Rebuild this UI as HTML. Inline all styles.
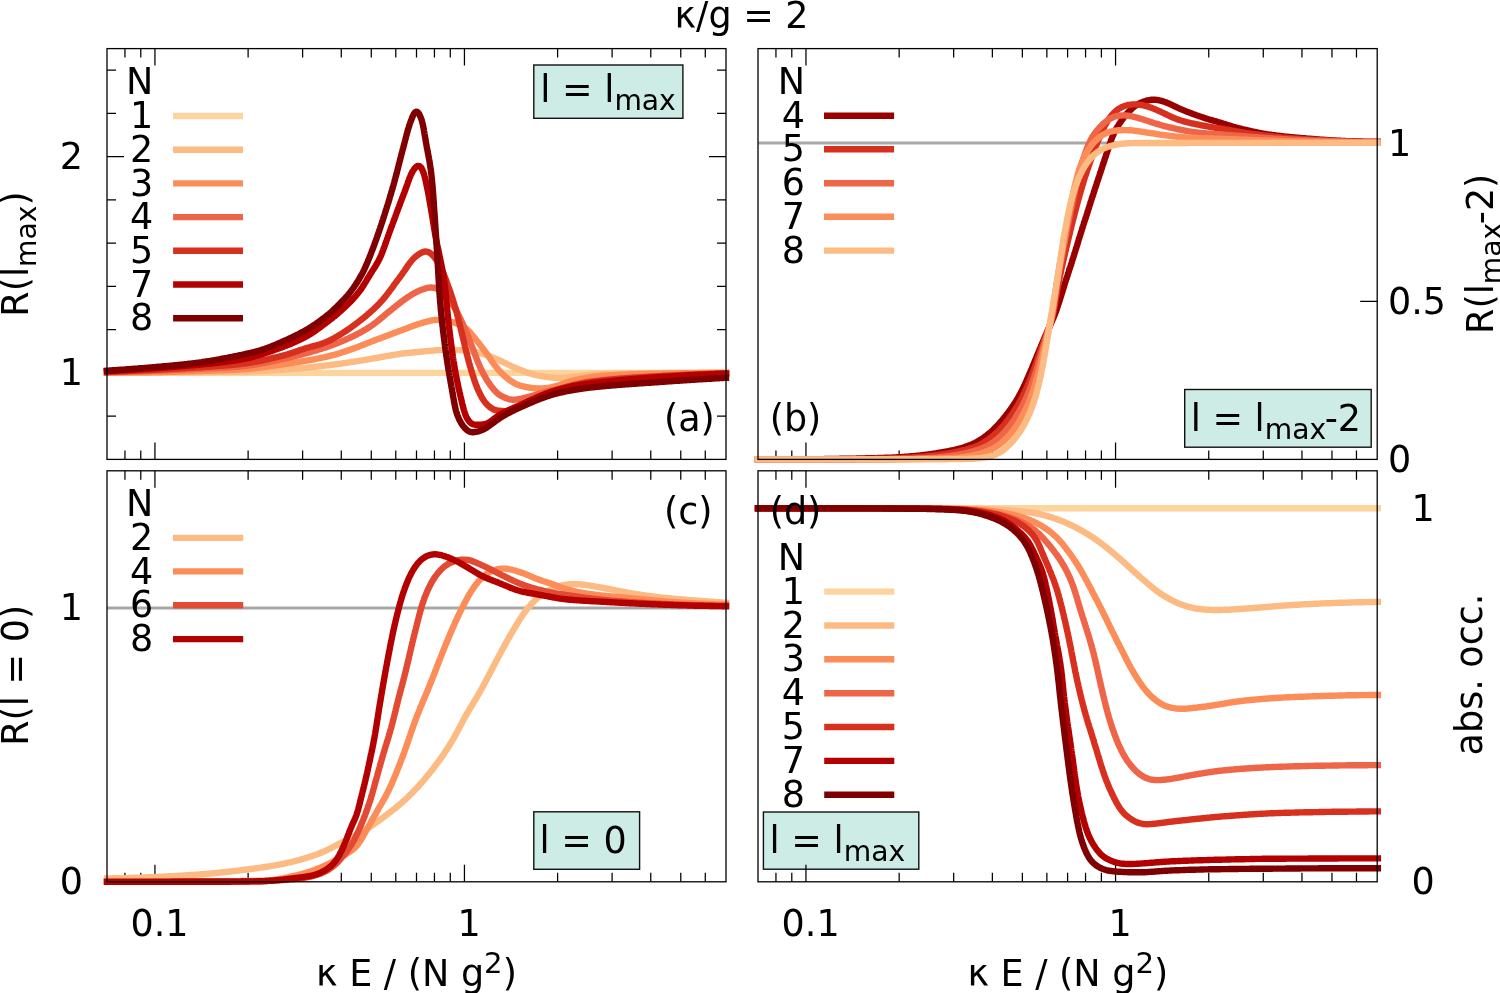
<!DOCTYPE html>
<html><head><meta charset="utf-8"><title>plot</title>
<style>html,body{margin:0;padding:0;background:#fff;}svg{display:block;}text{font-family:"DejaVu Sans", "Liberation Sans", sans-serif;fill:#000;}</style>
</head><body>
<svg width="1500" height="993" viewBox="0 0 1500 993">
<rect width="1500" height="993" fill="#fff"/>
<defs>
<clipPath id="clipa"><rect x="103" y="44.6" width="627" height="418.79999999999995"/></clipPath>
<clipPath id="clipb"><rect x="754" y="44.6" width="627.2" height="418.79999999999995"/></clipPath>
<clipPath id="clipc"><rect x="103" y="466.8" width="627" height="418.99999999999994"/></clipPath>
<clipPath id="clipd"><rect x="754" y="466.8" width="627.2" height="418.99999999999994"/></clipPath>
</defs>
<text x="741.6" y="27.8" text-anchor="middle" font-size="36.5" >κ/g = 2</text>
<rect x="533.8" y="65.0" width="149.1" height="53.3" fill="#cdece5" stroke="#111" stroke-width="1.4"/>
<text x="540.3" y="101.6" font-size="36.5">l = l<tspan font-size="28.2" dy="8.3">max</tspan></text>
<path d="M124.95 459.4v-9M124.95 48.6v9M140.78 459.4v-9M140.78 48.6v9M154.94 459.4v-17M154.94 48.6v17M248.11 459.4v-9M248.11 48.6v9M302.61 459.4v-9M302.61 48.6v9M341.28 459.4v-9M341.28 48.6v9M371.27 459.4v-9M371.27 48.6v9M395.78 459.4v-9M395.78 48.6v9M416.50 459.4v-9M416.50 48.6v9M434.45 459.4v-9M434.45 48.6v9M450.28 459.4v-9M450.28 48.6v9M464.44 459.4v-17M464.44 48.6v17M557.61 459.4v-9M557.61 48.6v9M612.11 459.4v-9M612.11 48.6v9M650.78 459.4v-9M650.78 48.6v9M680.77 459.4v-9M680.77 48.6v9M705.28 459.4v-9M705.28 48.6v9M107 372.92h17M726 372.92h-17M107 156.71h17M726 156.71h-17M107 416.16h9M726 416.16h-9M107 329.67h9M726 329.67h-9M107 286.43h9M726 286.43h-9M107 243.19h9M726 243.19h-9M107 199.95h9M726 199.95h-9M107 113.46h9M726 113.46h-9M107 70.22h9M726 70.22h-9" stroke="#000" stroke-width="1.25" fill="none"/>
<text x="153.3" y="93.8" text-anchor="end" font-size="36.5" >N</text>
<text x="153.3" y="128.1" text-anchor="end" font-size="36.5" >1</text>
<path d="M173.1 116.0H243" stroke="#fdd49e" stroke-width="6.4"/>
<text x="153.3" y="161.8" text-anchor="end" font-size="36.5" >2</text>
<path d="M173.1 149.7H243" stroke="#fdbb84" stroke-width="6.4"/>
<text x="153.3" y="195.5" text-anchor="end" font-size="36.5" >3</text>
<path d="M173.1 183.4H243" stroke="#fc8d59" stroke-width="6.4"/>
<text x="153.3" y="229.2" text-anchor="end" font-size="36.5" >4</text>
<path d="M173.1 217.1H243" stroke="#ef6548" stroke-width="6.4"/>
<text x="153.3" y="262.9" text-anchor="end" font-size="36.5" >5</text>
<path d="M173.1 250.8H243" stroke="#d7301f" stroke-width="6.4"/>
<text x="153.3" y="296.6" text-anchor="end" font-size="36.5" >7</text>
<path d="M173.1 284.5H243" stroke="#b30000" stroke-width="6.4"/>
<text x="153.3" y="330.3" text-anchor="end" font-size="36.5" >8</text>
<path d="M173.1 318.2H243" stroke="#7f0000" stroke-width="6.4"/>
<g clip-path="url(#clipa)">
<polyline points="107.0,372.9 108.0,372.9 109.0,372.9 110.0,372.9 111.0,372.9 112.0,372.9 113.0,372.9 114.0,372.9 115.0,372.9 116.0,372.9 117.0,372.9 118.0,372.9 119.0,372.9 120.0,372.9 121.0,372.9 122.0,372.9 123.0,372.9 124.0,372.9 125.0,372.9 126.0,372.9 127.0,372.9 128.0,372.9 129.0,372.9 130.0,372.9 131.0,372.9 132.0,372.9 133.0,372.9 134.0,372.9 135.0,372.9 136.0,372.9 137.0,372.9 138.0,372.9 139.0,372.9 140.0,372.9 141.0,372.9 142.0,372.9 143.0,372.9 144.0,372.9 145.0,372.9 146.0,372.9 147.0,372.9 148.0,372.9 149.0,372.9 150.0,372.9 151.0,372.9 152.0,372.9 153.0,372.9 154.0,372.9 155.0,372.9 156.0,372.9 157.0,372.9 158.0,372.9 159.0,372.9 160.0,372.9 161.0,372.9 162.0,372.9 163.0,372.9 164.0,372.9 165.0,372.9 166.0,372.9 167.0,372.9 168.0,372.9 169.0,372.9 170.0,372.9 171.0,372.9 172.0,372.9 173.0,372.9 174.0,372.9 175.0,372.9 176.0,372.9 177.0,372.9 178.0,372.9 179.0,372.9 180.0,372.9 181.0,372.9 182.0,372.9 183.0,372.9 184.0,372.9 185.0,372.9 186.0,372.9 187.0,372.9 188.0,372.9 189.0,372.9 190.0,372.9 191.0,372.9 192.0,372.9 193.0,372.9 194.0,372.9 195.0,372.9 196.0,372.9 197.0,372.9 198.0,372.9 199.0,372.9 200.0,372.9 201.0,372.9 202.0,372.9 203.0,372.9 204.0,372.9 205.0,372.9 206.0,372.9 207.0,372.9 208.0,372.9 209.0,372.9 210.0,372.9 211.0,372.9 212.0,372.9 213.0,372.9 214.0,372.9 215.0,372.9 216.0,372.9 217.0,372.9 218.0,372.9 219.0,372.9 220.0,372.9 221.0,372.9 222.0,372.9 223.0,372.9 224.0,372.9 225.0,372.9 226.0,372.9 227.0,372.9 228.0,372.9 229.0,372.9 230.0,372.9 231.0,372.9 232.0,372.9 233.0,372.9 234.0,372.9 235.0,372.9 236.0,372.9 237.0,372.9 238.0,372.9 239.0,372.9 240.0,372.9 241.0,372.9 242.0,372.9 243.0,372.9 244.0,372.9 245.0,372.9 246.0,372.9 247.0,372.9 248.0,372.9 249.0,372.9 250.0,372.9 251.0,372.9 252.0,372.9 253.0,372.9 254.0,372.9 255.0,372.9 256.0,372.9 257.0,372.9 258.0,372.9 259.0,372.9 260.0,372.9 261.0,372.9 262.0,372.9 263.0,372.9 264.0,372.9 265.0,372.9 266.0,372.9 267.0,372.9 268.0,372.9 269.0,372.9 270.0,372.9 271.0,372.9 272.0,372.9 273.0,372.9 274.0,372.9 275.0,372.9 276.0,372.9 277.0,372.9 278.0,372.9 279.0,372.9 280.0,372.9 281.0,372.9 282.0,372.9 283.0,372.9 284.0,372.9 285.0,372.9 286.0,372.9 287.0,372.9 288.0,372.9 289.0,372.9 290.0,372.9 291.0,372.9 292.0,372.9 293.0,372.9 294.0,372.9 295.0,372.9 296.0,372.9 297.0,372.9 298.0,372.9 299.0,372.9 300.0,372.9 301.0,372.9 302.0,372.9 303.0,372.9 304.0,372.9 305.0,372.9 306.0,372.9 307.0,372.9 308.0,372.9 309.0,372.9 310.0,372.9 311.0,372.9 312.0,372.9 313.0,372.9 314.0,372.9 315.0,372.9 316.0,372.9 317.0,372.9 318.0,372.9 319.0,372.9 320.0,372.9 321.0,372.9 322.0,372.9 323.0,372.9 324.0,372.9 325.0,372.9 326.0,372.9 327.0,372.9 328.0,372.9 329.0,372.9 330.0,372.9 331.0,372.9 332.0,372.9 333.0,372.9 334.0,372.9 335.0,372.9 336.0,372.9 337.0,372.9 338.0,372.9 339.0,372.9 340.0,372.9 341.0,372.9 342.0,372.9 343.0,372.9 344.0,372.9 345.0,372.9 346.0,372.9 347.0,372.9 348.0,372.9 349.0,372.9 350.0,372.9 351.0,372.9 352.0,372.9 353.0,372.9 354.0,372.9 355.0,372.9 356.0,372.9 357.0,372.9 358.0,372.9 359.0,372.9 360.0,372.9 361.0,372.9 362.0,372.9 363.0,372.9 364.0,372.9 365.0,372.9 366.0,372.9 367.0,372.9 368.0,372.9 369.0,372.9 370.0,372.9 371.0,372.9 372.0,372.9 373.0,372.9 374.0,372.9 375.0,372.9 376.0,372.9 377.0,372.9 378.0,372.9 379.0,372.9 380.0,372.9 381.0,372.9 382.0,372.9 383.0,372.9 384.0,372.9 385.0,372.9 386.0,372.9 387.0,372.9 388.0,372.9 389.0,372.9 390.0,372.9 391.0,372.9 392.0,372.9 393.0,372.9 394.0,372.9 395.0,372.9 396.0,372.9 397.0,372.9 398.0,372.9 399.0,372.9 400.0,372.9 401.0,372.9 402.0,372.9 403.0,372.9 404.0,372.9 405.0,372.9 406.0,372.9 407.0,372.9 408.0,372.9 409.0,372.9 410.0,372.9 411.0,372.9 412.0,372.9 413.0,372.9 414.0,372.9 415.0,372.9 416.0,372.9 417.0,372.9 418.0,372.9 419.0,372.9 420.0,372.9 421.0,372.9 422.0,372.9 423.0,372.9 424.0,372.9 425.0,372.9 426.0,372.9 427.0,372.9 428.0,372.9 429.0,372.9 430.0,372.9 431.0,372.9 432.0,372.9 433.0,372.9 434.0,372.9 435.0,372.9 436.0,372.9 437.0,372.9 438.0,372.9 439.0,372.9 440.0,372.9 441.0,372.9 442.0,372.9 443.0,372.9 444.0,372.9 445.0,372.9 446.0,372.9 447.0,372.9 448.0,372.9 449.0,372.9 450.0,372.9 451.0,372.9 452.0,372.9 453.0,372.9 454.0,372.9 455.0,372.9 456.0,372.9 457.0,372.9 458.0,372.9 459.0,372.9 460.0,372.9 461.0,372.9 462.0,372.9 463.0,372.9 464.0,372.9 465.0,372.9 466.0,372.9 467.0,372.9 468.0,372.9 469.0,372.9 470.0,372.9 471.0,372.9 472.0,372.9 473.0,372.9 474.0,372.9 475.0,372.9 476.0,372.9 477.0,372.9 478.0,372.9 479.0,372.9 480.0,372.9 481.0,372.9 482.0,372.9 483.0,372.9 484.0,372.9 485.0,372.9 486.0,372.9 487.0,372.9 488.0,372.9 489.0,372.9 490.0,372.9 491.0,372.9 492.0,372.9 493.0,372.9 494.0,372.9 495.0,372.9 496.0,372.9 497.0,372.9 498.0,372.9 499.0,372.9 500.0,372.9 501.0,372.9 502.0,372.9 503.0,372.9 504.0,372.9 505.0,372.9 506.0,372.9 507.0,372.9 508.0,372.9 509.0,372.9 510.0,372.9 511.0,372.9 512.0,372.9 513.0,372.9 514.0,372.9 515.0,372.9 516.0,372.9 517.0,372.9 518.0,372.9 519.0,372.9 520.0,372.9 521.0,372.9 522.0,372.9 523.0,372.9 524.0,372.9 525.0,372.9 526.0,372.9 527.0,372.9 528.0,372.9 529.0,372.9 530.0,372.9 531.0,372.9 532.0,372.9 533.0,372.9 534.0,372.9 535.0,372.9 536.0,372.9 537.0,372.9 538.0,372.9 539.0,372.9 540.0,372.9 541.0,372.9 542.0,372.9 543.0,372.9 544.0,372.9 545.0,372.9 546.0,372.9 547.0,372.9 548.0,372.9 549.0,372.9 550.0,372.9 551.0,372.9 552.0,372.9 553.0,372.9 554.0,372.9 555.0,372.9 556.0,372.9 557.0,372.9 558.0,372.9 559.0,372.9 560.0,372.9 561.0,372.9 562.0,372.9 563.0,372.9 564.0,372.9 565.0,372.9 566.0,372.9 567.0,372.9 568.0,372.9 569.0,372.9 570.0,372.9 571.0,372.9 572.0,372.9 573.0,372.9 574.0,372.9 575.0,372.9 576.0,372.9 577.0,372.9 578.0,372.9 579.0,372.9 580.0,372.9 581.0,372.9 582.0,372.9 583.0,372.9 584.0,372.9 585.0,372.9 586.0,372.9 587.0,372.9 588.0,372.9 589.0,372.9 590.0,372.9 591.0,372.9 592.0,372.9 593.0,372.9 594.0,372.9 595.0,372.9 596.0,372.9 597.0,372.9 598.0,372.9 599.0,372.9 600.0,372.9 601.0,372.9 602.0,372.9 603.0,372.9 604.0,372.9 605.0,372.9 606.0,372.9 607.0,372.9 608.0,372.9 609.0,372.9 610.0,372.9 611.0,372.9 612.0,372.9 613.0,372.9 614.0,372.9 615.0,372.9 616.0,372.9 617.0,372.9 618.0,372.9 619.0,372.9 620.0,372.9 621.0,372.9 622.0,372.9 623.0,372.9 624.0,372.9 625.0,372.9 626.0,372.9 627.0,372.9 628.0,372.9 629.0,372.9 630.0,372.9 631.0,372.9 632.0,372.9 633.0,372.9 634.0,372.9 635.0,372.9 636.0,372.9 637.0,372.9 638.0,372.9 639.0,372.9 640.0,372.9 641.0,372.9 642.0,372.9 643.0,372.9 644.0,372.9 645.0,372.9 646.0,372.9 647.0,372.9 648.0,372.9 649.0,372.9 650.0,372.9 651.0,372.9 652.0,372.9 653.0,372.9 654.0,372.9 655.0,372.9 656.0,372.9 657.0,372.9 658.0,372.9 659.0,372.9 660.0,372.9 661.0,372.9 662.0,372.9 663.0,372.9 664.0,372.9 665.0,372.9 666.0,372.9 667.0,372.9 668.0,372.9 669.0,372.9 670.0,372.9 671.0,372.9 672.0,372.9 673.0,372.9 674.0,372.9 675.0,372.9 676.0,372.9 677.0,372.9 678.0,372.9 679.0,372.9 680.0,372.9 681.0,372.9 682.0,372.9 683.0,372.9 684.0,372.9 685.0,372.9 686.0,372.9 687.0,372.9 688.0,372.9 689.0,372.9 690.0,372.9 691.0,372.9 692.0,372.9 693.0,372.9 694.0,372.9 695.0,372.9 696.0,372.9 697.0,372.9 698.0,372.9 699.0,372.9 700.0,372.9 701.0,372.9 702.0,372.9 703.0,372.9 704.0,372.9 705.0,372.9 706.0,372.9 707.0,372.9 708.0,372.9 709.0,372.9 710.0,372.9 711.0,372.9 712.0,372.9 713.0,372.9 714.0,372.9 715.0,372.9 716.0,372.9 717.0,372.9 718.0,372.9 719.0,372.9 720.0,372.9 721.0,372.9 722.0,372.9 723.0,372.9 724.0,372.9 725.0,372.9 726.0,372.9" fill="none" stroke="#fdd49e" stroke-width="6.4" stroke-linejoin="miter" stroke-linecap="square"/>
<polyline points="107.0,372.7 108.0,372.7 109.0,372.7 110.0,372.7 111.0,372.7 112.0,372.7 113.0,372.7 114.0,372.7 115.0,372.7 116.0,372.7 117.0,372.7 118.0,372.7 119.0,372.7 120.0,372.7 121.0,372.7 122.0,372.7 123.0,372.7 124.0,372.7 125.0,372.7 126.0,372.7 127.0,372.7 128.0,372.7 129.0,372.7 130.0,372.7 131.0,372.7 132.0,372.7 133.0,372.7 134.0,372.7 135.0,372.6 136.0,372.6 137.0,372.6 138.0,372.6 139.0,372.6 140.0,372.6 141.0,372.6 142.0,372.6 143.0,372.6 144.0,372.6 145.0,372.6 146.0,372.6 147.0,372.6 148.0,372.6 149.0,372.6 150.0,372.6 151.0,372.6 152.0,372.6 153.0,372.6 154.0,372.6 155.0,372.5 156.0,372.5 157.0,372.5 158.0,372.5 159.0,372.5 160.0,372.5 161.0,372.5 162.0,372.5 163.0,372.5 164.0,372.5 165.0,372.5 166.0,372.5 167.0,372.5 168.0,372.5 169.0,372.4 170.0,372.4 171.0,372.4 172.0,372.4 173.0,372.4 174.0,372.4 175.0,372.4 176.0,372.4 177.0,372.4 178.0,372.4 179.0,372.4 180.0,372.4 181.0,372.3 182.0,372.3 183.0,372.3 184.0,372.3 185.0,372.3 186.0,372.3 187.0,372.3 188.0,372.3 189.0,372.3 190.0,372.3 191.0,372.2 192.0,372.2 193.0,372.2 194.0,372.2 195.0,372.2 196.0,372.2 197.0,372.2 198.0,372.2 199.0,372.2 200.0,372.1 201.0,372.1 202.0,372.1 203.0,372.1 204.0,372.1 205.0,372.1 206.0,372.1 207.0,372.1 208.0,372.1 209.0,372.0 210.0,372.0 211.0,372.0 212.0,372.0 213.0,372.0 214.0,372.0 215.0,372.0 216.0,371.9 217.0,371.9 218.0,371.9 219.0,371.9 220.0,371.9 221.0,371.9 222.0,371.9 223.0,371.9 224.0,371.8 225.0,371.8 226.0,371.8 227.0,371.8 228.0,371.8 229.0,371.8 230.0,371.8 231.0,371.7 232.0,371.7 233.0,371.7 234.0,371.7 235.0,371.7 236.0,371.7 237.0,371.6 238.0,371.6 239.0,371.6 240.0,371.6 241.0,371.6 242.0,371.6 243.0,371.5 244.0,371.5 245.0,371.5 246.0,371.5 247.0,371.4 248.0,371.4 249.0,371.4 250.0,371.3 251.0,371.3 252.0,371.3 253.0,371.2 254.0,371.2 255.0,371.2 256.0,371.1 257.0,371.1 258.0,371.0 259.0,371.0 260.0,371.0 261.0,370.9 262.0,370.9 263.0,370.8 264.0,370.8 265.0,370.7 266.0,370.7 267.0,370.6 268.0,370.6 269.0,370.5 270.0,370.4 271.0,370.4 272.0,370.3 273.0,370.3 274.0,370.2 275.0,370.2 276.0,370.1 277.0,370.0 278.0,370.0 279.0,369.9 280.0,369.9 281.0,369.8 281.9,369.7 282.9,369.7 283.9,369.6 284.9,369.6 285.9,369.5 286.9,369.4 287.9,369.4 288.9,369.3 289.9,369.2 290.9,369.1 291.9,369.1 292.9,369.0 293.9,368.9 294.9,368.8 295.9,368.7 296.9,368.6 297.9,368.5 298.9,368.5 299.9,368.4 300.9,368.3 301.9,368.2 302.9,368.1 303.9,368.0 304.9,367.9 305.9,367.8 306.9,367.7 307.9,367.6 308.9,367.5 309.8,367.4 310.8,367.2 311.8,367.1 312.8,367.0 313.8,366.9 314.8,366.8 315.8,366.7 316.8,366.6 317.8,366.5 318.8,366.4 319.8,366.2 320.8,366.1 321.8,366.0 322.8,365.9 323.8,365.8 324.7,365.7 325.7,365.5 326.7,365.4 327.7,365.3 328.7,365.2 329.7,365.1 330.7,364.9 331.7,364.8 332.7,364.7 333.7,364.6 334.7,364.4 335.7,364.3 336.7,364.2 337.6,364.0 338.6,363.9 339.6,363.8 340.6,363.6 341.6,363.5 342.6,363.3 343.6,363.2 344.6,363.1 345.6,362.9 346.6,362.8 347.5,362.6 348.5,362.5 349.5,362.3 350.5,362.2 351.5,362.0 352.5,361.9 353.5,361.7 354.5,361.6 355.5,361.4 356.4,361.3 357.4,361.1 358.4,360.9 359.4,360.8 360.4,360.6 361.4,360.5 362.4,360.3 363.4,360.1 364.3,360.0 365.3,359.8 366.3,359.7 367.3,359.5 368.3,359.3 369.3,359.2 370.3,359.0 371.2,358.9 372.2,358.7 373.2,358.5 374.2,358.4 375.2,358.2 376.2,358.0 377.2,357.9 378.1,357.7 379.1,357.5 380.1,357.3 381.1,357.1 382.1,356.9 383.1,356.8 384.0,356.6 385.0,356.4 386.0,356.2 387.0,356.0 388.0,355.8 389.0,355.6 389.9,355.5 390.9,355.3 391.9,355.1 392.9,355.0 393.9,354.8 394.9,354.6 395.9,354.5 396.8,354.3 397.8,354.2 398.8,354.1 399.8,353.9 400.8,353.8 401.8,353.7 402.8,353.5 403.8,353.4 404.8,353.3 405.8,353.2 406.8,353.1 407.8,353.0 408.8,352.9 409.8,352.8 410.7,352.7 411.7,352.6 412.7,352.4 413.7,352.3 414.7,352.3 415.7,352.2 416.7,352.1 417.7,352.0 418.7,351.9 419.7,351.8 420.7,351.7 421.7,351.6 422.7,351.5 423.7,351.4 424.7,351.3 425.7,351.2 426.7,351.1 427.7,351.0 428.7,350.9 429.7,350.9 430.7,350.8 431.7,350.7 432.6,350.6 433.6,350.5 434.6,350.4 435.6,350.3 436.6,350.3 437.6,350.2 438.6,350.2 439.6,350.1 440.6,350.1 441.6,350.1 442.6,350.1 443.6,350.1 444.6,350.1 445.6,350.0 446.6,350.0 447.6,350.0 448.6,350.0 449.6,350.0 450.6,350.0 451.6,350.0 452.6,350.0 453.6,350.0 454.6,350.0 455.6,350.0 456.6,350.0 457.6,350.1 458.6,350.1 459.6,350.1 460.6,350.2 461.6,350.2 462.6,350.3 463.6,350.4 464.6,350.5 465.6,350.6 466.6,350.7 467.6,350.8 468.6,351.0 469.6,351.1 470.6,351.2 471.6,351.4 472.6,351.5 473.5,351.7 474.5,351.8 475.5,352.0 476.5,352.2 477.5,352.4 478.5,352.6 479.4,352.8 480.4,353.1 481.4,353.4 482.3,353.6 483.3,353.9 484.2,354.3 485.2,354.6 486.1,354.9 487.0,355.3 488.0,355.6 488.9,356.0 489.8,356.4 490.8,356.7 491.7,357.1 492.6,357.5 493.5,357.9 494.5,358.2 495.4,358.6 496.3,359.0 497.2,359.4 498.2,359.8 499.1,360.2 500.0,360.6 500.9,361.0 501.8,361.4 502.7,361.9 503.6,362.3 504.5,362.7 505.4,363.2 506.3,363.6 507.2,364.1 508.1,364.5 509.0,365.0 509.9,365.4 510.8,365.9 511.7,366.3 512.6,366.7 513.5,367.1 514.4,367.5 515.3,367.9 516.2,368.3 517.2,368.7 518.1,369.1 519.0,369.4 520.0,369.8 520.9,370.1 521.8,370.5 522.8,370.8 523.7,371.2 524.6,371.5 525.6,371.9 526.5,372.2 527.5,372.5 528.4,372.9 529.4,373.2 530.3,373.5 531.3,373.8 532.2,374.1 533.2,374.3 534.2,374.6 535.1,374.8 536.1,375.1 537.1,375.3 538.1,375.5 539.0,375.7 540.0,375.9 541.0,376.0 542.0,376.2 543.0,376.4 544.0,376.5 545.0,376.6 545.9,376.8 546.9,376.9 547.9,377.1 548.9,377.2 549.9,377.3 550.9,377.4 551.9,377.5 552.9,377.6 553.9,377.7 554.9,377.8 555.9,377.8 556.9,377.9 557.9,377.9 558.9,377.9 559.9,377.9 560.9,377.9 561.9,377.9 562.9,377.8 563.9,377.8 564.9,377.7 565.9,377.6 566.9,377.5 567.9,377.4 568.9,377.3 569.8,377.1 570.8,377.0 571.8,376.9 572.8,376.8 573.8,376.7 574.8,376.5 575.8,376.4 576.8,376.3 577.8,376.2 578.8,376.1 579.8,376.0 580.8,375.9 581.8,375.8 582.8,375.7 583.8,375.6 584.8,375.5 585.8,375.4 586.8,375.3 587.7,375.2 588.7,375.1 589.7,375.0 590.7,374.9 591.7,374.8 592.7,374.8 593.7,374.7 594.7,374.6 595.7,374.5 596.7,374.5 597.7,374.4 598.7,374.4 599.7,374.3 600.7,374.3 601.7,374.2 602.7,374.2 603.7,374.2 604.7,374.1 605.7,374.1 606.7,374.1 607.7,374.0 608.7,374.0 609.7,374.0 610.7,373.9 611.7,373.9 612.7,373.9 613.7,373.9 614.7,373.8 615.7,373.8 616.7,373.8 617.7,373.7 618.7,373.7 619.7,373.7 620.7,373.7 621.7,373.6 622.7,373.6 623.7,373.6 624.7,373.6 625.7,373.6 626.7,373.5 627.7,373.5 628.7,373.5 629.7,373.5 630.7,373.5 631.7,373.4 632.7,373.4 633.7,373.4 634.7,373.4 635.7,373.4 636.7,373.4 637.7,373.3 638.7,373.3 639.7,373.3 640.7,373.3 641.7,373.3 642.7,373.3 643.7,373.3 644.7,373.3 645.7,373.2 646.7,373.2 647.7,373.2 648.7,373.2 649.7,373.2 650.7,373.2 651.7,373.2 652.7,373.2 653.7,373.2 654.7,373.2 655.7,373.2 656.7,373.1 657.7,373.1 658.7,373.1 659.7,373.1 660.7,373.1 661.7,373.1 662.7,373.1 663.7,373.1 664.7,373.1 665.7,373.1 666.7,373.1 667.7,373.1 668.7,373.0 669.7,373.0 670.7,373.0 671.7,373.0 672.7,373.0 673.7,373.0 674.7,373.0 675.7,373.0 676.7,373.0 677.7,373.0 678.7,373.0 679.7,373.0 680.7,373.0 681.7,373.0 682.7,372.9 683.7,372.9 684.7,372.9 685.7,372.9 686.7,372.9 687.7,372.9 688.7,372.9 689.7,372.9 690.7,372.9 691.7,372.9 692.7,372.9 693.7,372.9 694.7,372.9 695.7,372.9 696.7,372.9 697.7,372.9 698.7,372.9 699.7,372.9 700.7,372.9 701.7,372.9 702.7,372.8 703.7,372.8 704.7,372.8 705.7,372.8 706.7,372.8 707.7,372.8 708.7,372.8 709.7,372.8 710.7,372.8 711.7,372.8 712.7,372.8 713.7,372.8 714.7,372.8 715.7,372.8 716.7,372.8 717.7,372.8 718.7,372.8 719.7,372.8 720.7,372.8 721.7,372.8 722.7,372.8 723.7,372.8 724.7,372.8 725.7,372.8 726.0,372.8" fill="none" stroke="#fdbb84" stroke-width="6.4" stroke-linejoin="miter" stroke-linecap="square"/>
<polyline points="107.0,372.5 108.0,372.5 109.0,372.5 110.0,372.5 111.0,372.5 112.0,372.5 113.0,372.5 114.0,372.5 115.0,372.5 116.0,372.5 117.0,372.5 118.0,372.5 119.0,372.5 120.0,372.5 121.0,372.5 122.0,372.5 123.0,372.5 124.0,372.4 125.0,372.4 126.0,372.4 127.0,372.4 128.0,372.4 129.0,372.4 130.0,372.4 131.0,372.4 132.0,372.4 133.0,372.4 134.0,372.4 135.0,372.4 136.0,372.3 137.0,372.3 138.0,372.3 139.0,372.3 140.0,372.3 141.0,372.3 142.0,372.3 143.0,372.3 144.0,372.3 145.0,372.2 146.0,372.2 147.0,372.2 148.0,372.2 149.0,372.2 150.0,372.2 151.0,372.2 152.0,372.1 153.0,372.1 154.0,372.1 155.0,372.1 156.0,372.1 157.0,372.1 158.0,372.0 159.0,372.0 160.0,372.0 161.0,372.0 162.0,372.0 163.0,371.9 164.0,371.9 165.0,371.9 166.0,371.9 167.0,371.9 168.0,371.8 169.0,371.8 170.0,371.8 171.0,371.8 172.0,371.7 173.0,371.7 174.0,371.7 175.0,371.7 176.0,371.7 177.0,371.6 178.0,371.6 179.0,371.6 180.0,371.6 181.0,371.5 182.0,371.5 183.0,371.5 184.0,371.5 185.0,371.4 186.0,371.4 187.0,371.4 188.0,371.3 189.0,371.3 190.0,371.3 191.0,371.3 192.0,371.2 193.0,371.2 194.0,371.2 195.0,371.1 196.0,371.1 197.0,371.1 198.0,371.1 199.0,371.0 200.0,371.0 201.0,371.0 202.0,370.9 203.0,370.9 204.0,370.9 205.0,370.8 206.0,370.8 207.0,370.8 208.0,370.7 209.0,370.7 210.0,370.7 211.0,370.6 212.0,370.6 213.0,370.6 214.0,370.5 215.0,370.5 216.0,370.5 217.0,370.4 218.0,370.4 219.0,370.3 220.0,370.3 221.0,370.3 222.0,370.2 223.0,370.2 224.0,370.2 225.0,370.1 226.0,370.1 227.0,370.0 228.0,370.0 229.0,370.0 230.0,369.9 231.0,369.9 232.0,369.8 233.0,369.8 234.0,369.8 235.0,369.7 236.0,369.7 237.0,369.6 238.0,369.6 239.0,369.5 240.0,369.5 241.0,369.4 242.0,369.4 243.0,369.3 243.9,369.3 244.9,369.2 245.9,369.1 246.9,369.0 247.9,369.0 248.9,368.9 249.9,368.8 250.9,368.7 251.9,368.6 252.9,368.5 253.9,368.4 254.9,368.3 255.9,368.1 256.9,368.0 257.9,367.9 258.9,367.8 259.9,367.7 260.9,367.5 261.8,367.4 262.8,367.3 263.8,367.1 264.8,367.0 265.8,366.8 266.8,366.7 267.8,366.6 268.8,366.4 269.8,366.3 270.8,366.1 271.7,366.0 272.7,365.8 273.7,365.7 274.7,365.5 275.7,365.4 276.7,365.2 277.7,365.1 278.7,364.9 279.7,364.8 280.6,364.6 281.6,364.5 282.6,364.3 283.6,364.2 284.6,364.1 285.6,363.9 286.6,363.8 287.6,363.6 288.6,363.5 289.6,363.3 290.5,363.2 291.5,363.0 292.5,362.9 293.5,362.7 294.5,362.6 295.5,362.4 296.5,362.3 297.5,362.1 298.4,362.0 299.4,361.8 300.4,361.7 301.4,361.5 302.4,361.3 303.4,361.2 304.4,361.0 305.4,360.9 306.3,360.7 307.3,360.5 308.3,360.4 309.3,360.2 310.3,360.0 311.3,359.8 312.3,359.6 313.2,359.5 314.2,359.3 315.2,359.1 316.2,358.9 317.2,358.7 318.1,358.5 319.1,358.3 320.1,358.1 321.1,357.9 322.1,357.7 323.0,357.5 324.0,357.3 325.0,357.1 326.0,356.9 327.0,356.7 327.9,356.4 328.9,356.2 329.9,356.0 330.8,355.7 331.8,355.5 332.8,355.2 333.7,355.0 334.7,354.7 335.7,354.4 336.6,354.1 337.6,353.8 338.5,353.5 339.5,353.3 340.4,352.9 341.4,352.6 342.3,352.3 343.3,352.0 344.2,351.7 345.2,351.4 346.1,351.1 347.1,350.8 348.0,350.4 349.0,350.1 349.9,349.8 350.9,349.5 351.8,349.1 352.8,348.8 353.7,348.4 354.6,348.1 355.6,347.8 356.5,347.4 357.4,347.1 358.4,346.7 359.3,346.3 360.2,346.0 361.2,345.6 362.1,345.2 363.0,344.9 364.0,344.5 364.9,344.1 365.8,343.8 366.8,343.4 367.7,343.0 368.6,342.7 369.6,342.3 370.5,341.9 371.4,341.6 372.3,341.2 373.3,340.9 374.2,340.5 375.2,340.1 376.1,339.8 377.0,339.4 378.0,339.1 378.9,338.7 379.8,338.4 380.8,338.0 381.7,337.7 382.6,337.3 383.6,337.0 384.5,336.6 385.4,336.3 386.4,335.9 387.3,335.6 388.2,335.2 389.2,334.9 390.1,334.5 391.1,334.2 392.0,333.8 392.9,333.5 393.9,333.1 394.8,332.8 395.7,332.4 396.7,332.1 397.6,331.7 398.6,331.4 399.5,331.0 400.4,330.7 401.4,330.3 402.3,330.0 403.2,329.6 404.2,329.2 405.1,328.9 406.0,328.5 407.0,328.2 407.9,327.8 408.8,327.5 409.8,327.1 410.7,326.8 411.7,326.4 412.6,326.1 413.5,325.7 414.5,325.4 415.4,325.0 416.4,324.7 417.3,324.4 418.3,324.1 419.2,323.8 420.2,323.5 421.1,323.2 422.1,322.9 423.0,322.6 424.0,322.3 424.9,322.0 425.9,321.8 426.9,321.5 427.9,321.3 428.8,321.1 429.8,320.8 430.8,320.6 431.8,320.4 432.7,320.3 433.7,320.1 434.7,320.0 435.7,319.9 436.7,319.9 437.7,319.9 438.7,320.0 439.7,320.0 440.7,320.1 441.7,320.2 442.7,320.3 443.7,320.5 444.7,320.6 445.7,320.8 446.7,320.9 447.6,321.1 448.6,321.3 449.6,321.5 450.6,321.7 451.6,321.9 452.5,322.2 453.5,322.4 454.4,322.7 455.4,323.1 456.3,323.4 457.3,323.8 458.2,324.2 459.1,324.6 460.0,325.0 460.9,325.5 461.8,325.9 462.6,326.4 463.5,326.9 464.4,327.5 465.2,328.0 466.0,328.6 466.8,329.2 467.5,329.9 468.3,330.5 469.0,331.3 469.7,332.0 470.3,332.7 471.0,333.5 471.6,334.3 472.3,335.0 472.9,335.8 473.5,336.6 474.1,337.4 474.8,338.2 475.4,338.9 476.0,339.7 476.6,340.5 477.3,341.3 477.9,342.1 478.5,342.8 479.1,343.6 479.8,344.4 480.4,345.2 481.0,346.0 481.6,346.8 482.2,347.6 482.8,348.4 483.4,349.2 484.0,350.0 484.6,350.8 485.2,351.6 485.8,352.4 486.4,353.2 487.0,354.0 487.5,354.8 488.1,355.6 488.7,356.4 489.2,357.3 489.8,358.1 490.4,358.9 490.9,359.8 491.5,360.6 492.0,361.4 492.6,362.2 493.2,363.1 493.8,363.9 494.3,364.7 494.9,365.5 495.6,366.3 496.2,367.1 496.8,367.8 497.5,368.6 498.1,369.4 498.8,370.1 499.4,370.9 500.1,371.6 500.8,372.3 501.5,373.1 502.2,373.8 502.9,374.5 503.6,375.2 504.3,375.8 505.1,376.5 505.9,377.2 506.6,377.8 507.4,378.4 508.2,379.0 509.0,379.6 509.8,380.2 510.7,380.8 511.5,381.3 512.3,381.9 513.2,382.4 514.0,382.9 514.9,383.4 515.8,383.9 516.7,384.3 517.6,384.7 518.5,385.1 519.5,385.4 520.4,385.7 521.4,386.0 522.4,386.2 523.3,386.4 524.3,386.7 525.3,386.9 526.3,387.1 527.2,387.2 528.2,387.4 529.2,387.6 530.2,387.7 531.2,387.9 532.2,388.0 533.2,388.1 534.2,388.2 535.2,388.3 536.2,388.4 537.2,388.5 538.2,388.5 539.2,388.5 540.2,388.5 541.2,388.5 542.2,388.5 543.2,388.4 544.2,388.3 545.1,388.2 546.1,388.1 547.1,387.9 548.1,387.8 549.1,387.6 550.1,387.5 551.1,387.3 552.1,387.1 553.0,386.9 554.0,386.7 555.0,386.4 556.0,386.2 556.9,385.9 557.9,385.6 558.8,385.3 559.8,384.9 560.7,384.6 561.6,384.2 562.5,383.8 563.5,383.5 564.4,383.1 565.3,382.7 566.3,382.4 567.2,382.1 568.2,381.8 569.1,381.5 570.1,381.3 571.1,381.0 572.1,380.8 573.0,380.6 574.0,380.4 575.0,380.1 576.0,379.9 576.9,379.7 577.9,379.5 578.9,379.3 579.9,379.1 580.9,378.9 581.8,378.7 582.8,378.5 583.8,378.3 584.8,378.2 585.8,378.0 586.8,377.8 587.7,377.7 588.7,377.5 589.7,377.3 590.7,377.2 591.7,377.0 592.7,376.9 593.7,376.8 594.7,376.6 595.7,376.5 596.7,376.4 597.6,376.3 598.6,376.2 599.6,376.1 600.6,376.0 601.6,375.9 602.6,375.8 603.6,375.7 604.6,375.7 605.6,375.6 606.6,375.5 607.6,375.5 608.6,375.4 609.6,375.3 610.6,375.3 611.6,375.2 612.6,375.2 613.6,375.1 614.6,375.1 615.6,375.0 616.6,375.0 617.6,374.9 618.6,374.8 619.6,374.8 620.6,374.8 621.6,374.7 622.6,374.7 623.6,374.6 624.6,374.6 625.6,374.5 626.6,374.5 627.6,374.4 628.6,374.4 629.6,374.4 630.6,374.3 631.6,374.3 632.6,374.3 633.6,374.2 634.6,374.2 635.6,374.2 636.6,374.1 637.6,374.1 638.6,374.1 639.6,374.0 640.6,374.0 641.6,374.0 642.6,374.0 643.6,373.9 644.6,373.9 645.6,373.9 646.6,373.9 647.6,373.9 648.6,373.8 649.6,373.8 650.6,373.8 651.6,373.8 652.6,373.8 653.6,373.7 654.6,373.7 655.6,373.7 656.6,373.7 657.6,373.7 658.6,373.6 659.6,373.6 660.6,373.6 661.6,373.6 662.6,373.6 663.6,373.5 664.6,373.5 665.6,373.5 666.6,373.5 667.6,373.5 668.6,373.5 669.6,373.4 670.6,373.4 671.6,373.4 672.6,373.4 673.6,373.4 674.6,373.4 675.6,373.3 676.6,373.3 677.6,373.3 678.6,373.3 679.6,373.3 680.6,373.3 681.6,373.3 682.6,373.2 683.6,373.2 684.6,373.2 685.6,373.2 686.6,373.2 687.6,373.2 688.6,373.2 689.6,373.1 690.6,373.1 691.6,373.1 692.6,373.1 693.6,373.1 694.6,373.1 695.6,373.1 696.6,373.1 697.6,373.1 698.6,373.0 699.6,373.0 700.6,373.0 701.6,373.0 702.6,373.0 703.6,373.0 704.6,373.0 705.6,373.0 706.6,373.0 707.6,373.0 708.6,373.0 709.6,373.0 710.6,372.9 711.6,372.9 712.6,372.9 713.6,372.9 714.6,372.9 715.6,372.9 716.6,372.9 717.6,372.9 718.6,372.9 719.6,372.9 720.6,372.9 721.6,372.9 722.6,372.9 723.6,372.9 724.6,372.9 725.6,372.9 726.0,372.9" fill="none" stroke="#fc8d59" stroke-width="6.4" stroke-linejoin="miter" stroke-linecap="square"/>
<polyline points="107.0,372.2 108.0,372.2 109.0,372.2 110.0,372.1 111.0,372.1 112.0,372.1 113.0,372.1 114.0,372.0 115.0,372.0 116.0,372.0 117.0,372.0 118.0,371.9 119.0,371.9 120.0,371.9 121.0,371.8 122.0,371.8 123.0,371.8 124.0,371.8 125.0,371.7 126.0,371.7 127.0,371.7 128.0,371.6 129.0,371.6 130.0,371.6 131.0,371.5 132.0,371.5 133.0,371.5 134.0,371.5 135.0,371.4 136.0,371.4 137.0,371.4 138.0,371.3 139.0,371.3 140.0,371.3 141.0,371.2 142.0,371.2 143.0,371.1 144.0,371.1 145.0,371.1 146.0,371.0 147.0,371.0 148.0,371.0 149.0,370.9 150.0,370.9 151.0,370.9 152.0,370.8 153.0,370.8 154.0,370.7 155.0,370.7 156.0,370.7 157.0,370.6 158.0,370.6 159.0,370.6 160.0,370.5 161.0,370.5 162.0,370.4 163.0,370.4 164.0,370.4 165.0,370.3 166.0,370.3 167.0,370.2 168.0,370.2 169.0,370.2 170.0,370.1 171.0,370.1 172.0,370.0 173.0,370.0 174.0,369.9 175.0,369.9 176.0,369.9 177.0,369.8 178.0,369.8 179.0,369.7 180.0,369.7 181.0,369.6 182.0,369.6 183.0,369.6 184.0,369.5 185.0,369.5 185.9,369.4 186.9,369.4 187.9,369.3 188.9,369.3 189.9,369.3 190.9,369.2 191.9,369.2 192.9,369.1 193.9,369.1 194.9,369.0 195.9,369.0 196.9,368.9 197.9,368.9 198.9,368.9 199.9,368.8 200.9,368.8 201.9,368.7 202.9,368.7 203.9,368.6 204.9,368.6 205.9,368.5 206.9,368.5 207.9,368.4 208.9,368.4 209.9,368.4 210.9,368.3 211.9,368.3 212.9,368.2 213.9,368.2 214.9,368.1 215.9,368.1 216.9,368.0 217.9,368.0 218.9,367.9 219.9,367.9 220.9,367.8 221.9,367.8 222.9,367.7 223.9,367.6 224.9,367.6 225.9,367.5 226.9,367.5 227.9,367.4 228.9,367.3 229.9,367.3 230.9,367.2 231.9,367.1 232.9,367.1 233.9,367.0 234.9,366.9 235.9,366.8 236.9,366.8 237.9,366.7 238.9,366.6 239.9,366.5 240.9,366.4 241.9,366.3 242.9,366.2 243.8,366.1 244.8,366.0 245.8,365.9 246.8,365.8 247.8,365.6 248.8,365.5 249.8,365.4 250.8,365.2 251.8,365.1 252.8,364.9 253.8,364.8 254.7,364.6 255.7,364.4 256.7,364.3 257.7,364.1 258.7,363.9 259.7,363.7 260.6,363.5 261.6,363.4 262.6,363.2 263.6,363.0 264.6,362.8 265.6,362.6 266.5,362.4 267.5,362.2 268.5,362.0 269.5,361.8 270.5,361.6 271.4,361.4 272.4,361.2 273.4,361.0 274.4,360.8 275.3,360.5 276.3,360.3 277.3,360.1 278.3,359.9 279.3,359.7 280.2,359.5 281.2,359.3 282.2,359.1 283.2,358.8 284.1,358.6 285.1,358.4 286.1,358.2 287.1,358.0 288.0,357.8 289.0,357.5 290.0,357.3 291.0,357.1 291.9,356.9 292.9,356.6 293.9,356.4 294.9,356.2 295.8,355.9 296.8,355.7 297.8,355.4 298.7,355.2 299.7,354.9 300.7,354.7 301.6,354.4 302.6,354.2 303.6,353.9 304.5,353.7 305.5,353.4 306.5,353.1 307.4,352.9 308.4,352.6 309.4,352.3 310.3,352.1 311.3,351.8 312.2,351.5 313.2,351.2 314.2,351.0 315.1,350.7 316.1,350.4 317.0,350.1 318.0,349.8 319.0,349.5 319.9,349.2 320.9,348.9 321.8,348.6 322.8,348.3 323.7,348.0 324.7,347.7 325.6,347.4 326.6,347.1 327.5,346.8 328.5,346.4 329.4,346.1 330.4,345.8 331.3,345.4 332.2,345.1 333.2,344.8 334.1,344.4 335.1,344.1 336.0,343.7 336.9,343.3 337.8,343.0 338.8,342.6 339.7,342.2 340.6,341.8 341.5,341.4 342.5,341.1 343.4,340.7 344.3,340.3 345.2,339.9 346.1,339.5 347.0,339.0 348.0,338.6 348.9,338.2 349.8,337.8 350.7,337.4 351.6,336.9 352.5,336.5 353.4,336.1 354.3,335.6 355.2,335.2 356.1,334.7 357.0,334.3 357.8,333.8 358.7,333.3 359.6,332.9 360.5,332.4 361.4,331.9 362.2,331.4 363.1,330.9 364.0,330.4 364.8,329.9 365.7,329.4 366.5,328.9 367.4,328.4 368.3,327.8 369.1,327.3 369.9,326.8 370.8,326.2 371.6,325.6 372.4,325.1 373.2,324.5 374.0,323.9 374.8,323.3 375.6,322.7 376.4,322.1 377.2,321.4 378.0,320.8 378.7,320.2 379.5,319.5 380.3,318.9 381.0,318.3 381.8,317.6 382.6,317.0 383.3,316.3 384.1,315.7 384.9,315.0 385.6,314.4 386.4,313.7 387.2,313.1 387.9,312.5 388.7,311.8 389.5,311.2 390.3,310.6 391.1,310.0 391.8,309.3 392.6,308.7 393.4,308.1 394.2,307.5 395.0,306.9 395.8,306.2 396.5,305.6 397.3,305.0 398.1,304.4 398.9,303.8 399.7,303.1 400.5,302.5 401.3,301.9 402.0,301.3 402.8,300.7 403.6,300.1 404.4,299.5 405.3,298.9 406.1,298.3 406.9,297.8 407.7,297.2 408.6,296.6 409.4,296.1 410.2,295.6 411.1,295.0 411.9,294.5 412.8,294.0 413.7,293.5 414.5,293.0 415.4,292.5 416.3,292.1 417.2,291.6 418.1,291.2 419.0,290.8 419.9,290.4 420.9,290.0 421.8,289.7 422.7,289.3 423.7,289.0 424.6,288.7 425.6,288.4 426.5,288.1 427.5,287.9 428.5,287.7 429.5,287.6 430.5,287.5 431.5,287.5 432.5,287.6 433.5,287.7 434.5,287.9 435.4,288.2 436.4,288.5 437.3,288.9 438.2,289.3 439.1,289.8 439.9,290.3 440.7,290.9 441.5,291.6 442.2,292.2 443.0,292.9 443.7,293.6 444.4,294.3 445.1,295.1 445.7,295.8 446.4,296.5 447.1,297.3 447.7,298.0 448.4,298.8 449.0,299.6 449.6,300.4 450.2,301.2 450.8,302.0 451.3,302.8 451.9,303.7 452.5,304.5 453.0,305.3 453.5,306.2 454.1,307.0 454.6,307.9 455.1,308.7 455.6,309.6 456.1,310.5 456.6,311.3 457.1,312.2 457.5,313.1 458.0,314.0 458.5,314.9 458.9,315.8 459.4,316.7 459.8,317.6 460.2,318.4 460.7,319.3 461.1,320.3 461.5,321.2 462.0,322.1 462.4,323.0 462.8,323.9 463.2,324.8 463.6,325.7 464.0,326.6 464.4,327.5 464.8,328.4 465.2,329.4 465.6,330.3 466.0,331.2 466.4,332.1 466.7,333.1 467.1,334.0 467.5,334.9 467.8,335.9 468.2,336.8 468.6,337.7 468.9,338.7 469.3,339.6 469.6,340.5 470.0,341.5 470.3,342.4 470.7,343.3 471.1,344.3 471.4,345.2 471.8,346.1 472.1,347.1 472.5,348.0 472.9,348.9 473.2,349.9 473.6,350.8 474.0,351.7 474.3,352.7 474.7,353.6 475.0,354.5 475.4,355.5 475.7,356.4 476.1,357.3 476.5,358.3 476.8,359.2 477.2,360.1 477.5,361.1 477.9,362.0 478.3,362.9 478.7,363.8 479.1,364.8 479.5,365.7 479.9,366.6 480.3,367.5 480.7,368.4 481.1,369.3 481.6,370.2 482.0,371.1 482.5,372.0 482.9,372.9 483.4,373.8 483.9,374.7 484.3,375.5 484.8,376.4 485.3,377.3 485.8,378.1 486.3,379.0 486.8,379.9 487.3,380.7 487.9,381.6 488.4,382.4 489.0,383.2 489.6,384.0 490.1,384.9 490.7,385.7 491.4,386.5 492.0,387.2 492.6,388.0 493.2,388.8 493.9,389.6 494.5,390.3 495.2,391.0 495.9,391.8 496.6,392.5 497.3,393.2 498.1,393.8 498.9,394.4 499.7,395.0 500.6,395.5 501.4,396.0 502.3,396.5 503.2,396.9 504.1,397.4 505.0,397.8 506.0,398.1 506.9,398.5 507.8,398.8 508.8,399.1 509.8,399.3 510.8,399.5 511.8,399.6 512.7,399.7 513.7,399.7 514.7,399.7 515.7,399.6 516.7,399.5 517.7,399.4 518.7,399.2 519.7,399.0 520.7,398.8 521.6,398.6 522.6,398.3 523.6,398.1 524.6,397.8 525.5,397.6 526.5,397.3 527.5,397.1 528.4,396.8 529.4,396.6 530.4,396.3 531.3,396.0 532.3,395.8 533.2,395.5 534.2,395.2 535.2,394.9 536.1,394.6 537.1,394.3 538.0,394.0 539.0,393.7 539.9,393.5 540.9,393.2 541.9,392.9 542.8,392.6 543.8,392.4 544.7,392.1 545.7,391.8 546.7,391.6 547.7,391.4 548.6,391.1 549.6,390.9 550.6,390.7 551.5,390.4 552.5,390.2 553.5,390.0 554.5,389.8 555.4,389.5 556.4,389.3 557.4,389.1 558.4,388.9 559.3,388.6 560.3,388.4 561.3,388.2 562.3,387.9 563.2,387.7 564.2,387.5 565.2,387.2 566.1,387.0 567.1,386.7 568.1,386.4 569.0,386.2 570.0,385.9 571.0,385.7 571.9,385.4 572.9,385.2 573.9,384.9 574.8,384.6 575.8,384.4 576.8,384.2 577.7,383.9 578.7,383.7 579.7,383.4 580.7,383.2 581.6,383.0 582.6,382.8 583.6,382.6 584.6,382.4 585.6,382.2 586.6,382.0 587.5,381.9 588.5,381.7 589.5,381.6 590.5,381.5 591.5,381.3 592.5,381.2 593.5,381.1 594.5,381.0 595.5,380.8 596.5,380.7 597.5,380.6 598.5,380.5 599.4,380.4 600.4,380.3 601.4,380.2 602.4,380.1 603.4,380.0 604.4,379.9 605.4,379.8 606.4,379.7 607.4,379.6 608.4,379.5 609.4,379.4 610.4,379.3 611.4,379.2 612.4,379.1 613.4,379.0 614.4,378.9 615.4,378.9 616.4,378.8 617.4,378.7 618.4,378.6 619.4,378.5 620.4,378.5 621.4,378.4 622.3,378.3 623.3,378.2 624.3,378.1 625.3,378.1 626.3,378.0 627.3,377.9 628.3,377.9 629.3,377.8 630.3,377.7 631.3,377.7 632.3,377.6 633.3,377.5 634.3,377.5 635.3,377.4 636.3,377.3 637.3,377.3 638.3,377.2 639.3,377.1 640.3,377.1 641.3,377.0 642.3,377.0 643.3,376.9 644.3,376.8 645.3,376.8 646.3,376.7 647.3,376.7 648.3,376.6 649.3,376.6 650.3,376.5 651.3,376.5 652.3,376.4 653.3,376.3 654.3,376.3 655.3,376.2 656.3,376.2 657.3,376.1 658.3,376.1 659.3,376.0 660.3,376.0 661.3,375.9 662.3,375.9 663.3,375.8 664.3,375.8 665.3,375.7 666.3,375.7 667.3,375.6 668.3,375.6 669.3,375.5 670.3,375.5 671.3,375.4 672.3,375.4 673.3,375.3 674.3,375.3 675.3,375.3 676.3,375.2 677.3,375.2 678.3,375.1 679.3,375.1 680.3,375.0 681.3,375.0 682.3,374.9 683.2,374.9 684.2,374.8 685.2,374.8 686.2,374.8 687.2,374.7 688.2,374.7 689.2,374.6 690.2,374.6 691.2,374.6 692.2,374.5 693.2,374.5 694.2,374.4 695.2,374.4 696.2,374.4 697.2,374.3 698.2,374.3 699.2,374.2 700.2,374.2 701.2,374.2 702.2,374.1 703.2,374.1 704.2,374.1 705.2,374.0 706.2,374.0 707.2,374.0 708.2,373.9 709.2,373.9 710.2,373.9 711.2,373.9 712.2,373.8 713.2,373.8 714.2,373.8 715.2,373.7 716.2,373.7 717.2,373.7 718.2,373.7 719.2,373.6 720.2,373.6 721.2,373.6 722.2,373.6 723.2,373.6 724.2,373.5 725.2,373.5 726.0,373.5" fill="none" stroke="#ef6548" stroke-width="6.4" stroke-linejoin="miter" stroke-linecap="square"/>
<polyline points="107.0,372.0 108.0,372.0 109.0,371.9 110.0,371.9 111.0,371.8 112.0,371.8 113.0,371.8 114.0,371.7 115.0,371.7 116.0,371.6 117.0,371.6 118.0,371.5 119.0,371.5 120.0,371.5 121.0,371.4 122.0,371.4 123.0,371.3 124.0,371.3 125.0,371.2 126.0,371.2 127.0,371.2 128.0,371.1 129.0,371.1 130.0,371.0 131.0,371.0 132.0,370.9 133.0,370.9 134.0,370.8 135.0,370.8 136.0,370.7 137.0,370.7 138.0,370.6 139.0,370.6 140.0,370.6 141.0,370.5 142.0,370.5 143.0,370.4 144.0,370.4 145.0,370.3 146.0,370.3 147.0,370.2 148.0,370.2 149.0,370.1 150.0,370.1 151.0,370.0 152.0,370.0 153.0,369.9 154.0,369.9 154.9,369.8 155.9,369.8 156.9,369.7 157.9,369.7 158.9,369.6 159.9,369.6 160.9,369.5 161.9,369.5 162.9,369.4 163.9,369.3 164.9,369.3 165.9,369.2 166.9,369.2 167.9,369.1 168.9,369.1 169.9,369.0 170.9,369.0 171.9,368.9 172.9,368.9 173.9,368.8 174.9,368.7 175.9,368.7 176.9,368.6 177.9,368.6 178.9,368.5 179.9,368.5 180.9,368.4 181.9,368.3 182.9,368.3 183.9,368.2 184.9,368.2 185.9,368.1 186.9,368.0 187.9,368.0 188.9,367.9 189.9,367.9 190.9,367.8 191.9,367.7 192.9,367.7 193.9,367.6 194.9,367.5 195.9,367.5 196.9,367.4 197.9,367.4 198.9,367.3 199.9,367.2 200.9,367.2 201.9,367.1 202.9,367.0 203.9,367.0 204.9,366.9 205.9,366.8 206.9,366.8 207.9,366.7 208.9,366.7 209.9,366.6 210.9,366.5 211.9,366.5 212.8,366.4 213.8,366.3 214.8,366.3 215.8,366.2 216.8,366.1 217.8,366.0 218.8,366.0 219.8,365.9 220.8,365.8 221.8,365.8 222.8,365.7 223.8,365.6 224.8,365.5 225.8,365.4 226.8,365.4 227.8,365.3 228.8,365.2 229.8,365.1 230.8,365.0 231.8,364.9 232.8,364.8 233.8,364.7 234.8,364.6 235.8,364.5 236.8,364.4 237.8,364.3 238.8,364.2 239.7,364.1 240.7,364.0 241.7,363.9 242.7,363.8 243.7,363.6 244.7,363.5 245.7,363.4 246.7,363.2 247.7,363.1 248.7,362.9 249.7,362.8 250.6,362.6 251.6,362.4 252.6,362.3 253.6,362.1 254.6,361.9 255.6,361.7 256.6,361.6 257.5,361.4 258.5,361.2 259.5,361.0 260.5,360.8 261.5,360.6 262.4,360.4 263.4,360.2 264.4,360.0 265.4,359.7 266.3,359.5 267.3,359.3 268.3,359.1 269.3,358.9 270.2,358.6 271.2,358.4 272.2,358.2 273.2,358.0 274.1,357.7 275.1,357.5 276.1,357.3 277.1,357.0 278.0,356.8 279.0,356.5 280.0,356.3 280.9,356.0 281.9,355.8 282.9,355.6 283.8,355.3 284.8,355.0 285.8,354.8 286.7,354.5 287.7,354.2 288.6,353.9 289.6,353.6 290.6,353.3 291.5,353.0 292.5,352.7 293.4,352.4 294.4,352.1 295.3,351.8 296.2,351.4 297.2,351.1 298.1,350.8 299.1,350.5 300.0,350.1 301.0,349.8 301.9,349.5 302.9,349.2 303.8,348.9 304.8,348.6 305.7,348.3 306.7,348.0 307.7,347.7 308.6,347.5 309.6,347.2 310.6,346.9 311.5,346.7 312.5,346.4 313.4,346.1 314.4,345.9 315.4,345.6 316.3,345.4 317.3,345.1 318.3,344.8 319.2,344.5 320.2,344.2 321.1,343.9 322.1,343.6 323.0,343.3 324.0,342.9 324.9,342.6 325.8,342.2 326.7,341.8 327.7,341.4 328.6,341.0 329.5,340.6 330.4,340.1 331.3,339.7 332.1,339.2 333.0,338.7 333.9,338.2 334.8,337.7 335.6,337.2 336.5,336.7 337.4,336.2 338.2,335.7 339.1,335.2 339.9,334.7 340.8,334.2 341.6,333.6 342.5,333.1 343.3,332.6 344.2,332.0 345.0,331.5 345.9,331.0 346.7,330.4 347.5,329.8 348.3,329.3 349.2,328.7 350.0,328.2 350.8,327.6 351.6,327.0 352.4,326.4 353.2,325.8 354.1,325.2 354.9,324.6 355.7,324.0 356.5,323.4 357.3,322.8 358.1,322.2 358.8,321.6 359.6,321.0 360.4,320.4 361.2,319.8 362.0,319.1 362.8,318.5 363.5,317.9 364.3,317.3 365.1,316.6 365.9,316.0 366.6,315.3 367.4,314.7 368.1,314.0 368.9,313.4 369.7,312.7 370.4,312.1 371.1,311.4 371.9,310.7 372.6,310.1 373.4,309.4 374.1,308.7 374.8,308.0 375.5,307.3 376.2,306.6 377.0,305.9 377.7,305.2 378.4,304.5 379.1,303.8 379.8,303.0 380.4,302.3 381.1,301.6 381.8,300.8 382.4,300.1 383.1,299.3 383.7,298.6 384.4,297.8 385.0,297.0 385.6,296.2 386.3,295.5 386.9,294.7 387.5,293.9 388.1,293.1 388.7,292.3 389.3,291.5 389.9,290.7 390.5,289.9 391.1,289.1 391.7,288.3 392.3,287.5 392.9,286.7 393.5,285.9 394.0,285.0 394.6,284.2 395.2,283.4 395.8,282.6 396.4,281.8 397.0,281.0 397.6,280.2 398.2,279.4 398.8,278.6 399.4,277.8 400.0,277.0 400.6,276.2 401.2,275.4 401.8,274.6 402.3,273.8 402.9,273.0 403.5,272.1 404.1,271.3 404.6,270.5 405.2,269.7 405.7,268.8 406.3,268.0 406.9,267.2 407.4,266.3 408.0,265.5 408.6,264.7 409.1,263.9 409.7,263.1 410.3,262.3 411.0,261.5 411.6,260.7 412.2,260.0 412.9,259.2 413.6,258.5 414.3,257.8 415.1,257.1 415.8,256.5 416.6,255.9 417.4,255.3 418.2,254.7 419.1,254.1 419.9,253.6 420.8,253.1 421.7,252.6 422.6,252.2 423.5,251.9 424.5,251.6 425.5,251.5 426.5,251.6 427.5,251.8 428.4,252.1 429.3,252.5 430.1,253.1 430.9,253.7 431.7,254.4 432.4,255.0 433.1,255.8 433.8,256.5 434.4,257.3 435.0,258.1 435.6,258.9 436.2,259.7 436.7,260.5 437.3,261.4 437.8,262.2 438.3,263.1 438.8,263.9 439.3,264.8 439.8,265.7 440.2,266.6 440.7,267.5 441.1,268.4 441.6,269.3 442.0,270.2 442.4,271.1 442.8,272.0 443.2,272.9 443.6,273.8 443.9,274.8 444.3,275.7 444.7,276.6 445.0,277.6 445.4,278.5 445.7,279.4 446.1,280.4 446.4,281.3 446.8,282.3 447.1,283.2 447.5,284.1 447.8,285.1 448.1,286.0 448.5,287.0 448.8,287.9 449.2,288.8 449.5,289.8 449.8,290.7 450.2,291.7 450.5,292.6 450.8,293.5 451.1,294.5 451.5,295.4 451.8,296.4 452.1,297.3 452.4,298.3 452.7,299.2 453.0,300.2 453.3,301.1 453.6,302.1 453.9,303.1 454.2,304.0 454.5,305.0 454.8,305.9 455.1,306.9 455.4,307.8 455.7,308.8 455.9,309.8 456.2,310.7 456.5,311.7 456.7,312.7 457.0,313.6 457.2,314.6 457.5,315.6 457.7,316.5 458.0,317.5 458.2,318.5 458.5,319.4 458.7,320.4 458.9,321.4 459.2,322.3 459.4,323.3 459.7,324.3 459.9,325.3 460.1,326.2 460.4,327.2 460.6,328.2 460.8,329.2 461.1,330.1 461.3,331.1 461.5,332.1 461.8,333.0 462.0,334.0 462.2,335.0 462.5,336.0 462.7,336.9 463.0,337.9 463.2,338.9 463.4,339.8 463.7,340.8 463.9,341.8 464.1,342.8 464.4,343.7 464.6,344.7 464.8,345.7 465.1,346.6 465.3,347.6 465.5,348.6 465.8,349.6 466.0,350.5 466.2,351.5 466.5,352.5 466.7,353.5 466.9,354.4 467.2,355.4 467.4,356.4 467.7,357.3 467.9,358.3 468.2,359.3 468.4,360.2 468.7,361.2 468.9,362.2 469.2,363.1 469.5,364.1 469.7,365.1 470.0,366.0 470.3,367.0 470.6,367.9 470.9,368.9 471.1,369.9 471.4,370.8 471.7,371.8 472.0,372.7 472.3,373.7 472.6,374.6 472.9,375.6 473.2,376.6 473.5,377.5 473.8,378.5 474.1,379.4 474.4,380.4 474.7,381.3 475.1,382.3 475.4,383.2 475.7,384.1 476.1,385.1 476.5,386.0 476.8,386.9 477.2,387.9 477.6,388.8 478.0,389.7 478.4,390.6 478.8,391.5 479.3,392.4 479.7,393.3 480.1,394.2 480.6,395.1 481.1,396.0 481.5,396.9 482.0,397.7 482.5,398.6 483.1,399.5 483.6,400.3 484.2,401.1 484.8,401.9 485.4,402.7 486.1,403.4 486.7,404.2 487.4,404.9 488.2,405.6 488.9,406.2 489.7,406.9 490.5,407.5 491.3,408.0 492.2,408.6 493.0,409.1 493.9,409.5 494.9,409.9 495.8,410.1 496.8,410.4 497.8,410.6 498.8,410.7 499.8,410.8 500.8,410.9 501.8,411.0 502.8,411.0 503.8,411.1 504.8,411.1 505.8,411.1 506.8,411.1 507.7,411.0 508.7,410.9 509.7,410.7 510.7,410.5 511.7,410.2 512.6,409.9 513.5,409.5 514.5,409.1 515.4,408.7 516.3,408.3 517.2,407.9 518.1,407.4 519.0,407.0 519.9,406.6 520.8,406.2 521.7,405.8 522.6,405.3 523.5,404.9 524.4,404.5 525.3,404.1 526.2,403.6 527.1,403.2 528.0,402.8 528.9,402.3 529.8,401.9 530.7,401.4 531.6,401.0 532.5,400.5 533.4,400.1 534.3,399.7 535.2,399.2 536.1,398.8 537.0,398.4 537.9,398.0 538.8,397.5 539.7,397.1 540.7,396.7 541.6,396.3 542.5,395.9 543.4,395.5 544.3,395.1 545.2,394.7 546.2,394.3 547.1,393.9 548.0,393.5 548.9,393.1 549.8,392.8 550.8,392.4 551.7,392.0 552.6,391.6 553.5,391.3 554.5,390.9 555.4,390.6 556.4,390.2 557.3,389.9 558.3,389.6 559.2,389.3 560.2,389.0 561.1,388.7 562.1,388.4 563.0,388.1 564.0,387.8 565.0,387.6 565.9,387.3 566.9,387.0 567.8,386.7 568.8,386.5 569.8,386.2 570.7,386.0 571.7,385.7 572.7,385.5 573.6,385.2 574.6,385.0 575.6,384.7 576.6,384.5 577.5,384.3 578.5,384.1 579.5,383.9 580.5,383.7 581.4,383.5 582.4,383.3 583.4,383.1 584.4,382.9 585.4,382.7 586.4,382.6 587.4,382.4 588.3,382.3 589.3,382.1 590.3,382.0 591.3,381.8 592.3,381.7 593.3,381.6 594.3,381.5 595.3,381.3 596.3,381.2 597.3,381.1 598.3,381.0 599.3,380.9 600.2,380.8 601.2,380.7 602.2,380.5 603.2,380.4 604.2,380.3 605.2,380.2 606.2,380.1 607.2,380.0 608.2,379.9 609.2,379.8 610.2,379.7 611.2,379.6 612.2,379.5 613.2,379.4 614.2,379.3 615.2,379.3 616.2,379.2 617.2,379.1 618.2,379.0 619.2,378.9 620.2,378.8 621.2,378.7 622.1,378.7 623.1,378.6 624.1,378.5 625.1,378.4 626.1,378.3 627.1,378.3 628.1,378.2 629.1,378.1 630.1,378.0 631.1,378.0 632.1,377.9 633.1,377.8 634.1,377.8 635.1,377.7 636.1,377.6 637.1,377.6 638.1,377.5 639.1,377.4 640.1,377.4 641.1,377.3 642.1,377.2 643.1,377.2 644.1,377.1 645.1,377.0 646.1,377.0 647.1,376.9 648.1,376.9 649.1,376.8 650.1,376.7 651.1,376.7 652.1,376.6 653.1,376.6 654.1,376.5 655.1,376.5 656.1,376.4 657.1,376.4 658.1,376.3 659.1,376.3 660.1,376.2 661.1,376.1 662.1,376.1 663.1,376.0 664.1,376.0 665.1,375.9 666.1,375.9 667.1,375.8 668.1,375.8 669.1,375.7 670.1,375.7 671.1,375.6 672.1,375.6 673.0,375.5 674.0,375.5 675.0,375.4 676.0,375.4 677.0,375.3 678.0,375.3 679.0,375.2 680.0,375.2 681.0,375.1 682.0,375.1 683.0,375.0 684.0,375.0 685.0,375.0 686.0,374.9 687.0,374.9 688.0,374.8 689.0,374.8 690.0,374.7 691.0,374.7 692.0,374.7 693.0,374.6 694.0,374.6 695.0,374.5 696.0,374.5 697.0,374.5 698.0,374.4 699.0,374.4 700.0,374.3 701.0,374.3 702.0,374.3 703.0,374.2 704.0,374.2 705.0,374.2 706.0,374.1 707.0,374.1 708.0,374.1 709.0,374.0 710.0,374.0 711.0,374.0 712.0,373.9 713.0,373.9 714.0,373.9 715.0,373.9 716.0,373.8 717.0,373.8 718.0,373.8 719.0,373.8 720.0,373.7 721.0,373.7 722.0,373.7 723.0,373.7 724.0,373.6 725.0,373.6 726.0,373.6" fill="none" stroke="#d7301f" stroke-width="6.4" stroke-linejoin="miter" stroke-linecap="square"/>
<polyline points="107.0,371.2 108.0,371.1 109.0,371.1 110.0,371.0 111.0,371.0 112.0,370.9 113.0,370.9 114.0,370.8 115.0,370.8 116.0,370.7 117.0,370.7 118.0,370.6 119.0,370.5 120.0,370.5 121.0,370.4 122.0,370.4 123.0,370.3 124.0,370.3 125.0,370.2 126.0,370.1 127.0,370.1 128.0,370.0 129.0,370.0 130.0,369.9 131.0,369.8 132.0,369.8 133.0,369.7 134.0,369.6 135.0,369.6 136.0,369.5 136.9,369.5 137.9,369.4 138.9,369.3 139.9,369.3 140.9,369.2 141.9,369.1 142.9,369.1 143.9,369.0 144.9,368.9 145.9,368.9 146.9,368.8 147.9,368.7 148.9,368.7 149.9,368.6 150.9,368.5 151.9,368.5 152.9,368.4 153.9,368.3 154.9,368.2 155.9,368.2 156.9,368.1 157.9,368.0 158.9,368.0 159.9,367.9 160.9,367.8 161.9,367.8 162.9,367.7 163.9,367.6 164.9,367.5 165.9,367.5 166.9,367.4 167.9,367.3 168.9,367.2 169.9,367.2 170.9,367.1 171.9,367.0 172.9,366.9 173.9,366.9 174.9,366.8 175.9,366.7 176.8,366.6 177.8,366.5 178.8,366.5 179.8,366.4 180.8,366.3 181.8,366.2 182.8,366.1 183.8,366.1 184.8,366.0 185.8,365.9 186.8,365.8 187.8,365.7 188.8,365.6 189.8,365.5 190.8,365.4 191.8,365.4 192.8,365.3 193.8,365.2 194.8,365.1 195.8,365.0 196.8,364.9 197.8,364.8 198.8,364.7 199.8,364.6 200.8,364.5 201.8,364.4 202.7,364.3 203.7,364.2 204.7,364.1 205.7,364.0 206.7,363.9 207.7,363.8 208.7,363.7 209.7,363.6 210.7,363.5 211.7,363.4 212.7,363.3 213.7,363.2 214.7,363.1 215.7,363.0 216.7,362.9 217.7,362.8 218.7,362.7 219.7,362.6 220.6,362.4 221.6,362.3 222.6,362.2 223.6,362.1 224.6,362.0 225.6,361.8 226.6,361.7 227.6,361.6 228.6,361.4 229.6,361.3 230.6,361.2 231.6,361.0 232.5,360.9 233.5,360.7 234.5,360.6 235.5,360.4 236.5,360.3 237.5,360.1 238.5,359.9 239.5,359.8 240.4,359.6 241.4,359.4 242.4,359.2 243.4,359.0 244.4,358.9 245.3,358.6 246.3,358.4 247.3,358.2 248.3,358.0 249.2,357.8 250.2,357.5 251.2,357.3 252.2,357.0 253.1,356.8 254.1,356.5 255.1,356.2 256.0,356.0 257.0,355.7 257.9,355.4 258.9,355.1 259.9,354.8 260.8,354.6 261.8,354.3 262.7,354.0 263.7,353.7 264.6,353.3 265.6,353.0 266.5,352.7 267.5,352.4 268.4,352.1 269.4,351.8 270.3,351.4 271.3,351.1 272.2,350.8 273.1,350.4 274.1,350.1 275.0,349.8 276.0,349.4 276.9,349.1 277.9,348.8 278.8,348.4 279.7,348.1 280.7,347.7 281.6,347.4 282.5,347.0 283.5,346.7 284.4,346.3 285.4,346.0 286.3,345.6 287.2,345.3 288.2,344.9 289.1,344.5 290.0,344.2 290.9,343.8 291.9,343.4 292.8,343.0 293.7,342.6 294.6,342.2 295.5,341.8 296.4,341.4 297.3,341.0 298.2,340.5 299.2,340.1 300.0,339.7 300.9,339.2 301.8,338.8 302.7,338.3 303.6,337.9 304.5,337.4 305.4,336.9 306.3,336.4 307.1,336.0 308.0,335.5 308.9,334.9 309.7,334.4 310.6,333.9 311.4,333.4 312.3,332.8 313.1,332.3 313.9,331.7 314.7,331.2 315.6,330.6 316.4,330.0 317.2,329.4 318.0,328.8 318.8,328.3 319.6,327.7 320.4,327.1 321.2,326.5 322.0,325.9 322.8,325.3 323.6,324.7 324.4,324.1 325.2,323.5 326.0,322.9 326.8,322.3 327.6,321.7 328.4,321.0 329.2,320.4 330.0,319.8 330.8,319.2 331.6,318.6 332.4,318.0 333.1,317.4 333.9,316.7 334.7,316.1 335.5,315.5 336.2,314.8 337.0,314.2 337.8,313.5 338.5,312.9 339.3,312.2 340.0,311.6 340.8,310.9 341.5,310.2 342.2,309.5 343.0,308.9 343.7,308.2 344.4,307.5 345.2,306.8 345.9,306.1 346.6,305.4 347.3,304.7 348.0,304.0 348.8,303.3 349.5,302.6 350.2,301.9 350.9,301.2 351.6,300.5 352.2,299.8 352.9,299.0 353.6,298.3 354.3,297.5 354.9,296.8 355.6,296.0 356.2,295.3 356.9,294.5 357.5,293.7 358.2,293.0 358.8,292.2 359.4,291.4 360.0,290.6 360.6,289.8 361.2,289.0 361.7,288.1 362.3,287.3 362.8,286.5 363.3,285.6 363.9,284.8 364.4,283.9 364.9,283.1 365.4,282.2 366.0,281.4 366.5,280.5 367.0,279.6 367.5,278.8 368.0,277.9 368.5,277.1 369.1,276.2 369.6,275.4 370.1,274.5 370.6,273.7 371.2,272.8 371.7,272.0 372.2,271.1 372.8,270.3 373.3,269.5 373.9,268.6 374.4,267.8 375.0,266.9 375.5,266.1 376.0,265.2 376.5,264.4 377.0,263.5 377.5,262.7 378.0,261.8 378.5,260.9 378.9,260.0 379.4,259.1 379.8,258.2 380.2,257.3 380.6,256.4 381.0,255.5 381.4,254.5 381.8,253.6 382.1,252.7 382.5,251.7 382.9,250.8 383.2,249.9 383.6,248.9 383.9,248.0 384.2,247.1 384.6,246.1 384.9,245.2 385.2,244.2 385.6,243.3 385.9,242.3 386.2,241.4 386.6,240.5 386.9,239.5 387.2,238.6 387.6,237.6 387.9,236.7 388.2,235.7 388.6,234.8 388.9,233.9 389.2,232.9 389.6,232.0 389.9,231.0 390.3,230.1 390.6,229.2 391.0,228.2 391.3,227.3 391.7,226.3 392.0,225.4 392.4,224.5 392.7,223.5 393.1,222.6 393.4,221.7 393.8,220.7 394.1,219.8 394.5,218.8 394.8,217.9 395.2,217.0 395.5,216.0 395.8,215.1 396.2,214.2 396.5,213.2 396.9,212.3 397.2,211.3 397.6,210.4 397.9,209.5 398.3,208.5 398.6,207.6 399.0,206.7 399.3,205.7 399.7,204.8 400.0,203.9 400.4,202.9 400.7,202.0 401.1,201.0 401.4,200.1 401.8,199.2 402.1,198.2 402.5,197.3 402.9,196.4 403.2,195.4 403.6,194.5 403.9,193.6 404.3,192.6 404.6,191.7 405.0,190.8 405.3,189.8 405.7,188.9 406.0,187.9 406.4,187.0 406.7,186.1 407.0,185.1 407.4,184.2 407.7,183.2 408.0,182.3 408.4,181.3 408.7,180.4 409.0,179.5 409.4,178.5 409.7,177.6 410.1,176.7 410.5,175.7 410.9,174.8 411.3,173.9 411.8,173.0 412.2,172.1 412.7,171.3 413.3,170.4 413.8,169.6 414.4,168.8 415.1,168.0 415.8,167.3 416.5,166.6 417.4,166.1 418.3,165.9 419.3,166.0 420.2,166.6 420.8,167.3 421.4,168.1 421.9,169.0 422.3,169.9 422.7,170.8 423.1,171.7 423.5,172.7 423.8,173.6 424.1,174.6 424.4,175.5 424.6,176.5 424.9,177.4 425.1,178.4 425.3,179.4 425.6,180.4 425.8,181.3 426.0,182.3 426.2,183.3 426.4,184.3 426.6,185.3 426.8,186.2 427.0,187.2 427.2,188.2 427.4,189.2 427.6,190.2 427.8,191.1 428.0,192.1 428.2,193.1 428.4,194.1 428.6,195.1 428.8,196.0 428.9,197.0 429.1,198.0 429.3,199.0 429.5,200.0 429.6,201.0 429.8,202.0 430.0,202.9 430.1,203.9 430.3,204.9 430.5,205.9 430.6,206.9 430.8,207.9 431.0,208.9 431.1,209.8 431.3,210.8 431.5,211.8 431.6,212.8 431.8,213.8 432.0,214.8 432.1,215.8 432.3,216.7 432.5,217.7 432.6,218.7 432.8,219.7 432.9,220.7 433.1,221.7 433.2,222.7 433.4,223.7 433.6,224.6 433.7,225.6 433.9,226.6 434.0,227.6 434.2,228.6 434.4,229.6 434.5,230.6 434.7,231.6 434.9,232.5 435.0,233.5 435.2,234.5 435.4,235.5 435.6,236.5 435.7,237.5 435.9,238.4 436.1,239.4 436.3,240.4 436.5,241.4 436.7,242.4 436.9,243.3 437.1,244.3 437.3,245.3 437.5,246.3 437.7,247.3 438.0,248.2 438.2,249.2 438.4,250.2 438.6,251.2 438.8,252.1 439.0,253.1 439.2,254.1 439.4,255.1 439.6,256.1 439.8,257.0 440.0,258.0 440.2,259.0 440.4,260.0 440.6,261.0 440.8,261.9 441.0,262.9 441.2,263.9 441.4,264.9 441.6,265.9 441.8,266.8 442.0,267.8 442.2,268.8 442.4,269.8 442.6,270.8 442.8,271.7 443.0,272.7 443.2,273.7 443.3,274.7 443.5,275.7 443.7,276.7 443.8,277.6 444.0,278.6 444.1,279.6 444.3,280.6 444.4,281.6 444.5,282.6 444.7,283.6 444.8,284.6 444.9,285.6 445.0,286.6 445.1,287.6 445.2,288.6 445.3,289.6 445.4,290.5 445.5,291.5 445.6,292.5 445.7,293.5 445.8,294.5 445.9,295.5 446.0,296.5 446.1,297.5 446.2,298.5 446.3,299.5 446.4,300.5 446.5,301.5 446.6,302.5 446.7,303.5 446.7,304.5 446.8,305.5 446.9,306.5 447.0,307.5 447.1,308.5 447.2,309.5 447.3,310.5 447.4,311.5 447.5,312.5 447.6,313.4 447.7,314.4 447.8,315.4 447.9,316.4 448.0,317.4 448.1,318.4 448.2,319.4 448.3,320.4 448.4,321.4 448.5,322.4 448.6,323.4 448.7,324.4 448.9,325.4 449.0,326.4 449.1,327.4 449.2,328.4 449.3,329.4 449.4,330.3 449.6,331.3 449.7,332.3 449.8,333.3 449.9,334.3 450.1,335.3 450.2,336.3 450.3,337.3 450.4,338.3 450.5,339.3 450.7,340.3 450.8,341.3 450.9,342.3 451.0,343.2 451.2,344.2 451.3,345.2 451.4,346.2 451.6,347.2 451.7,348.2 451.8,349.2 452.0,350.2 452.1,351.2 452.2,352.2 452.4,353.2 452.5,354.1 452.7,355.1 452.8,356.1 452.9,357.1 453.1,358.1 453.2,359.1 453.4,360.1 453.5,361.1 453.7,362.1 453.9,363.0 454.0,364.0 454.2,365.0 454.3,366.0 454.5,367.0 454.7,368.0 454.8,369.0 455.0,369.9 455.2,370.9 455.4,371.9 455.6,372.9 455.7,373.9 455.9,374.9 456.1,375.9 456.3,376.8 456.5,377.8 456.7,378.8 456.9,379.8 457.1,380.8 457.3,381.7 457.5,382.7 457.7,383.7 457.9,384.7 458.1,385.7 458.3,386.6 458.5,387.6 458.7,388.6 459.0,389.6 459.2,390.5 459.4,391.5 459.6,392.5 459.9,393.5 460.1,394.4 460.3,395.4 460.5,396.4 460.8,397.3 461.0,398.3 461.2,399.3 461.5,400.3 461.7,401.2 461.9,402.2 462.1,403.2 462.4,404.2 462.6,405.1 462.9,406.1 463.1,407.1 463.4,408.0 463.6,409.0 463.9,410.0 464.2,410.9 464.5,411.9 464.8,412.8 465.1,413.8 465.4,414.7 465.8,415.6 466.2,416.6 466.7,417.5 467.1,418.3 467.6,419.2 468.2,420.0 468.8,420.9 469.4,421.6 470.1,422.4 470.8,423.0 471.6,423.6 472.5,424.1 473.5,424.4 474.4,424.6 475.4,424.7 476.4,424.7 477.4,424.7 478.4,424.7 479.4,424.7 480.4,424.6 481.4,424.6 482.4,424.5 483.4,424.4 484.4,424.2 485.4,424.0 486.3,423.7 487.3,423.3 488.2,422.9 489.1,422.4 489.9,421.9 490.7,421.3 491.5,420.8 492.3,420.2 493.1,419.5 493.9,418.9 494.7,418.3 495.5,417.7 496.3,417.1 497.1,416.5 497.9,415.9 498.7,415.4 499.6,414.8 500.5,414.3 501.3,413.8 502.2,413.4 503.1,412.9 504.0,412.4 504.9,412.0 505.8,411.5 506.7,411.1 507.6,410.7 508.5,410.2 509.4,409.8 510.3,409.4 511.2,409.0 512.1,408.5 513.0,408.1 513.9,407.7 514.8,407.3 515.7,406.9 516.6,406.5 517.6,406.1 518.5,405.7 519.4,405.3 520.3,404.9 521.2,404.5 522.1,404.0 523.0,403.6 524.0,403.2 524.9,402.8 525.8,402.4 526.7,402.0 527.6,401.6 528.5,401.2 529.4,400.7 530.3,400.3 531.2,399.9 532.1,399.5 533.1,399.1 534.0,398.7 534.9,398.3 535.8,397.9 536.7,397.5 537.6,397.1 538.5,396.7 539.5,396.3 540.4,395.9 541.3,395.5 542.2,395.1 543.2,394.7 544.1,394.4 545.0,394.0 545.9,393.6 546.9,393.3 547.8,392.9 548.8,392.6 549.7,392.2 550.6,391.9 551.6,391.6 552.5,391.3 553.5,391.0 554.4,390.7 555.4,390.4 556.4,390.1 557.3,389.9 558.3,389.6 559.3,389.3 560.2,389.1 561.2,388.8 562.2,388.6 563.1,388.4 564.1,388.1 565.1,387.9 566.1,387.7 567.0,387.5 568.0,387.3 569.0,387.0 570.0,386.8 571.0,386.6 571.9,386.4 572.9,386.2 573.9,386.0 574.9,385.8 575.9,385.7 576.8,385.5 577.8,385.3 578.8,385.1 579.8,384.9 580.8,384.8 581.8,384.6 582.8,384.5 583.7,384.3 584.7,384.2 585.7,384.0 586.7,383.9 587.7,383.7 588.7,383.6 589.7,383.5 590.7,383.3 591.7,383.2 592.7,383.1 593.6,382.9 594.6,382.8 595.6,382.7 596.6,382.6 597.6,382.5 598.6,382.3 599.6,382.2 600.6,382.1 601.6,382.0 602.6,381.9 603.6,381.8 604.6,381.7 605.6,381.6 606.6,381.5 607.6,381.4 608.6,381.3 609.5,381.2 610.5,381.1 611.5,381.0 612.5,380.9 613.5,380.8 614.5,380.7 615.5,380.6 616.5,380.5 617.5,380.4 618.5,380.3 619.5,380.2 620.5,380.1 621.5,380.0 622.5,379.9 623.5,379.8 624.5,379.7 625.5,379.7 626.5,379.6 627.5,379.5 628.5,379.4 629.5,379.3 630.5,379.2 631.5,379.2 632.5,379.1 633.4,379.0 634.4,378.9 635.4,378.9 636.4,378.8 637.4,378.7 638.4,378.6 639.4,378.5 640.4,378.5 641.4,378.4 642.4,378.3 643.4,378.3 644.4,378.2 645.4,378.1 646.4,378.0 647.4,378.0 648.4,377.9 649.4,377.8 650.4,377.8 651.4,377.7 652.4,377.6 653.4,377.5 654.4,377.5 655.4,377.4 656.4,377.3 657.4,377.3 658.4,377.2 659.4,377.1 660.4,377.1 661.4,377.0 662.4,376.9 663.4,376.9 664.4,376.8 665.4,376.7 666.4,376.7 667.4,376.6 668.4,376.6 669.4,376.5 670.4,376.4 671.4,376.4 672.4,376.3 673.4,376.2 674.4,376.2 675.3,376.1 676.3,376.1 677.3,376.0 678.3,375.9 679.3,375.9 680.3,375.8 681.3,375.8 682.3,375.7 683.3,375.6 684.3,375.6 685.3,375.5 686.3,375.5 687.3,375.4 688.3,375.3 689.3,375.3 690.3,375.2 691.3,375.2 692.3,375.1 693.3,375.1 694.3,375.0 695.3,375.0 696.3,374.9 697.3,374.9 698.3,374.8 699.3,374.8 700.3,374.7 701.3,374.7 702.3,374.6 703.3,374.6 704.3,374.5 705.3,374.5 706.3,374.4 707.3,374.4 708.3,374.3 709.3,374.3 710.3,374.2 711.3,374.2 712.3,374.1 713.3,374.1 714.3,374.1 715.3,374.0 716.3,374.0 717.3,373.9 718.3,373.9 719.3,373.9 720.3,373.8 721.3,373.8 722.3,373.7 723.3,373.7 724.3,373.7 725.3,373.6 726.0,373.6" fill="none" stroke="#b30000" stroke-width="6.4" stroke-linejoin="miter" stroke-linecap="square"/>
<polyline points="107.0,370.7 108.0,370.6 109.0,370.6 110.0,370.5 111.0,370.4 112.0,370.4 113.0,370.3 114.0,370.2 115.0,370.2 116.0,370.1 117.0,370.0 118.0,370.0 119.0,369.9 120.0,369.8 121.0,369.8 122.0,369.7 123.0,369.6 124.0,369.6 125.0,369.5 126.0,369.4 127.0,369.3 128.0,369.3 128.9,369.2 129.9,369.1 130.9,369.0 131.9,369.0 132.9,368.9 133.9,368.8 134.9,368.7 135.9,368.7 136.9,368.6 137.9,368.5 138.9,368.4 139.9,368.3 140.9,368.3 141.9,368.2 142.9,368.1 143.9,368.0 144.9,367.9 145.9,367.9 146.9,367.8 147.9,367.7 148.9,367.6 149.9,367.5 150.9,367.4 151.9,367.4 152.9,367.3 153.9,367.2 154.9,367.1 155.9,367.0 156.9,366.9 157.9,366.8 158.8,366.8 159.8,366.7 160.8,366.6 161.8,366.5 162.8,366.4 163.8,366.3 164.8,366.2 165.8,366.1 166.8,366.0 167.8,366.0 168.8,365.9 169.8,365.8 170.8,365.7 171.8,365.6 172.8,365.5 173.8,365.4 174.8,365.3 175.8,365.2 176.8,365.1 177.8,365.0 178.8,364.9 179.8,364.8 180.8,364.7 181.7,364.6 182.7,364.5 183.7,364.4 184.7,364.3 185.7,364.2 186.7,364.1 187.7,363.9 188.7,363.8 189.7,363.7 190.7,363.6 191.7,363.5 192.7,363.4 193.7,363.2 194.7,363.1 195.7,363.0 196.6,362.9 197.6,362.7 198.6,362.6 199.6,362.5 200.6,362.3 201.6,362.2 202.6,362.0 203.6,361.9 204.6,361.7 205.6,361.6 206.5,361.4 207.5,361.3 208.5,361.1 209.5,361.0 210.5,360.8 211.5,360.6 212.5,360.5 213.5,360.3 214.4,360.1 215.4,360.0 216.4,359.8 217.4,359.6 218.4,359.5 219.4,359.3 220.3,359.1 221.3,358.9 222.3,358.7 223.3,358.5 224.3,358.4 225.3,358.2 226.2,358.0 227.2,357.8 228.2,357.6 229.2,357.4 230.2,357.2 231.1,357.0 232.1,356.8 233.1,356.6 234.1,356.4 235.1,356.2 236.0,356.0 237.0,355.8 238.0,355.6 239.0,355.4 240.0,355.2 240.9,355.0 241.9,354.8 242.9,354.6 243.9,354.4 244.9,354.1 245.8,353.9 246.8,353.7 247.8,353.5 248.7,353.3 249.7,353.0 250.7,352.8 251.7,352.6 252.6,352.3 253.6,352.1 254.6,351.8 255.5,351.6 256.5,351.3 257.5,351.0 258.4,350.8 259.4,350.5 260.4,350.2 261.3,349.9 262.3,349.6 263.2,349.3 264.2,349.0 265.1,348.7 266.1,348.4 267.0,348.0 267.9,347.7 268.9,347.3 269.8,347.0 270.7,346.6 271.7,346.2 272.6,345.9 273.5,345.5 274.4,345.1 275.4,344.7 276.3,344.3 277.2,343.9 278.1,343.5 279.0,343.1 280.0,342.7 280.9,342.3 281.8,341.9 282.7,341.5 283.6,341.1 284.5,340.7 285.4,340.3 286.4,339.9 287.3,339.5 288.2,339.1 289.1,338.6 290.0,338.2 290.9,337.8 291.8,337.4 292.7,336.9 293.6,336.5 294.5,336.1 295.4,335.6 296.3,335.2 297.2,334.7 298.1,334.3 299.0,333.8 299.9,333.4 300.8,332.9 301.6,332.4 302.5,332.0 303.4,331.5 304.3,331.0 305.1,330.5 306.0,330.0 306.9,329.5 307.7,329.0 308.6,328.5 309.4,328.0 310.3,327.4 311.1,326.9 312.0,326.4 312.8,325.8 313.6,325.3 314.5,324.7 315.3,324.1 316.1,323.6 317.0,323.0 317.8,322.4 318.6,321.9 319.4,321.3 320.2,320.7 321.0,320.1 321.8,319.5 322.6,318.9 323.4,318.3 324.2,317.7 325.0,317.1 325.8,316.4 326.6,315.8 327.3,315.2 328.1,314.6 328.9,313.9 329.7,313.3 330.4,312.6 331.2,312.0 331.9,311.3 332.7,310.6 333.4,310.0 334.1,309.3 334.8,308.6 335.6,307.9 336.3,307.2 337.0,306.5 337.7,305.8 338.4,305.1 339.1,304.4 339.8,303.7 340.5,303.0 341.2,302.2 341.9,301.5 342.6,300.8 343.3,300.1 344.0,299.4 344.7,298.6 345.4,297.9 346.0,297.2 346.7,296.4 347.4,295.7 348.0,294.9 348.7,294.1 349.3,293.4 349.9,292.6 350.5,291.8 351.1,291.0 351.7,290.2 352.3,289.4 352.9,288.6 353.5,287.8 354.1,287.0 354.6,286.1 355.2,285.3 355.7,284.5 356.3,283.6 356.8,282.8 357.4,281.9 357.9,281.1 358.4,280.2 358.9,279.4 359.4,278.5 359.9,277.6 360.4,276.8 360.9,275.9 361.4,275.0 361.9,274.2 362.4,273.3 362.8,272.4 363.3,271.5 363.7,270.6 364.2,269.7 364.6,268.8 365.0,267.9 365.4,267.0 365.8,266.1 366.2,265.1 366.6,264.2 367.0,263.3 367.4,262.4 367.8,261.5 368.2,260.5 368.5,259.6 368.9,258.7 369.3,257.8 369.7,256.8 370.0,255.9 370.4,255.0 370.8,254.0 371.1,253.1 371.5,252.2 371.8,251.2 372.2,250.3 372.6,249.4 372.9,248.4 373.3,247.5 373.6,246.6 374.0,245.6 374.3,244.7 374.6,243.8 375.0,242.8 375.3,241.9 375.7,240.9 376.0,240.0 376.3,239.0 376.7,238.1 377.0,237.2 377.3,236.2 377.7,235.3 378.0,234.3 378.3,233.4 378.7,232.4 379.0,231.5 379.3,230.5 379.6,229.6 380.0,228.7 380.3,227.7 380.6,226.8 380.9,225.8 381.2,224.9 381.5,223.9 381.9,223.0 382.2,222.0 382.5,221.1 382.8,220.1 383.1,219.2 383.4,218.2 383.7,217.3 384.0,216.3 384.3,215.4 384.6,214.4 384.9,213.5 385.2,212.5 385.5,211.5 385.8,210.6 386.1,209.6 386.4,208.7 386.7,207.7 387.0,206.8 387.3,205.8 387.6,204.9 387.9,203.9 388.2,203.0 388.5,202.0 388.8,201.0 389.1,200.1 389.4,199.1 389.6,198.2 389.9,197.2 390.2,196.2 390.5,195.3 390.8,194.3 391.1,193.4 391.3,192.4 391.6,191.4 391.9,190.5 392.2,189.5 392.5,188.6 392.7,187.6 393.0,186.6 393.3,185.7 393.6,184.7 393.8,183.8 394.1,182.8 394.4,181.8 394.6,180.9 394.9,179.9 395.1,178.9 395.4,178.0 395.6,177.0 395.9,176.0 396.2,175.1 396.4,174.1 396.7,173.1 396.9,172.2 397.2,171.2 397.4,170.2 397.7,169.3 397.9,168.3 398.1,167.3 398.4,166.3 398.6,165.4 398.9,164.4 399.1,163.4 399.4,162.5 399.6,161.5 399.9,160.5 400.1,159.6 400.4,158.6 400.6,157.6 400.9,156.7 401.1,155.7 401.4,154.7 401.6,153.8 401.9,152.8 402.1,151.8 402.4,150.9 402.6,149.9 402.9,148.9 403.2,148.0 403.4,147.0 403.7,146.0 403.9,145.1 404.2,144.1 404.4,143.1 404.7,142.2 404.9,141.2 405.2,140.2 405.4,139.2 405.7,138.3 405.9,137.3 406.2,136.3 406.4,135.4 406.7,134.4 406.9,133.4 407.2,132.5 407.5,131.5 407.7,130.5 408.0,129.6 408.3,128.6 408.6,127.7 408.9,126.7 409.2,125.8 409.5,124.8 409.8,123.9 410.1,122.9 410.5,122.0 410.8,121.0 411.2,120.1 411.6,119.2 411.9,118.2 412.3,117.3 412.7,116.4 413.1,115.5 413.5,114.6 414.0,113.7 414.6,112.9 415.3,112.2 416.2,111.8 417.2,111.9 418.0,112.5 418.6,113.2 419.2,114.1 419.6,115.0 420.0,115.9 420.4,116.8 420.8,117.7 421.2,118.7 421.5,119.6 421.8,120.6 422.1,121.5 422.3,122.5 422.6,123.5 422.8,124.4 423.0,125.4 423.2,126.4 423.4,127.4 423.6,128.4 423.8,129.3 423.9,130.3 424.1,131.3 424.3,132.3 424.4,133.3 424.6,134.3 424.8,135.3 424.9,136.2 425.1,137.2 425.3,138.2 425.4,139.2 425.6,140.2 425.8,141.2 425.9,142.2 426.1,143.1 426.3,144.1 426.5,145.1 426.6,146.1 426.8,147.1 427.0,148.1 427.2,149.0 427.4,150.0 427.6,151.0 427.8,152.0 427.9,153.0 428.1,154.0 428.3,154.9 428.5,155.9 428.7,156.9 428.9,157.9 429.0,158.9 429.2,159.9 429.4,160.8 429.6,161.8 429.7,162.8 429.9,163.8 430.0,164.8 430.2,165.8 430.3,166.8 430.5,167.8 430.6,168.7 430.8,169.7 430.9,170.7 431.0,171.7 431.1,172.7 431.3,173.7 431.4,174.7 431.5,175.7 431.6,176.7 431.7,177.7 431.8,178.7 431.9,179.7 432.0,180.7 432.1,181.7 432.2,182.7 432.3,183.6 432.4,184.6 432.5,185.6 432.6,186.6 432.6,187.6 432.7,188.6 432.8,189.6 432.9,190.6 433.0,191.6 433.0,192.6 433.1,193.6 433.2,194.6 433.3,195.6 433.3,196.6 433.4,197.6 433.5,198.6 433.5,199.6 433.6,200.6 433.7,201.6 433.8,202.6 433.8,203.6 433.9,204.6 434.0,205.6 434.0,206.6 434.1,207.6 434.2,208.6 434.2,209.6 434.3,210.6 434.4,211.6 434.4,212.6 434.5,213.6 434.6,214.6 434.7,215.6 434.7,216.6 434.8,217.6 434.9,218.6 434.9,219.6 435.0,220.6 435.1,221.5 435.1,222.5 435.2,223.5 435.3,224.5 435.3,225.5 435.4,226.5 435.5,227.5 435.5,228.5 435.6,229.5 435.7,230.5 435.7,231.5 435.8,232.5 435.9,233.5 435.9,234.5 436.0,235.5 436.1,236.5 436.1,237.5 436.2,238.5 436.2,239.5 436.3,240.5 436.4,241.5 436.4,242.5 436.5,243.5 436.5,244.5 436.6,245.5 436.7,246.5 436.7,247.5 436.8,248.5 436.9,249.5 436.9,250.5 437.0,251.5 437.0,252.5 437.1,253.5 437.2,254.5 437.2,255.5 437.3,256.5 437.3,257.5 437.4,258.5 437.5,259.5 437.5,260.5 437.6,261.5 437.7,262.5 437.7,263.5 437.8,264.5 437.8,265.5 437.9,266.5 437.9,267.5 438.0,268.5 438.1,269.5 438.1,270.5 438.2,271.5 438.2,272.4 438.3,273.4 438.4,274.4 438.4,275.4 438.5,276.4 438.5,277.4 438.6,278.4 438.6,279.4 438.7,280.4 438.8,281.4 438.8,282.4 438.9,283.4 438.9,284.4 439.0,285.4 439.1,286.4 439.1,287.4 439.2,288.4 439.3,289.4 439.3,290.4 439.4,291.4 439.4,292.4 439.5,293.4 439.6,294.4 439.7,295.4 439.7,296.4 439.8,297.4 439.9,298.4 440.0,299.4 440.0,300.4 440.1,301.4 440.2,302.4 440.3,303.4 440.4,304.4 440.5,305.4 440.6,306.4 440.6,307.4 440.7,308.4 440.8,309.4 440.9,310.4 441.0,311.3 441.1,312.3 441.2,313.3 441.3,314.3 441.4,315.3 441.5,316.3 441.6,317.3 441.7,318.3 441.8,319.3 441.9,320.3 442.0,321.3 442.1,322.3 442.2,323.3 442.3,324.3 442.4,325.3 442.6,326.3 442.7,327.3 442.8,328.3 442.9,329.2 443.0,330.2 443.1,331.2 443.2,332.2 443.4,333.2 443.5,334.2 443.6,335.2 443.7,336.2 443.9,337.2 444.0,338.2 444.1,339.2 444.2,340.2 444.4,341.2 444.5,342.1 444.6,343.1 444.7,344.1 444.9,345.1 445.0,346.1 445.1,347.1 445.3,348.1 445.4,349.1 445.5,350.1 445.7,351.1 445.8,352.1 446.0,353.1 446.1,354.0 446.2,355.0 446.4,356.0 446.5,357.0 446.7,358.0 446.8,359.0 447.0,360.0 447.1,361.0 447.3,362.0 447.4,362.9 447.6,363.9 447.7,364.9 447.9,365.9 448.0,366.9 448.2,367.9 448.4,368.9 448.5,369.9 448.7,370.8 448.9,371.8 449.0,372.8 449.2,373.8 449.4,374.8 449.5,375.8 449.7,376.8 449.9,377.7 450.0,378.7 450.2,379.7 450.4,380.7 450.6,381.7 450.7,382.7 450.9,383.6 451.1,384.6 451.3,385.6 451.4,386.6 451.6,387.6 451.8,388.6 452.0,389.6 452.1,390.5 452.3,391.5 452.5,392.5 452.6,393.5 452.8,394.5 453.0,395.5 453.1,396.5 453.3,397.4 453.5,398.4 453.7,399.4 453.8,400.4 454.0,401.4 454.2,402.4 454.4,403.3 454.6,404.3 454.8,405.3 455.0,406.3 455.2,407.3 455.4,408.2 455.6,409.2 455.8,410.2 456.1,411.2 456.4,412.1 456.7,413.1 457.0,414.0 457.3,415.0 457.7,415.9 458.1,416.8 458.5,417.7 458.9,418.7 459.3,419.6 459.7,420.5 460.2,421.3 460.7,422.2 461.2,423.1 461.7,423.9 462.3,424.8 462.8,425.6 463.4,426.4 464.1,427.1 464.7,427.9 465.4,428.6 466.2,429.3 466.9,430.0 467.7,430.6 468.5,431.1 469.4,431.6 470.4,431.9 471.4,432.1 472.4,432.2 473.3,432.2 474.3,432.1 475.3,431.9 476.3,431.8 477.3,431.5 478.3,431.3 479.2,431.0 480.2,430.7 481.1,430.4 482.1,430.1 483.0,429.7 483.9,429.2 484.8,428.7 485.6,428.2 486.5,427.7 487.3,427.1 488.1,426.6 488.9,426.0 489.8,425.4 490.6,424.8 491.4,424.2 492.2,423.6 493.0,423.1 493.8,422.5 494.6,421.9 495.4,421.3 496.2,420.7 497.0,420.1 497.8,419.5 498.7,419.0 499.5,418.4 500.3,417.9 501.2,417.3 502.0,416.8 502.9,416.3 503.7,415.8 504.6,415.3 505.5,414.8 506.3,414.3 507.2,413.8 508.1,413.3 509.0,412.9 509.9,412.4 510.8,411.9 511.6,411.5 512.5,411.0 513.4,410.6 514.3,410.1 515.2,409.7 516.1,409.3 517.0,408.9 518.0,408.4 518.9,408.0 519.8,407.6 520.7,407.2 521.6,406.8 522.5,406.4 523.4,406.0 524.3,405.6 525.2,405.2 526.2,404.8 527.1,404.4 528.0,404.0 528.9,403.5 529.8,403.2 530.7,402.8 531.7,402.4 532.6,402.0 533.5,401.6 534.4,401.2 535.3,400.8 536.3,400.4 537.2,400.0 538.1,399.7 539.1,399.3 540.0,398.9 540.9,398.6 541.9,398.2 542.8,397.9 543.7,397.5 544.7,397.2 545.6,396.9 546.6,396.5 547.5,396.2 548.5,395.9 549.4,395.6 550.4,395.3 551.3,395.0 552.3,394.7 553.2,394.4 554.2,394.2 555.2,393.9 556.1,393.6 557.1,393.4 558.1,393.2 559.0,392.9 560.0,392.7 561.0,392.5 562.0,392.3 562.9,392.1 563.9,391.8 564.9,391.6 565.9,391.4 566.9,391.2 567.8,391.0 568.8,390.9 569.8,390.7 570.8,390.5 571.8,390.3 572.8,390.1 573.7,390.0 574.7,389.8 575.7,389.6 576.7,389.5 577.7,389.3 578.7,389.1 579.7,389.0 580.7,388.8 581.6,388.7 582.6,388.6 583.6,388.4 584.6,388.3 585.6,388.1 586.6,388.0 587.6,387.9 588.6,387.8 589.6,387.7 590.6,387.5 591.6,387.4 592.6,387.3 593.6,387.2 594.5,387.1 595.5,387.0 596.5,386.9 597.5,386.8 598.5,386.7 599.5,386.6 600.5,386.5 601.5,386.4 602.5,386.3 603.5,386.2 604.5,386.1 605.5,386.0 606.5,385.9 607.5,385.8 608.5,385.7 609.5,385.7 610.5,385.6 611.5,385.5 612.5,385.4 613.5,385.3 614.5,385.2 615.5,385.2 616.5,385.1 617.4,385.0 618.4,384.9 619.4,384.8 620.4,384.8 621.4,384.7 622.4,384.6 623.4,384.5 624.4,384.5 625.4,384.4 626.4,384.3 627.4,384.2 628.4,384.2 629.4,384.1 630.4,384.0 631.4,384.0 632.4,383.9 633.4,383.8 634.4,383.7 635.4,383.7 636.4,383.6 637.4,383.5 638.4,383.5 639.4,383.4 640.4,383.3 641.4,383.3 642.4,383.2 643.4,383.1 644.4,383.1 645.4,383.0 646.4,382.9 647.4,382.9 648.4,382.8 649.4,382.7 650.4,382.7 651.4,382.6 652.4,382.5 653.4,382.5 654.4,382.4 655.4,382.3 656.4,382.3 657.3,382.2 658.3,382.1 659.3,382.0 660.3,382.0 661.3,381.9 662.3,381.8 663.3,381.8 664.3,381.7 665.3,381.6 666.3,381.6 667.3,381.5 668.3,381.4 669.3,381.3 670.3,381.3 671.3,381.2 672.3,381.1 673.3,381.1 674.3,381.0 675.3,380.9 676.3,380.9 677.3,380.8 678.3,380.7 679.3,380.7 680.3,380.6 681.3,380.5 682.3,380.5 683.3,380.4 684.3,380.3 685.3,380.3 686.3,380.2 687.3,380.1 688.3,380.1 689.3,380.0 690.3,380.0 691.3,379.9 692.3,379.8 693.3,379.8 694.3,379.7 695.3,379.6 696.3,379.6 697.3,379.5 698.3,379.4 699.3,379.4 700.3,379.3 701.3,379.3 702.2,379.2 703.2,379.1 704.2,379.1 705.2,379.0 706.2,379.0 707.2,378.9 708.2,378.8 709.2,378.8 710.2,378.7 711.2,378.7 712.2,378.6 713.2,378.5 714.2,378.5 715.2,378.4 716.2,378.4 717.2,378.3 718.2,378.2 719.2,378.2 720.2,378.1 721.2,378.1 722.2,378.0 723.2,378.0 724.2,377.9 725.2,377.8 726.0,377.8" fill="none" stroke="#7f0000" stroke-width="6.4" stroke-linejoin="miter" stroke-linecap="square"/>
</g>
<rect x="107" y="48.6" width="619" height="410.79999999999995" fill="none" stroke="#000" stroke-width="1.3"/>
<text x="664.0" y="430.6" text-anchor="start" font-size="36.5" >(a)</text>
<text x="82.9" y="384.8" text-anchor="end" font-size="36.5" >1</text>
<text x="82.9" y="169.0" text-anchor="end" font-size="36.5" >2</text>
<text transform="translate(28.1,254.0) rotate(-90)" text-anchor="middle" font-size="36.5">R(l<tspan font-size="28.2" dy="8.3">max</tspan><tspan dy="-8.3">)</tspan></text>
<rect x="1184.7" y="389.5" width="186.5" height="57.7" fill="#cdece5" stroke="#111" stroke-width="1.4"/>
<text x="1190.7" y="430.7" font-size="36.5">l = l<tspan font-size="28.2" dy="8.3">max</tspan><tspan dy="-8.3" dx="-1.5">-2</tspan></text>
<path d="M775.95 459.4v-9M775.95 48.6v9M791.79 459.4v-9M791.79 48.6v9M805.96 459.4v-17M805.96 48.6v17M899.16 459.4v-9M899.16 48.6v9M953.67 459.4v-9M953.67 48.6v9M992.36 459.4v-9M992.36 48.6v9M1022.36 459.4v-9M1022.36 48.6v9M1046.87 459.4v-9M1046.87 48.6v9M1067.60 459.4v-9M1067.60 48.6v9M1085.55 459.4v-9M1085.55 48.6v9M1101.39 459.4v-9M1101.39 48.6v9M1115.56 459.4v-17M1115.56 48.6v17M1208.76 459.4v-9M1208.76 48.6v9M1263.27 459.4v-9M1263.27 48.6v9M1301.96 459.4v-9M1301.96 48.6v9M1331.96 459.4v-9M1331.96 48.6v9M1356.47 459.4v-9M1356.47 48.6v9M1377.2 301.40h-17" stroke="#000" stroke-width="1.25" fill="none"/>
<path d="M758 143.0H1377.2" stroke="#a8a8a8" stroke-width="3"/>
<text x="805.0" y="94.2" text-anchor="end" font-size="36.5" >N</text>
<text x="805.0" y="127.8" text-anchor="end" font-size="36.5" >4</text>
<path d="M824 115.7H894.1" stroke="#990000" stroke-width="6.4"/>
<text x="805.0" y="161.4" text-anchor="end" font-size="36.5" >5</text>
<path d="M824 149.3H894.1" stroke="#d7301f" stroke-width="6.4"/>
<text x="805.0" y="195.3" text-anchor="end" font-size="36.5" >6</text>
<path d="M824 183.2H894.1" stroke="#ef6548" stroke-width="6.4"/>
<text x="805.0" y="228.9" text-anchor="end" font-size="36.5" >7</text>
<path d="M824 216.8H894.1" stroke="#fc8d59" stroke-width="6.4"/>
<text x="805.0" y="262.7" text-anchor="end" font-size="36.5" >8</text>
<path d="M824 250.6H894.1" stroke="#fdbb84" stroke-width="6.4"/>
<g clip-path="url(#clipb)">
<polyline points="758.0,459.4 759.0,459.4 760.0,459.4 761.0,459.4 762.0,459.4 763.0,459.4 764.0,459.4 765.0,459.4 766.0,459.4 767.0,459.4 768.0,459.4 769.0,459.4 770.0,459.4 771.0,459.4 772.0,459.4 773.0,459.4 774.0,459.4 775.0,459.4 776.0,459.4 777.0,459.4 778.0,459.4 779.0,459.4 780.0,459.3 781.0,459.3 782.0,459.3 783.0,459.3 784.0,459.3 785.0,459.3 786.0,459.3 787.0,459.3 788.0,459.3 789.0,459.3 790.0,459.3 791.0,459.3 792.0,459.3 793.0,459.3 794.0,459.3 795.0,459.3 796.0,459.3 797.0,459.3 798.0,459.3 799.0,459.3 800.0,459.2 801.0,459.2 802.0,459.2 803.0,459.2 804.0,459.2 805.0,459.2 806.0,459.2 807.0,459.2 808.0,459.2 809.0,459.2 810.0,459.2 811.0,459.2 812.0,459.2 813.0,459.2 814.0,459.2 815.0,459.1 816.0,459.1 817.0,459.1 818.0,459.1 819.0,459.1 820.0,459.1 821.0,459.1 822.0,459.1 823.0,459.1 824.0,459.1 825.0,459.0 826.0,459.0 827.0,459.0 828.0,459.0 829.0,459.0 830.0,459.0 831.0,459.0 832.0,459.0 833.0,458.9 834.0,458.9 835.0,458.9 836.0,458.9 837.0,458.9 838.0,458.9 839.0,458.9 840.0,458.8 841.0,458.8 842.0,458.8 843.0,458.8 844.0,458.8 845.0,458.8 846.0,458.7 847.0,458.7 848.0,458.7 849.0,458.7 850.0,458.7 851.0,458.7 852.0,458.6 853.0,458.6 854.0,458.6 855.0,458.6 856.0,458.6 857.0,458.5 858.0,458.5 859.0,458.5 860.0,458.5 861.0,458.5 862.0,458.4 863.0,458.4 864.0,458.4 865.0,458.4 866.0,458.3 867.0,458.3 868.0,458.3 869.0,458.3 870.0,458.2 871.0,458.2 872.0,458.2 873.0,458.2 874.0,458.1 875.0,458.1 876.0,458.1 877.0,458.1 878.0,458.0 879.0,458.0 880.0,458.0 881.0,458.0 882.0,457.9 883.0,457.9 884.0,457.9 885.0,457.8 886.0,457.8 887.0,457.8 888.0,457.7 889.0,457.7 890.0,457.6 891.0,457.6 892.0,457.6 893.0,457.5 894.0,457.5 895.0,457.4 896.0,457.4 897.0,457.3 898.0,457.3 899.0,457.2 900.0,457.1 901.0,457.1 902.0,457.0 903.0,457.0 904.0,456.9 905.0,456.8 906.0,456.7 907.0,456.7 908.0,456.6 908.9,456.5 909.9,456.4 910.9,456.3 911.9,456.3 912.9,456.2 913.9,456.1 914.9,456.0 915.9,455.9 916.9,455.8 917.9,455.7 918.9,455.6 919.9,455.5 920.9,455.3 921.9,455.2 922.9,455.1 923.9,455.0 924.9,454.9 925.9,454.7 926.8,454.6 927.8,454.5 928.8,454.3 929.8,454.2 930.8,454.1 931.8,453.9 932.8,453.8 933.8,453.6 934.8,453.5 935.8,453.3 936.7,453.2 937.7,453.0 938.7,452.9 939.7,452.7 940.7,452.5 941.7,452.4 942.7,452.2 943.6,452.0 944.6,451.9 945.6,451.7 946.6,451.5 947.6,451.3 948.6,451.1 949.5,450.9 950.5,450.7 951.5,450.5 952.5,450.3 953.5,450.1 954.4,449.9 955.4,449.6 956.4,449.4 957.3,449.1 958.3,448.9 959.3,448.6 960.2,448.3 961.2,448.1 962.2,447.8 963.1,447.5 964.1,447.2 965.0,446.9 966.0,446.6 966.9,446.2 967.9,445.9 968.8,445.6 969.7,445.2 970.7,444.8 971.6,444.5 972.5,444.1 973.4,443.6 974.3,443.2 975.2,442.8 976.1,442.3 977.0,441.8 977.8,441.3 978.7,440.8 979.6,440.3 980.4,439.8 981.3,439.3 982.1,438.7 982.9,438.1 983.7,437.6 984.5,437.0 985.3,436.4 986.1,435.8 986.9,435.2 987.7,434.5 988.5,433.9 989.3,433.3 990.0,432.6 990.8,432.0 991.5,431.3 992.3,430.6 993.0,429.9 993.7,429.2 994.4,428.5 995.1,427.8 995.8,427.1 996.5,426.4 997.2,425.7 997.9,424.9 998.6,424.2 999.2,423.5 999.9,422.7 1000.6,422.0 1001.2,421.2 1001.9,420.5 1002.5,419.7 1003.2,418.9 1003.8,418.1 1004.4,417.4 1005.0,416.6 1005.7,415.8 1006.3,415.0 1006.9,414.2 1007.5,413.4 1008.1,412.6 1008.7,411.8 1009.3,411.0 1009.9,410.2 1010.5,409.4 1011.0,408.6 1011.6,407.8 1012.2,407.0 1012.7,406.1 1013.3,405.3 1013.9,404.5 1014.4,403.6 1014.9,402.8 1015.5,401.9 1016.0,401.1 1016.5,400.2 1017.0,399.4 1017.6,398.5 1018.1,397.7 1018.6,396.8 1019.1,395.9 1019.5,395.0 1020.0,394.2 1020.5,393.3 1021.0,392.4 1021.4,391.5 1021.9,390.6 1022.3,389.7 1022.8,388.8 1023.2,387.9 1023.6,387.0 1024.1,386.1 1024.5,385.2 1024.9,384.3 1025.3,383.4 1025.7,382.5 1026.1,381.6 1026.5,380.7 1026.9,379.7 1027.3,378.8 1027.7,377.9 1028.1,377.0 1028.5,376.1 1028.9,375.2 1029.3,374.2 1029.7,373.3 1030.1,372.4 1030.5,371.5 1030.9,370.6 1031.3,369.6 1031.7,368.7 1032.1,367.8 1032.5,366.9 1032.8,366.0 1033.2,365.0 1033.6,364.1 1034.0,363.2 1034.4,362.3 1034.7,361.3 1035.1,360.4 1035.5,359.5 1035.9,358.6 1036.3,357.6 1036.6,356.7 1037.0,355.8 1037.4,354.9 1037.8,353.9 1038.2,353.0 1038.5,352.1 1038.9,351.2 1039.3,350.2 1039.7,349.3 1040.1,348.4 1040.5,347.5 1040.8,346.5 1041.2,345.6 1041.6,344.7 1042.0,343.8 1042.4,342.9 1042.8,341.9 1043.2,341.0 1043.6,340.1 1044.0,339.2 1044.4,338.3 1044.7,337.3 1045.1,336.4 1045.5,335.5 1045.9,334.6 1046.3,333.7 1046.7,332.7 1047.1,331.8 1047.5,330.9 1047.9,330.0 1048.4,329.1 1048.8,328.2 1049.2,327.3 1049.6,326.4 1050.0,325.5 1050.4,324.5 1050.9,323.6 1051.3,322.7 1051.7,321.8 1052.1,320.9 1052.5,320.0 1052.9,319.1 1053.3,318.2 1053.7,317.3 1054.1,316.3 1054.5,315.4 1054.8,314.5 1055.2,313.5 1055.6,312.6 1055.9,311.7 1056.2,310.7 1056.6,309.8 1056.9,308.8 1057.2,307.9 1057.5,306.9 1057.8,306.0 1058.1,305.0 1058.4,304.1 1058.8,303.1 1059.1,302.2 1059.4,301.2 1059.7,300.3 1060.0,299.3 1060.3,298.4 1060.6,297.4 1060.9,296.5 1061.2,295.5 1061.5,294.5 1061.8,293.6 1062.1,292.6 1062.4,291.7 1062.7,290.7 1063.0,289.8 1063.3,288.8 1063.6,287.9 1063.9,286.9 1064.1,286.0 1064.4,285.0 1064.7,284.0 1065.0,283.1 1065.3,282.1 1065.6,281.2 1065.9,280.2 1066.2,279.3 1066.6,278.3 1066.9,277.4 1067.2,276.4 1067.5,275.5 1067.8,274.5 1068.1,273.6 1068.4,272.6 1068.7,271.7 1069.0,270.7 1069.3,269.8 1069.6,268.8 1069.9,267.9 1070.3,266.9 1070.6,266.0 1070.9,265.0 1071.2,264.1 1071.5,263.1 1071.8,262.2 1072.1,261.2 1072.4,260.2 1072.7,259.3 1073.0,258.3 1073.3,257.4 1073.6,256.4 1073.9,255.5 1074.2,254.5 1074.5,253.6 1074.8,252.6 1075.1,251.7 1075.4,250.7 1075.7,249.7 1076.0,248.8 1076.3,247.8 1076.6,246.9 1076.9,245.9 1077.2,245.0 1077.5,244.0 1077.8,243.1 1078.1,242.1 1078.3,241.2 1078.6,240.2 1078.9,239.2 1079.2,238.3 1079.5,237.3 1079.8,236.4 1080.1,235.4 1080.4,234.5 1080.7,233.5 1081.0,232.6 1081.3,231.6 1081.6,230.7 1081.9,229.7 1082.2,228.7 1082.5,227.8 1082.8,226.8 1083.1,225.9 1083.4,224.9 1083.7,224.0 1084.0,223.0 1084.3,222.1 1084.6,221.1 1084.9,220.2 1085.2,219.2 1085.6,218.3 1085.9,217.3 1086.2,216.4 1086.5,215.4 1086.8,214.4 1087.1,213.5 1087.4,212.5 1087.7,211.6 1088.0,210.6 1088.3,209.7 1088.6,208.7 1088.9,207.8 1089.2,206.8 1089.5,205.9 1089.8,204.9 1090.1,204.0 1090.4,203.0 1090.7,202.1 1091.0,201.1 1091.3,200.2 1091.6,199.2 1091.9,198.3 1092.2,197.3 1092.6,196.3 1092.9,195.4 1093.2,194.4 1093.5,193.5 1093.8,192.5 1094.1,191.6 1094.4,190.6 1094.7,189.7 1095.0,188.7 1095.3,187.8 1095.7,186.8 1096.0,185.9 1096.3,184.9 1096.6,184.0 1096.9,183.0 1097.2,182.1 1097.5,181.1 1097.9,180.2 1098.2,179.2 1098.5,178.3 1098.8,177.3 1099.1,176.4 1099.4,175.4 1099.7,174.5 1100.0,173.5 1100.4,172.6 1100.7,171.6 1101.0,170.7 1101.3,169.7 1101.6,168.8 1101.9,167.8 1102.2,166.9 1102.5,165.9 1102.8,165.0 1103.2,164.0 1103.5,163.1 1103.8,162.1 1104.1,161.2 1104.4,160.2 1104.7,159.3 1105.0,158.3 1105.4,157.4 1105.7,156.5 1106.0,155.5 1106.3,154.6 1106.6,153.6 1106.9,152.7 1107.3,151.7 1107.6,150.8 1107.9,149.8 1108.2,148.9 1108.5,147.9 1108.8,147.0 1109.1,146.0 1109.5,145.1 1109.8,144.1 1110.1,143.2 1110.4,142.2 1110.8,141.3 1111.1,140.3 1111.4,139.4 1111.8,138.5 1112.1,137.5 1112.5,136.6 1112.9,135.7 1113.3,134.8 1113.7,133.8 1114.1,132.9 1114.5,132.0 1115.0,131.1 1115.5,130.3 1115.9,129.4 1116.4,128.5 1116.9,127.6 1117.4,126.8 1118.0,125.9 1118.5,125.1 1119.0,124.2 1119.6,123.4 1120.1,122.6 1120.7,121.8 1121.3,120.9 1121.9,120.1 1122.5,119.3 1123.1,118.5 1123.7,117.7 1124.3,116.9 1124.9,116.1 1125.5,115.4 1126.1,114.6 1126.8,113.8 1127.5,113.1 1128.1,112.3 1128.8,111.6 1129.5,110.9 1130.2,110.2 1130.9,109.5 1131.7,108.8 1132.4,108.1 1133.2,107.5 1134.0,106.9 1134.8,106.3 1135.6,105.7 1136.4,105.1 1137.3,104.6 1138.1,104.1 1139.0,103.6 1139.9,103.1 1140.8,102.7 1141.7,102.3 1142.6,101.9 1143.6,101.6 1144.5,101.3 1145.5,101.0 1146.4,100.7 1147.4,100.5 1148.4,100.3 1149.4,100.1 1150.4,99.9 1151.3,99.8 1152.3,99.8 1153.3,99.7 1154.3,99.8 1155.3,99.8 1156.3,99.9 1157.3,100.0 1158.3,100.2 1159.3,100.4 1160.3,100.6 1161.2,100.8 1162.2,101.1 1163.2,101.4 1164.1,101.7 1165.1,102.0 1166.0,102.4 1166.9,102.7 1167.9,103.1 1168.8,103.5 1169.7,103.9 1170.6,104.3 1171.5,104.8 1172.4,105.2 1173.3,105.6 1174.2,106.1 1175.1,106.5 1176.0,106.9 1176.9,107.4 1177.8,107.8 1178.7,108.2 1179.6,108.6 1180.5,109.0 1181.5,109.4 1182.4,109.8 1183.3,110.2 1184.2,110.6 1185.2,110.9 1186.1,111.3 1187.0,111.7 1187.9,112.0 1188.9,112.4 1189.8,112.8 1190.8,113.1 1191.7,113.5 1192.6,113.8 1193.6,114.2 1194.5,114.5 1195.4,114.8 1196.4,115.2 1197.3,115.5 1198.3,115.8 1199.2,116.2 1200.2,116.5 1201.1,116.8 1202.1,117.1 1203.0,117.4 1204.0,117.8 1204.9,118.1 1205.9,118.4 1206.8,118.7 1207.8,119.0 1208.7,119.3 1209.7,119.6 1210.6,119.8 1211.6,120.1 1212.6,120.4 1213.5,120.7 1214.5,121.0 1215.4,121.2 1216.4,121.5 1217.4,121.8 1218.3,122.1 1219.3,122.4 1220.2,122.6 1221.2,122.9 1222.2,123.2 1223.1,123.5 1224.1,123.8 1225.0,124.1 1226.0,124.4 1226.9,124.7 1227.9,125.0 1228.8,125.3 1229.8,125.6 1230.7,125.9 1231.7,126.2 1232.7,126.5 1233.6,126.8 1234.6,127.0 1235.5,127.3 1236.5,127.6 1237.5,127.8 1238.4,128.1 1239.4,128.3 1240.4,128.6 1241.4,128.8 1242.3,129.1 1243.3,129.3 1244.3,129.5 1245.2,129.8 1246.2,130.0 1247.2,130.2 1248.2,130.5 1249.1,130.7 1250.1,130.9 1251.1,131.1 1252.1,131.3 1253.0,131.5 1254.0,131.8 1255.0,132.0 1256.0,132.2 1257.0,132.4 1257.9,132.6 1258.9,132.8 1259.9,133.0 1260.9,133.1 1261.9,133.3 1262.8,133.5 1263.8,133.7 1264.8,133.8 1265.8,134.0 1266.8,134.2 1267.8,134.3 1268.8,134.5 1269.8,134.6 1270.7,134.8 1271.7,134.9 1272.7,135.1 1273.7,135.2 1274.7,135.3 1275.7,135.4 1276.7,135.6 1277.7,135.7 1278.7,135.8 1279.7,135.9 1280.7,136.0 1281.7,136.2 1282.6,136.3 1283.6,136.4 1284.6,136.5 1285.6,136.6 1286.6,136.7 1287.6,136.8 1288.6,136.9 1289.6,137.0 1290.6,137.1 1291.6,137.2 1292.6,137.3 1293.6,137.4 1294.6,137.5 1295.6,137.5 1296.6,137.6 1297.6,137.7 1298.6,137.8 1299.6,137.9 1300.6,138.0 1301.6,138.1 1302.6,138.2 1303.6,138.2 1304.6,138.3 1305.5,138.4 1306.5,138.5 1307.5,138.6 1308.5,138.6 1309.5,138.7 1310.5,138.8 1311.5,138.9 1312.5,139.0 1313.5,139.0 1314.5,139.1 1315.5,139.2 1316.5,139.3 1317.5,139.4 1318.5,139.4 1319.5,139.5 1320.5,139.6 1321.5,139.7 1322.5,139.7 1323.5,139.8 1324.5,139.9 1325.5,140.0 1326.5,140.0 1327.5,140.1 1328.5,140.2 1329.5,140.2 1330.5,140.3 1331.5,140.4 1332.5,140.4 1333.5,140.5 1334.5,140.5 1335.5,140.6 1336.5,140.6 1337.5,140.7 1338.5,140.7 1339.5,140.8 1340.5,140.8 1341.5,140.9 1342.5,140.9 1343.5,141.0 1344.5,141.0 1345.5,141.0 1346.5,141.1 1347.5,141.1 1348.5,141.1 1349.5,141.2 1350.5,141.2 1351.5,141.2 1352.5,141.3 1353.5,141.3 1354.5,141.3 1355.5,141.4 1356.5,141.4 1357.5,141.4 1358.5,141.5 1359.5,141.5 1360.5,141.5 1361.5,141.5 1362.5,141.6 1363.4,141.6 1364.4,141.6 1365.4,141.6 1366.4,141.7 1367.4,141.7 1368.4,141.7 1369.4,141.7 1370.4,141.7 1371.4,141.7 1372.4,141.7 1373.4,141.8 1374.4,141.8 1375.4,141.8 1376.4,141.8 1377.4,141.8 1377.5,141.8" fill="none" stroke="#990000" stroke-width="6.4" stroke-linejoin="miter" stroke-linecap="square"/>
<polyline points="758.0,459.5 759.0,459.5 760.0,459.5 761.0,459.5 762.0,459.5 763.0,459.5 764.0,459.5 765.0,459.5 766.0,459.5 767.0,459.5 768.0,459.5 769.0,459.5 770.0,459.5 771.0,459.5 772.0,459.5 773.0,459.5 774.0,459.5 775.0,459.5 776.0,459.5 777.0,459.5 778.0,459.5 779.0,459.5 780.0,459.5 781.0,459.5 782.0,459.5 783.0,459.5 784.0,459.5 785.0,459.5 786.0,459.5 787.0,459.5 788.0,459.5 789.0,459.5 790.0,459.5 791.0,459.5 792.0,459.5 793.0,459.5 794.0,459.4 795.0,459.4 796.0,459.4 797.0,459.4 798.0,459.4 799.0,459.4 800.0,459.4 801.0,459.4 802.0,459.4 803.0,459.4 804.0,459.4 805.0,459.4 806.0,459.4 807.0,459.4 808.0,459.4 809.0,459.4 810.0,459.4 811.0,459.4 812.0,459.4 813.0,459.4 814.0,459.4 815.0,459.4 816.0,459.4 817.0,459.4 818.0,459.4 819.0,459.4 820.0,459.4 821.0,459.4 822.0,459.3 823.0,459.3 824.0,459.3 825.0,459.3 826.0,459.3 827.0,459.3 828.0,459.3 829.0,459.3 830.0,459.3 831.0,459.3 832.0,459.3 833.0,459.3 834.0,459.3 835.0,459.3 836.0,459.3 837.0,459.3 838.0,459.3 839.0,459.3 840.0,459.3 841.0,459.3 842.0,459.2 843.0,459.2 844.0,459.2 845.0,459.2 846.0,459.2 847.0,459.2 848.0,459.2 849.0,459.2 850.0,459.2 851.0,459.2 852.0,459.2 853.0,459.2 854.0,459.2 855.0,459.2 856.0,459.1 857.0,459.1 858.0,459.1 859.0,459.1 860.0,459.1 861.0,459.1 862.0,459.1 863.0,459.1 864.0,459.0 865.0,459.0 866.0,459.0 867.0,459.0 868.0,459.0 869.0,459.0 870.0,459.0 871.0,458.9 872.0,458.9 873.0,458.9 874.0,458.9 875.0,458.9 876.0,458.8 877.0,458.8 878.0,458.8 879.0,458.8 880.0,458.7 881.0,458.7 882.0,458.7 883.0,458.7 884.0,458.6 885.0,458.6 886.0,458.6 887.0,458.6 888.0,458.5 889.0,458.5 890.0,458.5 891.0,458.5 892.0,458.4 893.0,458.4 894.0,458.4 895.0,458.3 896.0,458.3 897.0,458.3 898.0,458.2 899.0,458.2 900.0,458.2 901.0,458.1 902.0,458.1 903.0,458.0 904.0,458.0 905.0,458.0 906.0,457.9 907.0,457.9 908.0,457.8 909.0,457.8 910.0,457.7 911.0,457.6 912.0,457.6 913.0,457.5 914.0,457.4 915.0,457.4 916.0,457.3 917.0,457.2 918.0,457.1 919.0,457.0 919.9,457.0 920.9,456.9 921.9,456.8 922.9,456.7 923.9,456.6 924.9,456.5 925.9,456.4 926.9,456.3 927.9,456.1 928.9,456.0 929.9,455.9 930.9,455.8 931.9,455.7 932.9,455.6 933.9,455.5 934.9,455.3 935.9,455.2 936.8,455.1 937.8,455.0 938.8,454.8 939.8,454.7 940.8,454.6 941.8,454.4 942.8,454.3 943.8,454.1 944.8,454.0 945.8,453.8 946.7,453.7 947.7,453.5 948.7,453.3 949.7,453.1 950.7,453.0 951.7,452.8 952.6,452.6 953.6,452.4 954.6,452.2 955.6,452.0 956.6,451.8 957.5,451.6 958.5,451.4 959.5,451.2 960.5,450.9 961.4,450.7 962.4,450.5 963.4,450.3 964.4,450.0 965.3,449.8 966.3,449.5 967.3,449.2 968.2,449.0 969.2,448.7 970.1,448.4 971.1,448.1 972.1,447.8 973.0,447.5 973.9,447.2 974.9,446.8 975.8,446.5 976.7,446.1 977.7,445.7 978.6,445.3 979.5,444.9 980.4,444.4 981.3,444.0 982.1,443.5 983.0,443.0 983.9,442.5 984.7,441.9 985.6,441.4 986.4,440.8 987.2,440.3 988.0,439.7 988.8,439.1 989.6,438.5 990.4,437.9 991.2,437.3 992.0,436.6 992.8,436.0 993.5,435.4 994.3,434.7 995.0,434.0 995.8,433.4 996.5,432.7 997.2,432.0 998.0,431.3 998.7,430.6 999.4,429.9 1000.1,429.2 1000.8,428.5 1001.5,427.7 1002.1,427.0 1002.8,426.3 1003.5,425.5 1004.1,424.8 1004.8,424.0 1005.4,423.2 1006.0,422.4 1006.6,421.7 1007.3,420.9 1007.9,420.1 1008.5,419.3 1009.1,418.5 1009.6,417.7 1010.2,416.8 1010.8,416.0 1011.4,415.2 1011.9,414.4 1012.5,413.5 1013.0,412.7 1013.6,411.9 1014.1,411.0 1014.6,410.2 1015.2,409.3 1015.7,408.5 1016.2,407.6 1016.7,406.8 1017.3,405.9 1017.8,405.1 1018.3,404.2 1018.8,403.3 1019.3,402.5 1019.8,401.6 1020.3,400.7 1020.8,399.9 1021.2,399.0 1021.7,398.1 1022.2,397.2 1022.6,396.3 1023.1,395.4 1023.5,394.5 1024.0,393.6 1024.4,392.7 1024.8,391.8 1025.3,390.9 1025.7,390.0 1026.1,389.1 1026.5,388.2 1026.9,387.3 1027.3,386.4 1027.7,385.4 1028.0,384.5 1028.4,383.6 1028.8,382.7 1029.2,381.7 1029.5,380.8 1029.9,379.9 1030.3,378.9 1030.7,378.0 1031.0,377.1 1031.4,376.2 1031.8,375.2 1032.1,374.3 1032.5,373.4 1032.8,372.4 1033.2,371.5 1033.5,370.5 1033.9,369.6 1034.2,368.7 1034.6,367.7 1034.9,366.8 1035.3,365.9 1035.6,364.9 1035.9,364.0 1036.3,363.0 1036.6,362.1 1036.9,361.1 1037.3,360.2 1037.6,359.3 1037.9,358.3 1038.3,357.4 1038.6,356.4 1038.9,355.5 1039.3,354.5 1039.6,353.6 1039.9,352.7 1040.3,351.7 1040.6,350.8 1040.9,349.8 1041.3,348.9 1041.6,347.9 1042.0,347.0 1042.3,346.1 1042.6,345.1 1043.0,344.2 1043.3,343.2 1043.7,342.3 1044.0,341.4 1044.4,340.4 1044.7,339.5 1045.0,338.6 1045.4,337.6 1045.7,336.7 1046.1,335.7 1046.4,334.8 1046.8,333.9 1047.1,332.9 1047.5,332.0 1047.8,331.1 1048.2,330.1 1048.5,329.2 1048.9,328.2 1049.2,327.3 1049.6,326.4 1049.9,325.4 1050.2,324.5 1050.5,323.5 1050.8,322.6 1051.1,321.6 1051.4,320.7 1051.7,319.7 1051.9,318.7 1052.2,317.8 1052.4,316.8 1052.6,315.8 1052.9,314.8 1053.1,313.9 1053.3,312.9 1053.5,311.9 1053.7,310.9 1053.9,309.9 1054.0,309.0 1054.2,308.0 1054.4,307.0 1054.6,306.0 1054.8,305.0 1054.9,304.0 1055.1,303.0 1055.3,302.1 1055.4,301.1 1055.6,300.1 1055.8,299.1 1055.9,298.1 1056.1,297.1 1056.3,296.1 1056.4,295.2 1056.6,294.2 1056.8,293.2 1056.9,292.2 1057.1,291.2 1057.3,290.2 1057.4,289.2 1057.6,288.3 1057.8,287.3 1058.0,286.3 1058.1,285.3 1058.3,284.3 1058.5,283.3 1058.7,282.4 1058.9,281.4 1059.1,280.4 1059.3,279.4 1059.5,278.4 1059.6,277.4 1059.8,276.5 1060.1,275.5 1060.3,274.5 1060.5,273.5 1060.7,272.6 1060.9,271.6 1061.1,270.6 1061.3,269.6 1061.5,268.6 1061.7,267.7 1062.0,266.7 1062.2,265.7 1062.4,264.7 1062.6,263.8 1062.8,262.8 1063.1,261.8 1063.3,260.8 1063.5,259.9 1063.7,258.9 1064.0,257.9 1064.2,256.9 1064.4,256.0 1064.6,255.0 1064.9,254.0 1065.1,253.0 1065.3,252.1 1065.5,251.1 1065.8,250.1 1066.0,249.2 1066.2,248.2 1066.5,247.2 1066.7,246.2 1066.9,245.3 1067.1,244.3 1067.4,243.3 1067.6,242.3 1067.8,241.4 1068.0,240.4 1068.3,239.4 1068.5,238.4 1068.7,237.5 1069.0,236.5 1069.2,235.5 1069.4,234.6 1069.7,233.6 1069.9,232.6 1070.1,231.6 1070.4,230.7 1070.6,229.7 1070.8,228.7 1071.1,227.7 1071.3,226.8 1071.5,225.8 1071.8,224.8 1072.0,223.9 1072.3,222.9 1072.5,221.9 1072.8,221.0 1073.0,220.0 1073.3,219.0 1073.5,218.0 1073.8,217.1 1074.0,216.1 1074.3,215.1 1074.5,214.2 1074.8,213.2 1075.0,212.2 1075.3,211.3 1075.5,210.3 1075.8,209.3 1076.0,208.4 1076.3,207.4 1076.5,206.4 1076.8,205.5 1077.1,204.5 1077.3,203.5 1077.6,202.6 1077.8,201.6 1078.1,200.6 1078.4,199.7 1078.6,198.7 1078.9,197.8 1079.2,196.8 1079.4,195.8 1079.7,194.9 1080.0,193.9 1080.3,192.9 1080.5,192.0 1080.8,191.0 1081.1,190.1 1081.4,189.1 1081.6,188.1 1081.9,187.2 1082.2,186.2 1082.5,185.3 1082.8,184.3 1083.1,183.3 1083.4,182.4 1083.6,181.4 1083.9,180.5 1084.2,179.5 1084.5,178.6 1084.8,177.6 1085.1,176.7 1085.4,175.7 1085.8,174.8 1086.1,173.8 1086.4,172.9 1086.7,171.9 1087.0,171.0 1087.3,170.0 1087.6,169.1 1088.0,168.1 1088.3,167.2 1088.6,166.2 1088.9,165.3 1089.3,164.3 1089.6,163.4 1089.9,162.4 1090.3,161.5 1090.6,160.6 1090.9,159.6 1091.3,158.7 1091.6,157.7 1092.0,156.8 1092.3,155.9 1092.6,154.9 1093.0,154.0 1093.3,153.0 1093.7,152.1 1094.1,151.2 1094.4,150.2 1094.8,149.3 1095.1,148.4 1095.5,147.4 1095.8,146.5 1096.2,145.6 1096.6,144.6 1096.9,143.7 1097.3,142.8 1097.7,141.9 1098.0,140.9 1098.4,140.0 1098.8,139.1 1099.2,138.1 1099.5,137.2 1099.9,136.3 1100.3,135.4 1100.7,134.4 1101.1,133.5 1101.5,132.6 1101.9,131.7 1102.3,130.8 1102.7,129.9 1103.2,129.0 1103.6,128.1 1104.1,127.2 1104.5,126.3 1105.0,125.4 1105.5,124.5 1106.0,123.7 1106.5,122.8 1107.0,121.9 1107.5,121.1 1108.0,120.2 1108.6,119.4 1109.1,118.6 1109.7,117.8 1110.3,117.0 1110.9,116.2 1111.6,115.4 1112.2,114.7 1112.9,113.9 1113.6,113.2 1114.3,112.5 1115.0,111.8 1115.8,111.1 1116.5,110.5 1117.3,109.9 1118.1,109.3 1118.9,108.7 1119.8,108.2 1120.7,107.7 1121.5,107.2 1122.5,106.8 1123.4,106.4 1124.3,106.1 1125.3,105.7 1126.2,105.5 1127.2,105.2 1128.2,105.0 1129.2,104.8 1130.1,104.7 1131.1,104.6 1132.1,104.5 1133.1,104.4 1134.1,104.4 1135.1,104.4 1136.1,104.4 1137.1,104.5 1138.1,104.6 1139.1,104.7 1140.1,104.8 1141.1,105.0 1142.1,105.1 1143.1,105.3 1144.0,105.5 1145.0,105.8 1146.0,106.0 1146.9,106.3 1147.9,106.6 1148.9,106.9 1149.8,107.2 1150.7,107.5 1151.7,107.9 1152.6,108.2 1153.5,108.6 1154.5,109.0 1155.4,109.4 1156.3,109.8 1157.2,110.2 1158.1,110.6 1159.0,111.0 1160.0,111.4 1160.9,111.8 1161.8,112.3 1162.7,112.7 1163.6,113.1 1164.5,113.6 1165.4,114.0 1166.3,114.4 1167.2,114.9 1168.1,115.3 1169.0,115.7 1169.9,116.2 1170.8,116.6 1171.7,117.0 1172.6,117.4 1173.5,117.8 1174.5,118.2 1175.4,118.6 1176.3,118.9 1177.2,119.3 1178.2,119.6 1179.1,119.9 1180.1,120.2 1181.0,120.5 1182.0,120.8 1183.0,121.1 1183.9,121.4 1184.9,121.6 1185.9,121.9 1186.8,122.1 1187.8,122.4 1188.8,122.6 1189.7,122.8 1190.7,123.1 1191.7,123.3 1192.7,123.5 1193.6,123.7 1194.6,123.9 1195.6,124.1 1196.6,124.3 1197.6,124.5 1198.5,124.7 1199.5,124.9 1200.5,125.1 1201.5,125.3 1202.5,125.5 1203.5,125.7 1204.4,125.9 1205.4,126.0 1206.4,126.2 1207.4,126.4 1208.4,126.6 1209.4,126.7 1210.3,126.9 1211.3,127.1 1212.3,127.2 1213.3,127.4 1214.3,127.6 1215.3,127.7 1216.3,127.9 1217.2,128.1 1218.2,128.2 1219.2,128.4 1220.2,128.5 1221.2,128.7 1222.2,128.9 1223.2,129.0 1224.1,129.2 1225.1,129.4 1226.1,129.6 1227.1,129.7 1228.1,129.9 1229.1,130.1 1230.1,130.2 1231.0,130.4 1232.0,130.6 1233.0,130.8 1234.0,130.9 1235.0,131.1 1236.0,131.3 1237.0,131.4 1237.9,131.6 1238.9,131.8 1239.9,131.9 1240.9,132.1 1241.9,132.3 1242.9,132.4 1243.9,132.6 1244.8,132.8 1245.8,132.9 1246.8,133.1 1247.8,133.2 1248.8,133.4 1249.8,133.5 1250.8,133.7 1251.8,133.8 1252.8,134.0 1253.7,134.1 1254.7,134.3 1255.7,134.4 1256.7,134.5 1257.7,134.7 1258.7,134.8 1259.7,134.9 1260.7,135.1 1261.7,135.2 1262.7,135.3 1263.7,135.4 1264.6,135.6 1265.6,135.7 1266.6,135.8 1267.6,135.9 1268.6,136.0 1269.6,136.1 1270.6,136.3 1271.6,136.4 1272.6,136.5 1273.6,136.6 1274.6,136.7 1275.6,136.8 1276.6,136.9 1277.6,137.0 1278.6,137.1 1279.6,137.2 1280.5,137.4 1281.5,137.5 1282.5,137.6 1283.5,137.6 1284.5,137.7 1285.5,137.8 1286.5,137.9 1287.5,138.0 1288.5,138.1 1289.5,138.2 1290.5,138.3 1291.5,138.4 1292.5,138.4 1293.5,138.5 1294.5,138.6 1295.5,138.7 1296.5,138.7 1297.5,138.8 1298.5,138.9 1299.5,138.9 1300.5,139.0 1301.5,139.1 1302.5,139.1 1303.5,139.2 1304.5,139.3 1305.5,139.3 1306.5,139.4 1307.5,139.5 1308.5,139.5 1309.5,139.6 1310.5,139.6 1311.5,139.7 1312.5,139.8 1313.5,139.8 1314.5,139.9 1315.5,139.9 1316.4,140.0 1317.4,140.0 1318.4,140.1 1319.4,140.2 1320.4,140.2 1321.4,140.3 1322.4,140.3 1323.4,140.4 1324.4,140.4 1325.4,140.5 1326.4,140.5 1327.4,140.6 1328.4,140.6 1329.4,140.7 1330.4,140.8 1331.4,140.8 1332.4,140.9 1333.4,140.9 1334.4,141.0 1335.4,141.0 1336.4,141.0 1337.4,141.1 1338.4,141.1 1339.4,141.2 1340.4,141.2 1341.4,141.3 1342.4,141.3 1343.4,141.4 1344.4,141.4 1345.4,141.4 1346.4,141.5 1347.4,141.5 1348.4,141.6 1349.4,141.6 1350.4,141.6 1351.4,141.7 1352.4,141.7 1353.4,141.7 1354.4,141.8 1355.4,141.8 1356.4,141.8 1357.4,141.9 1358.4,141.9 1359.4,141.9 1360.4,141.9 1361.4,142.0 1362.4,142.0 1363.4,142.0 1364.4,142.0 1365.4,142.1 1366.4,142.1 1367.4,142.1 1368.4,142.1 1369.4,142.1 1370.4,142.1 1371.4,142.1 1372.4,142.2 1373.4,142.2 1374.4,142.2 1375.4,142.2 1376.4,142.2 1377.4,142.2 1377.5,142.2" fill="none" stroke="#d7301f" stroke-width="6.4" stroke-linejoin="miter" stroke-linecap="square"/>
<polyline points="758.0,459.5 759.0,459.5 760.0,459.5 761.0,459.5 762.0,459.5 763.0,459.5 764.0,459.5 765.0,459.5 766.0,459.5 767.0,459.5 768.0,459.5 769.0,459.5 770.0,459.5 771.0,459.5 772.0,459.5 773.0,459.5 774.0,459.5 775.0,459.5 776.0,459.5 777.0,459.5 778.0,459.5 779.0,459.5 780.0,459.5 781.0,459.5 782.0,459.5 783.0,459.5 784.0,459.5 785.0,459.5 786.0,459.5 787.0,459.5 788.0,459.5 789.0,459.5 790.0,459.5 791.0,459.5 792.0,459.5 793.0,459.5 794.0,459.5 795.0,459.5 796.0,459.5 797.0,459.5 798.0,459.5 799.0,459.5 800.0,459.5 801.0,459.5 802.0,459.5 803.0,459.5 804.0,459.5 805.0,459.5 806.0,459.5 807.0,459.5 808.0,459.5 809.0,459.5 810.0,459.5 811.0,459.5 812.0,459.5 813.0,459.5 814.0,459.5 815.0,459.4 816.0,459.4 817.0,459.4 818.0,459.4 819.0,459.4 820.0,459.4 821.0,459.4 822.0,459.4 823.0,459.4 824.0,459.4 825.0,459.4 826.0,459.4 827.0,459.4 828.0,459.4 829.0,459.4 830.0,459.4 831.0,459.4 832.0,459.4 833.0,459.4 834.0,459.4 835.0,459.4 836.0,459.4 837.0,459.4 838.0,459.4 839.0,459.4 840.0,459.4 841.0,459.4 842.0,459.4 843.0,459.4 844.0,459.4 845.0,459.4 846.0,459.4 847.0,459.4 848.0,459.4 849.0,459.4 850.0,459.4 851.0,459.4 852.0,459.4 853.0,459.4 854.0,459.4 855.0,459.4 856.0,459.3 857.0,459.3 858.0,459.3 859.0,459.3 860.0,459.3 861.0,459.3 862.0,459.3 863.0,459.3 864.0,459.3 865.0,459.3 866.0,459.3 867.0,459.3 868.0,459.3 869.0,459.3 870.0,459.3 871.0,459.3 872.0,459.3 873.0,459.3 874.0,459.3 875.0,459.3 876.0,459.3 877.0,459.3 878.0,459.2 879.0,459.2 880.0,459.2 881.0,459.2 882.0,459.2 883.0,459.2 884.0,459.2 885.0,459.2 886.0,459.2 887.0,459.1 888.0,459.1 889.0,459.1 890.0,459.1 891.0,459.1 892.0,459.1 893.0,459.0 894.0,459.0 895.0,459.0 896.0,459.0 897.0,459.0 898.0,458.9 899.0,458.9 900.0,458.9 901.0,458.9 902.0,458.9 903.0,458.8 904.0,458.8 905.0,458.8 906.0,458.8 907.0,458.7 908.0,458.7 909.0,458.7 910.0,458.7 911.0,458.6 912.0,458.6 913.0,458.6 914.0,458.5 915.0,458.5 916.0,458.5 917.0,458.4 918.0,458.4 919.0,458.4 920.0,458.3 921.0,458.3 922.0,458.3 923.0,458.2 924.0,458.2 925.0,458.2 926.0,458.1 927.0,458.1 928.0,458.0 929.0,458.0 930.0,457.9 931.0,457.9 932.0,457.8 933.0,457.8 934.0,457.7 935.0,457.6 936.0,457.5 937.0,457.5 938.0,457.4 939.0,457.3 940.0,457.2 940.9,457.1 941.9,457.0 942.9,456.8 943.9,456.7 944.9,456.6 945.9,456.5 946.9,456.4 947.9,456.2 948.9,456.1 949.9,456.0 950.9,455.8 951.9,455.7 952.8,455.5 953.8,455.4 954.8,455.2 955.8,455.1 956.8,454.9 957.8,454.7 958.8,454.6 959.7,454.4 960.7,454.2 961.7,454.0 962.7,453.8 963.7,453.6 964.6,453.4 965.6,453.2 966.6,452.9 967.6,452.7 968.5,452.5 969.5,452.2 970.5,452.0 971.4,451.7 972.4,451.4 973.4,451.2 974.3,450.9 975.3,450.6 976.2,450.3 977.2,450.0 978.1,449.7 979.1,449.4 980.0,449.0 981.0,448.7 981.9,448.3 982.8,447.9 983.8,447.6 984.7,447.1 985.6,446.7 986.5,446.3 987.4,445.8 988.3,445.4 989.1,444.9 990.0,444.4 990.8,443.9 991.7,443.3 992.5,442.8 993.3,442.2 994.1,441.6 994.9,441.0 995.7,440.4 996.5,439.8 997.3,439.1 998.0,438.5 998.8,437.8 999.5,437.1 1000.2,436.4 1001.0,435.8 1001.7,435.1 1002.4,434.3 1003.1,433.6 1003.8,432.9 1004.5,432.2 1005.1,431.4 1005.8,430.7 1006.5,429.9 1007.1,429.2 1007.8,428.4 1008.4,427.6 1009.0,426.9 1009.6,426.1 1010.2,425.3 1010.8,424.5 1011.4,423.7 1012.0,422.9 1012.6,422.0 1013.1,421.2 1013.7,420.4 1014.3,419.6 1014.8,418.7 1015.4,417.9 1015.9,417.0 1016.4,416.2 1016.9,415.3 1017.5,414.5 1018.0,413.6 1018.5,412.8 1019.0,411.9 1019.5,411.0 1020.0,410.2 1020.5,409.3 1020.9,408.4 1021.4,407.5 1021.9,406.6 1022.3,405.7 1022.8,404.9 1023.3,404.0 1023.7,403.1 1024.1,402.2 1024.6,401.3 1025.0,400.4 1025.4,399.5 1025.9,398.6 1026.3,397.7 1026.7,396.7 1027.1,395.8 1027.5,394.9 1027.9,394.0 1028.3,393.1 1028.6,392.1 1029.0,391.2 1029.4,390.3 1029.7,389.4 1030.1,388.4 1030.4,387.5 1030.8,386.5 1031.1,385.6 1031.5,384.7 1031.8,383.7 1032.1,382.8 1032.5,381.8 1032.8,380.9 1033.1,379.9 1033.4,379.0 1033.8,378.0 1034.1,377.1 1034.4,376.2 1034.7,375.2 1035.0,374.3 1035.4,373.3 1035.7,372.4 1036.0,371.4 1036.3,370.5 1036.6,369.5 1036.9,368.5 1037.2,367.6 1037.5,366.6 1037.8,365.7 1038.0,364.7 1038.3,363.8 1038.6,362.8 1038.9,361.8 1039.2,360.9 1039.4,359.9 1039.7,359.0 1040.0,358.0 1040.3,357.0 1040.6,356.1 1040.8,355.1 1041.1,354.2 1041.4,353.2 1041.7,352.2 1042.0,351.3 1042.3,350.3 1042.5,349.4 1042.8,348.4 1043.1,347.4 1043.4,346.5 1043.7,345.5 1044.0,344.6 1044.3,343.6 1044.6,342.7 1044.8,341.7 1045.1,340.7 1045.4,339.8 1045.7,338.8 1046.0,337.9 1046.3,336.9 1046.6,336.0 1046.9,335.0 1047.2,334.0 1047.4,333.1 1047.7,332.1 1048.0,331.2 1048.3,330.2 1048.6,329.3 1048.9,328.3 1049.2,327.3 1049.5,326.4 1049.8,325.4 1050.0,324.5 1050.3,323.5 1050.6,322.5 1050.8,321.6 1051.0,320.6 1051.3,319.6 1051.5,318.6 1051.7,317.7 1051.9,316.7 1052.1,315.7 1052.3,314.7 1052.5,313.7 1052.7,312.8 1052.8,311.8 1053.0,310.8 1053.2,309.8 1053.3,308.8 1053.5,307.8 1053.6,306.8 1053.8,305.9 1054.0,304.9 1054.1,303.9 1054.3,302.9 1054.4,301.9 1054.6,300.9 1054.7,299.9 1054.9,298.9 1055.0,297.9 1055.1,297.0 1055.3,296.0 1055.4,295.0 1055.6,294.0 1055.7,293.0 1055.9,292.0 1056.0,291.0 1056.2,290.0 1056.3,289.0 1056.5,288.1 1056.6,287.1 1056.8,286.1 1056.9,285.1 1057.1,284.1 1057.2,283.1 1057.4,282.1 1057.5,281.1 1057.7,280.1 1057.8,279.2 1058.0,278.2 1058.2,277.2 1058.3,276.2 1058.5,275.2 1058.7,274.2 1058.8,273.2 1059.0,272.3 1059.2,271.3 1059.3,270.3 1059.5,269.3 1059.7,268.3 1059.9,267.3 1060.0,266.3 1060.2,265.4 1060.4,264.4 1060.6,263.4 1060.8,262.4 1060.9,261.4 1061.1,260.4 1061.3,259.5 1061.5,258.5 1061.7,257.5 1061.9,256.5 1062.0,255.5 1062.2,254.5 1062.4,253.6 1062.6,252.6 1062.8,251.6 1063.0,250.6 1063.2,249.6 1063.3,248.7 1063.5,247.7 1063.7,246.7 1063.9,245.7 1064.1,244.7 1064.3,243.7 1064.5,242.8 1064.7,241.8 1064.9,240.8 1065.0,239.8 1065.2,238.8 1065.4,237.9 1065.6,236.9 1065.8,235.9 1066.0,234.9 1066.2,233.9 1066.4,232.9 1066.6,232.0 1066.8,231.0 1067.0,230.0 1067.2,229.0 1067.3,228.0 1067.5,227.1 1067.7,226.1 1067.9,225.1 1068.1,224.1 1068.3,223.1 1068.5,222.2 1068.7,221.2 1068.9,220.2 1069.1,219.2 1069.3,218.2 1069.5,217.3 1069.7,216.3 1069.9,215.3 1070.1,214.3 1070.3,213.3 1070.5,212.4 1070.7,211.4 1070.9,210.4 1071.1,209.4 1071.3,208.4 1071.5,207.5 1071.7,206.5 1071.9,205.5 1072.1,204.5 1072.3,203.5 1072.5,202.6 1072.7,201.6 1072.9,200.6 1073.1,199.6 1073.3,198.6 1073.5,197.7 1073.7,196.7 1074.0,195.7 1074.2,194.7 1074.4,193.8 1074.6,192.8 1074.8,191.8 1075.0,190.8 1075.2,189.8 1075.4,188.9 1075.7,187.9 1075.9,186.9 1076.1,185.9 1076.3,185.0 1076.6,184.0 1076.8,183.0 1077.0,182.0 1077.3,181.1 1077.5,180.1 1077.7,179.1 1078.0,178.2 1078.2,177.2 1078.5,176.2 1078.7,175.3 1079.0,174.3 1079.2,173.3 1079.5,172.4 1079.7,171.4 1080.0,170.4 1080.2,169.5 1080.5,168.5 1080.8,167.5 1081.0,166.6 1081.3,165.6 1081.6,164.6 1081.9,163.7 1082.1,162.7 1082.4,161.8 1082.7,160.8 1083.0,159.8 1083.3,158.9 1083.6,157.9 1083.9,157.0 1084.2,156.0 1084.6,155.1 1084.9,154.1 1085.2,153.2 1085.5,152.3 1085.9,151.3 1086.2,150.4 1086.6,149.4 1086.9,148.5 1087.3,147.6 1087.7,146.6 1088.0,145.7 1088.4,144.8 1088.8,143.9 1089.2,143.0 1089.6,142.1 1090.1,141.2 1090.5,140.3 1091.0,139.4 1091.5,138.5 1092.0,137.6 1092.5,136.8 1093.0,135.9 1093.6,135.1 1094.1,134.3 1094.7,133.5 1095.3,132.7 1095.9,131.9 1096.5,131.1 1097.2,130.3 1097.8,129.5 1098.5,128.8 1099.2,128.0 1099.8,127.3 1100.5,126.6 1101.2,125.9 1101.9,125.1 1102.6,124.4 1103.3,123.8 1104.1,123.1 1104.8,122.4 1105.6,121.8 1106.4,121.2 1107.2,120.6 1108.0,120.0 1108.8,119.4 1109.7,118.9 1110.6,118.4 1111.5,118.0 1112.4,117.6 1113.3,117.2 1114.2,116.8 1115.2,116.5 1116.1,116.2 1117.1,116.0 1118.1,115.8 1119.1,115.7 1120.1,115.6 1121.1,115.5 1122.1,115.4 1123.1,115.4 1124.1,115.4 1125.1,115.4 1126.1,115.5 1127.1,115.6 1128.1,115.7 1129.1,115.8 1130.0,116.0 1131.0,116.1 1132.0,116.3 1133.0,116.5 1134.0,116.8 1134.9,117.0 1135.9,117.3 1136.9,117.5 1137.8,117.8 1138.8,118.1 1139.7,118.4 1140.7,118.7 1141.7,119.0 1142.6,119.3 1143.6,119.6 1144.5,119.9 1145.5,120.2 1146.4,120.5 1147.4,120.8 1148.3,121.1 1149.3,121.4 1150.2,121.8 1151.2,122.1 1152.1,122.4 1153.1,122.7 1154.0,123.0 1155.0,123.3 1155.9,123.6 1156.9,123.9 1157.8,124.2 1158.8,124.4 1159.8,124.7 1160.7,125.0 1161.7,125.3 1162.6,125.5 1163.6,125.8 1164.6,126.0 1165.5,126.3 1166.5,126.5 1167.5,126.8 1168.5,127.0 1169.4,127.3 1170.4,127.5 1171.4,127.7 1172.3,128.0 1173.3,128.2 1174.3,128.4 1175.3,128.6 1176.2,128.8 1177.2,129.0 1178.2,129.3 1179.2,129.5 1180.2,129.7 1181.1,129.9 1182.1,130.1 1183.1,130.2 1184.1,130.4 1185.1,130.6 1186.0,130.8 1187.0,131.0 1188.0,131.2 1189.0,131.3 1190.0,131.5 1191.0,131.7 1192.0,131.8 1192.9,132.0 1193.9,132.1 1194.9,132.3 1195.9,132.4 1196.9,132.5 1197.9,132.6 1198.9,132.7 1199.9,132.9 1200.9,133.0 1201.9,133.1 1202.9,133.1 1203.9,133.2 1204.9,133.3 1205.9,133.4 1206.9,133.5 1207.9,133.6 1208.9,133.6 1209.9,133.7 1210.9,133.8 1211.9,133.8 1212.8,133.9 1213.8,134.0 1214.8,134.1 1215.8,134.1 1216.8,134.2 1217.8,134.3 1218.8,134.3 1219.8,134.4 1220.8,134.5 1221.8,134.5 1222.8,134.6 1223.8,134.7 1224.8,134.8 1225.8,134.8 1226.8,134.9 1227.8,135.0 1228.8,135.1 1229.8,135.1 1230.8,135.2 1231.8,135.3 1232.8,135.4 1233.8,135.5 1234.8,135.5 1235.8,135.6 1236.8,135.7 1237.8,135.8 1238.8,135.8 1239.8,135.9 1240.8,136.0 1241.8,136.1 1242.8,136.2 1243.8,136.2 1244.8,136.3 1245.8,136.4 1246.8,136.5 1247.7,136.6 1248.7,136.6 1249.7,136.7 1250.7,136.8 1251.7,136.9 1252.7,136.9 1253.7,137.0 1254.7,137.1 1255.7,137.2 1256.7,137.3 1257.7,137.3 1258.7,137.4 1259.7,137.5 1260.7,137.6 1261.7,137.6 1262.7,137.7 1263.7,137.8 1264.7,137.9 1265.7,137.9 1266.7,138.0 1267.7,138.1 1268.7,138.2 1269.7,138.2 1270.7,138.3 1271.7,138.4 1272.7,138.4 1273.7,138.5 1274.7,138.6 1275.7,138.6 1276.7,138.7 1277.7,138.8 1278.7,138.8 1279.7,138.9 1280.7,139.0 1281.7,139.0 1282.7,139.1 1283.7,139.1 1284.7,139.2 1285.7,139.3 1286.6,139.3 1287.6,139.4 1288.6,139.4 1289.6,139.5 1290.6,139.5 1291.6,139.6 1292.6,139.6 1293.6,139.7 1294.6,139.7 1295.6,139.8 1296.6,139.8 1297.6,139.9 1298.6,139.9 1299.6,140.0 1300.6,140.0 1301.6,140.1 1302.6,140.1 1303.6,140.1 1304.6,140.2 1305.6,140.2 1306.6,140.3 1307.6,140.3 1308.6,140.4 1309.6,140.4 1310.6,140.4 1311.6,140.5 1312.6,140.5 1313.6,140.6 1314.6,140.6 1315.6,140.6 1316.6,140.7 1317.6,140.7 1318.6,140.7 1319.6,140.8 1320.6,140.8 1321.6,140.9 1322.6,140.9 1323.6,140.9 1324.6,141.0 1325.6,141.0 1326.6,141.0 1327.6,141.1 1328.6,141.1 1329.6,141.1 1330.6,141.2 1331.6,141.2 1332.6,141.3 1333.6,141.3 1334.6,141.3 1335.6,141.4 1336.6,141.4 1337.6,141.4 1338.6,141.4 1339.6,141.5 1340.6,141.5 1341.6,141.5 1342.6,141.6 1343.6,141.6 1344.6,141.6 1345.6,141.7 1346.6,141.7 1347.6,141.7 1348.6,141.7 1349.6,141.8 1350.6,141.8 1351.6,141.8 1352.6,141.8 1353.6,141.9 1354.6,141.9 1355.6,141.9 1356.6,141.9 1357.6,142.0 1358.6,142.0 1359.6,142.0 1360.6,142.0 1361.6,142.1 1362.6,142.1 1363.6,142.1 1364.6,142.1 1365.6,142.1 1366.6,142.1 1367.6,142.2 1368.6,142.2 1369.6,142.2 1370.6,142.2 1371.6,142.2 1372.6,142.2 1373.6,142.2 1374.6,142.3 1375.6,142.3 1376.6,142.3 1377.5,142.3" fill="none" stroke="#ef6548" stroke-width="6.4" stroke-linejoin="miter" stroke-linecap="square"/>
<polyline points="758.0,459.5 759.0,459.5 760.0,459.5 761.0,459.5 762.0,459.5 763.0,459.5 764.0,459.5 765.0,459.5 766.0,459.5 767.0,459.5 768.0,459.5 769.0,459.5 770.0,459.5 771.0,459.5 772.0,459.5 773.0,459.5 774.0,459.5 775.0,459.5 776.0,459.5 777.0,459.5 778.0,459.5 779.0,459.5 780.0,459.5 781.0,459.5 782.0,459.5 783.0,459.5 784.0,459.5 785.0,459.5 786.0,459.5 787.0,459.5 788.0,459.5 789.0,459.5 790.0,459.5 791.0,459.5 792.0,459.5 793.0,459.5 794.0,459.5 795.0,459.5 796.0,459.5 797.0,459.5 798.0,459.5 799.0,459.5 800.0,459.5 801.0,459.5 802.0,459.5 803.0,459.5 804.0,459.5 805.0,459.5 806.0,459.5 807.0,459.5 808.0,459.5 809.0,459.5 810.0,459.5 811.0,459.5 812.0,459.5 813.0,459.5 814.0,459.5 815.0,459.5 816.0,459.5 817.0,459.5 818.0,459.5 819.0,459.5 820.0,459.5 821.0,459.5 822.0,459.5 823.0,459.5 824.0,459.5 825.0,459.4 826.0,459.4 827.0,459.4 828.0,459.4 829.0,459.4 830.0,459.4 831.0,459.4 832.0,459.4 833.0,459.4 834.0,459.4 835.0,459.4 836.0,459.4 837.0,459.4 838.0,459.4 839.0,459.4 840.0,459.4 841.0,459.4 842.0,459.4 843.0,459.4 844.0,459.4 845.0,459.4 846.0,459.4 847.0,459.4 848.0,459.4 849.0,459.4 850.0,459.4 851.0,459.4 852.0,459.4 853.0,459.4 854.0,459.4 855.0,459.4 856.0,459.4 857.0,459.4 858.0,459.4 859.0,459.4 860.0,459.4 861.0,459.4 862.0,459.4 863.0,459.4 864.0,459.4 865.0,459.4 866.0,459.4 867.0,459.4 868.0,459.4 869.0,459.4 870.0,459.4 871.0,459.4 872.0,459.4 873.0,459.3 874.0,459.3 875.0,459.3 876.0,459.3 877.0,459.3 878.0,459.3 879.0,459.3 880.0,459.3 881.0,459.3 882.0,459.3 883.0,459.3 884.0,459.3 885.0,459.3 886.0,459.3 887.0,459.3 888.0,459.3 889.0,459.3 890.0,459.3 891.0,459.3 892.0,459.3 893.0,459.3 894.0,459.3 895.0,459.3 896.0,459.3 897.0,459.3 898.0,459.3 899.0,459.2 900.0,459.2 901.0,459.2 902.0,459.2 903.0,459.2 904.0,459.2 905.0,459.2 906.0,459.2 907.0,459.2 908.0,459.2 909.0,459.2 910.0,459.1 911.0,459.1 912.0,459.1 913.0,459.1 914.0,459.1 915.0,459.1 916.0,459.1 917.0,459.0 918.0,459.0 919.0,459.0 920.0,459.0 921.0,459.0 922.0,458.9 923.0,458.9 924.0,458.9 925.0,458.9 926.0,458.9 927.0,458.8 928.0,458.8 929.0,458.8 930.0,458.8 931.0,458.7 932.0,458.7 933.0,458.7 934.0,458.7 935.0,458.6 936.0,458.6 937.0,458.6 938.0,458.6 939.0,458.5 940.0,458.5 941.0,458.5 942.0,458.4 943.0,458.4 944.0,458.4 945.0,458.3 946.0,458.3 947.0,458.3 948.0,458.2 949.0,458.2 950.0,458.1 951.0,458.1 952.0,458.1 953.0,458.0 954.0,457.9 955.0,457.9 956.0,457.8 957.0,457.7 958.0,457.6 959.0,457.6 960.0,457.5 961.0,457.3 961.9,457.2 962.9,457.1 963.9,457.0 964.9,456.8 965.9,456.7 966.9,456.5 967.9,456.4 968.9,456.2 969.9,456.0 970.8,455.8 971.8,455.6 972.8,455.4 973.8,455.2 974.8,455.0 975.7,454.8 976.7,454.5 977.7,454.3 978.6,454.0 979.6,453.8 980.6,453.5 981.5,453.2 982.5,452.9 983.4,452.6 984.4,452.2 985.3,451.9 986.2,451.5 987.2,451.2 988.1,450.8 989.0,450.4 989.9,450.0 990.8,449.6 991.7,449.2 992.6,448.7 993.5,448.2 994.4,447.8 995.3,447.3 996.1,446.7 997.0,446.2 997.8,445.7 998.6,445.1 999.4,444.5 1000.2,443.9 1001.0,443.3 1001.8,442.7 1002.6,442.0 1003.3,441.4 1004.1,440.7 1004.8,440.0 1005.5,439.3 1006.2,438.6 1006.9,437.9 1007.6,437.2 1008.3,436.4 1008.9,435.7 1009.6,434.9 1010.3,434.2 1010.9,433.4 1011.5,432.6 1012.1,431.9 1012.7,431.1 1013.3,430.3 1013.9,429.5 1014.5,428.6 1015.1,427.8 1015.7,427.0 1016.2,426.2 1016.8,425.3 1017.3,424.5 1017.8,423.6 1018.4,422.8 1018.9,421.9 1019.4,421.1 1019.9,420.2 1020.4,419.3 1020.9,418.5 1021.4,417.6 1021.9,416.7 1022.4,415.9 1022.8,415.0 1023.3,414.1 1023.8,413.2 1024.2,412.3 1024.7,411.4 1025.1,410.5 1025.5,409.6 1026.0,408.7 1026.4,407.8 1026.8,406.9 1027.2,406.0 1027.6,405.1 1028.0,404.2 1028.4,403.2 1028.8,402.3 1029.2,401.4 1029.5,400.5 1029.9,399.5 1030.3,398.6 1030.6,397.7 1031.0,396.7 1031.3,395.8 1031.6,394.8 1032.0,393.9 1032.3,393.0 1032.6,392.0 1032.9,391.1 1033.3,390.1 1033.6,389.2 1033.9,388.2 1034.2,387.3 1034.5,386.3 1034.7,385.3 1035.0,384.4 1035.3,383.4 1035.6,382.5 1035.9,381.5 1036.2,380.5 1036.4,379.6 1036.7,378.6 1037.0,377.7 1037.3,376.7 1037.5,375.7 1037.8,374.8 1038.1,373.8 1038.3,372.8 1038.6,371.9 1038.9,370.9 1039.1,369.9 1039.4,369.0 1039.6,368.0 1039.8,367.0 1040.1,366.1 1040.3,365.1 1040.5,364.1 1040.8,363.1 1041.0,362.2 1041.2,361.2 1041.5,360.2 1041.7,359.3 1041.9,358.3 1042.1,357.3 1042.4,356.3 1042.6,355.4 1042.8,354.4 1043.0,353.4 1043.3,352.4 1043.5,351.5 1043.7,350.5 1043.9,349.5 1044.2,348.5 1044.4,347.6 1044.6,346.6 1044.9,345.6 1045.1,344.6 1045.3,343.7 1045.6,342.7 1045.8,341.7 1046.0,340.8 1046.2,339.8 1046.5,338.8 1046.7,337.8 1046.9,336.9 1047.2,335.9 1047.4,334.9 1047.6,333.9 1047.9,333.0 1048.1,332.0 1048.3,331.0 1048.6,330.0 1048.8,329.1 1049.0,328.1 1049.3,327.1 1049.5,326.2 1049.7,325.2 1049.9,324.2 1050.1,323.2 1050.4,322.3 1050.6,321.3 1050.8,320.3 1051.0,319.3 1051.2,318.3 1051.3,317.4 1051.5,316.4 1051.7,315.4 1051.9,314.4 1052.1,313.4 1052.2,312.4 1052.4,311.4 1052.6,310.5 1052.7,309.5 1052.9,308.5 1053.1,307.5 1053.2,306.5 1053.4,305.5 1053.5,304.5 1053.7,303.5 1053.8,302.6 1054.0,301.6 1054.1,300.6 1054.3,299.6 1054.4,298.6 1054.6,297.6 1054.7,296.6 1054.9,295.6 1055.0,294.7 1055.2,293.7 1055.3,292.7 1055.5,291.7 1055.6,290.7 1055.8,289.7 1055.9,288.7 1056.1,287.7 1056.2,286.7 1056.4,285.8 1056.5,284.8 1056.7,283.8 1056.8,282.8 1057.0,281.8 1057.1,280.8 1057.3,279.8 1057.4,278.8 1057.6,277.8 1057.7,276.9 1057.9,275.9 1058.0,274.9 1058.2,273.9 1058.4,272.9 1058.5,271.9 1058.7,270.9 1058.9,269.9 1059.0,269.0 1059.2,268.0 1059.3,267.0 1059.5,266.0 1059.7,265.0 1059.8,264.0 1060.0,263.0 1060.2,262.1 1060.3,261.1 1060.5,260.1 1060.7,259.1 1060.8,258.1 1061.0,257.1 1061.2,256.1 1061.3,255.2 1061.5,254.2 1061.7,253.2 1061.9,252.2 1062.0,251.2 1062.2,250.2 1062.4,249.2 1062.5,248.3 1062.7,247.3 1062.9,246.3 1063.1,245.3 1063.2,244.3 1063.4,243.3 1063.6,242.3 1063.8,241.4 1063.9,240.4 1064.1,239.4 1064.3,238.4 1064.5,237.4 1064.6,236.4 1064.8,235.5 1065.0,234.5 1065.2,233.5 1065.4,232.5 1065.5,231.5 1065.7,230.5 1065.9,229.6 1066.1,228.6 1066.3,227.6 1066.4,226.6 1066.6,225.6 1066.8,224.6 1067.0,223.7 1067.2,222.7 1067.4,221.7 1067.5,220.7 1067.7,219.7 1067.9,218.7 1068.1,217.8 1068.3,216.8 1068.5,215.8 1068.7,214.8 1068.9,213.8 1069.0,212.9 1069.2,211.9 1069.4,210.9 1069.6,209.9 1069.8,208.9 1070.0,207.9 1070.2,207.0 1070.4,206.0 1070.6,205.0 1070.8,204.0 1071.0,203.0 1071.2,202.1 1071.4,201.1 1071.6,200.1 1071.8,199.1 1072.0,198.2 1072.3,197.2 1072.5,196.2 1072.7,195.2 1072.9,194.2 1073.1,193.3 1073.3,192.3 1073.5,191.3 1073.8,190.3 1074.0,189.4 1074.2,188.4 1074.4,187.4 1074.7,186.4 1074.9,185.5 1075.2,184.5 1075.4,183.5 1075.6,182.6 1075.9,181.6 1076.1,180.6 1076.4,179.7 1076.6,178.7 1076.9,177.7 1077.1,176.8 1077.4,175.8 1077.7,174.8 1077.9,173.9 1078.2,172.9 1078.5,171.9 1078.8,171.0 1079.1,170.0 1079.4,169.1 1079.7,168.1 1080.1,167.2 1080.4,166.2 1080.7,165.3 1081.1,164.4 1081.4,163.4 1081.8,162.5 1082.2,161.6 1082.6,160.7 1083.0,159.7 1083.4,158.8 1083.8,157.9 1084.2,157.0 1084.7,156.1 1085.1,155.2 1085.6,154.4 1086.1,153.5 1086.6,152.6 1087.1,151.7 1087.6,150.9 1088.1,150.0 1088.7,149.2 1089.2,148.4 1089.8,147.5 1090.4,146.7 1091.0,145.9 1091.6,145.1 1092.2,144.4 1092.9,143.6 1093.5,142.8 1094.2,142.1 1094.9,141.4 1095.6,140.7 1096.3,140.0 1097.0,139.3 1097.8,138.6 1098.5,138.0 1099.3,137.3 1100.1,136.7 1100.9,136.1 1101.7,135.6 1102.6,135.0 1103.4,134.5 1104.3,134.0 1105.2,133.6 1106.1,133.2 1107.0,132.8 1108.0,132.4 1108.9,132.1 1109.9,131.8 1110.8,131.5 1111.8,131.3 1112.8,131.1 1113.8,130.9 1114.8,130.7 1115.7,130.6 1116.7,130.5 1117.7,130.4 1118.7,130.3 1119.7,130.2 1120.7,130.2 1121.7,130.1 1122.7,130.1 1123.7,130.1 1124.7,130.1 1125.7,130.1 1126.7,130.1 1127.7,130.1 1128.7,130.2 1129.7,130.2 1130.7,130.3 1131.7,130.4 1132.7,130.5 1133.7,130.6 1134.7,130.7 1135.7,130.9 1136.7,131.0 1137.7,131.1 1138.7,131.3 1139.6,131.4 1140.6,131.6 1141.6,131.7 1142.6,131.9 1143.6,132.0 1144.6,132.2 1145.6,132.3 1146.6,132.5 1147.5,132.6 1148.5,132.8 1149.5,132.9 1150.5,133.1 1151.5,133.2 1152.5,133.4 1153.5,133.5 1154.5,133.7 1155.5,133.9 1156.4,134.0 1157.4,134.2 1158.4,134.3 1159.4,134.5 1160.4,134.6 1161.4,134.7 1162.4,134.9 1163.4,135.0 1164.4,135.2 1165.4,135.3 1166.3,135.4 1167.3,135.5 1168.3,135.7 1169.3,135.8 1170.3,135.9 1171.3,136.0 1172.3,136.1 1173.3,136.2 1174.3,136.4 1175.3,136.5 1176.3,136.6 1177.3,136.7 1178.3,136.8 1179.3,136.9 1180.3,137.0 1181.3,137.0 1182.3,137.1 1183.2,137.2 1184.2,137.3 1185.2,137.4 1186.2,137.4 1187.2,137.5 1188.2,137.6 1189.2,137.6 1190.2,137.7 1191.2,137.7 1192.2,137.8 1193.2,137.8 1194.2,137.9 1195.2,137.9 1196.2,138.0 1197.2,138.0 1198.2,138.1 1199.2,138.1 1200.2,138.1 1201.2,138.2 1202.2,138.2 1203.2,138.2 1204.2,138.3 1205.2,138.3 1206.2,138.3 1207.2,138.4 1208.2,138.4 1209.2,138.4 1210.2,138.5 1211.2,138.5 1212.2,138.5 1213.2,138.6 1214.2,138.6 1215.2,138.6 1216.2,138.7 1217.2,138.7 1218.2,138.7 1219.2,138.8 1220.2,138.8 1221.2,138.8 1222.2,138.9 1223.2,138.9 1224.2,139.0 1225.2,139.0 1226.2,139.0 1227.2,139.1 1228.2,139.1 1229.2,139.1 1230.2,139.2 1231.2,139.2 1232.2,139.3 1233.2,139.3 1234.2,139.3 1235.2,139.4 1236.2,139.4 1237.2,139.4 1238.2,139.5 1239.2,139.5 1240.2,139.6 1241.2,139.6 1242.2,139.6 1243.2,139.7 1244.2,139.7 1245.2,139.8 1246.2,139.8 1247.2,139.8 1248.2,139.9 1249.2,139.9 1250.2,139.9 1251.2,140.0 1252.2,140.0 1253.2,140.1 1254.2,140.1 1255.2,140.1 1256.2,140.2 1257.2,140.2 1258.2,140.3 1259.2,140.3 1260.2,140.3 1261.2,140.4 1262.2,140.4 1263.2,140.4 1264.2,140.5 1265.2,140.5 1266.2,140.5 1267.2,140.6 1268.2,140.6 1269.2,140.6 1270.2,140.7 1271.2,140.7 1272.2,140.7 1273.2,140.8 1274.2,140.8 1275.2,140.8 1276.2,140.9 1277.2,140.9 1278.2,140.9 1279.2,141.0 1280.2,141.0 1281.2,141.0 1282.2,141.1 1283.2,141.1 1284.2,141.1 1285.2,141.1 1286.2,141.2 1287.2,141.2 1288.2,141.2 1289.2,141.3 1290.2,141.3 1291.2,141.3 1292.2,141.3 1293.2,141.3 1294.2,141.4 1295.2,141.4 1296.2,141.4 1297.2,141.4 1298.2,141.5 1299.2,141.5 1300.2,141.5 1301.2,141.5 1302.2,141.5 1303.2,141.6 1304.2,141.6 1305.2,141.6 1306.2,141.6 1307.2,141.6 1308.2,141.6 1309.2,141.7 1310.2,141.7 1311.2,141.7 1312.2,141.7 1313.2,141.7 1314.2,141.8 1315.2,141.8 1316.2,141.8 1317.2,141.8 1318.2,141.8 1319.2,141.8 1320.2,141.9 1321.2,141.9 1322.2,141.9 1323.2,141.9 1324.2,141.9 1325.2,141.9 1326.2,142.0 1327.2,142.0 1328.2,142.0 1329.2,142.0 1330.2,142.0 1331.2,142.0 1332.2,142.1 1333.2,142.1 1334.2,142.1 1335.2,142.1 1336.2,142.1 1337.2,142.1 1338.2,142.1 1339.2,142.2 1340.2,142.2 1341.2,142.2 1342.2,142.2 1343.2,142.2 1344.2,142.2 1345.2,142.2 1346.2,142.2 1347.2,142.3 1348.2,142.3 1349.2,142.3 1350.2,142.3 1351.2,142.3 1352.2,142.3 1353.2,142.3 1354.2,142.3 1355.2,142.4 1356.2,142.4 1357.2,142.4 1358.2,142.4 1359.2,142.4 1360.2,142.4 1361.2,142.4 1362.2,142.4 1363.2,142.4 1364.2,142.4 1365.2,142.4 1366.2,142.4 1367.2,142.4 1368.2,142.5 1369.2,142.5 1370.2,142.5 1371.2,142.5 1372.2,142.5 1373.2,142.5 1374.2,142.5 1375.2,142.5 1376.2,142.5 1377.2,142.5 1377.5,142.5" fill="none" stroke="#fc8d59" stroke-width="6.4" stroke-linejoin="miter" stroke-linecap="square"/>
<polyline points="758.0,459.4 759.0,459.4 760.0,459.4 761.0,459.4 762.0,459.4 763.0,459.4 764.0,459.4 765.0,459.4 766.0,459.4 767.0,459.4 768.0,459.4 769.0,459.4 770.0,459.4 771.0,459.4 772.0,459.4 773.0,459.4 774.0,459.4 775.0,459.4 776.0,459.4 777.0,459.4 778.0,459.4 779.0,459.4 780.0,459.4 781.0,459.4 782.0,459.4 783.0,459.4 784.0,459.4 785.0,459.4 786.0,459.4 787.0,459.4 788.0,459.4 789.0,459.4 790.0,459.4 791.0,459.4 792.0,459.4 793.0,459.4 794.0,459.4 795.0,459.4 796.0,459.4 797.0,459.4 798.0,459.4 799.0,459.4 800.0,459.4 801.0,459.4 802.0,459.4 803.0,459.4 804.0,459.4 805.0,459.4 806.0,459.4 807.0,459.4 808.0,459.4 809.0,459.4 810.0,459.4 811.0,459.4 812.0,459.4 813.0,459.4 814.0,459.4 815.0,459.4 816.0,459.4 817.0,459.4 818.0,459.4 819.0,459.4 820.0,459.4 821.0,459.4 822.0,459.4 823.0,459.4 824.0,459.4 825.0,459.4 826.0,459.4 827.0,459.4 828.0,459.4 829.0,459.4 830.0,459.4 831.0,459.4 832.0,459.4 833.0,459.4 834.0,459.4 835.0,459.4 836.0,459.4 837.0,459.4 838.0,459.4 839.0,459.4 840.0,459.4 841.0,459.4 842.0,459.4 843.0,459.4 844.0,459.4 845.0,459.4 846.0,459.4 847.0,459.4 848.0,459.4 849.0,459.4 850.0,459.4 851.0,459.4 852.0,459.4 853.0,459.4 854.0,459.4 855.0,459.3 856.0,459.3 857.0,459.3 858.0,459.3 859.0,459.3 860.0,459.3 861.0,459.3 862.0,459.3 863.0,459.3 864.0,459.3 865.0,459.3 866.0,459.3 867.0,459.3 868.0,459.3 869.0,459.3 870.0,459.3 871.0,459.3 872.0,459.3 873.0,459.3 874.0,459.3 875.0,459.3 876.0,459.3 877.0,459.3 878.0,459.3 879.0,459.3 880.0,459.3 881.0,459.3 882.0,459.3 883.0,459.3 884.0,459.3 885.0,459.3 886.0,459.3 887.0,459.3 888.0,459.3 889.0,459.3 890.0,459.3 891.0,459.3 892.0,459.3 893.0,459.3 894.0,459.3 895.0,459.3 896.0,459.3 897.0,459.3 898.0,459.3 899.0,459.3 900.0,459.3 901.0,459.3 902.0,459.3 903.0,459.3 904.0,459.3 905.0,459.3 906.0,459.3 907.0,459.3 908.0,459.3 909.0,459.3 910.0,459.3 911.0,459.3 912.0,459.3 913.0,459.3 914.0,459.3 915.0,459.3 916.0,459.3 917.0,459.3 918.0,459.3 919.0,459.3 920.0,459.3 921.0,459.3 922.0,459.3 923.0,459.3 924.0,459.3 925.0,459.3 926.0,459.2 927.0,459.2 928.0,459.2 929.0,459.2 930.0,459.2 931.0,459.2 932.0,459.2 933.0,459.2 934.0,459.2 935.0,459.2 936.0,459.2 937.0,459.2 938.0,459.2 939.0,459.2 940.0,459.2 941.0,459.2 942.0,459.2 943.0,459.2 944.0,459.2 945.0,459.2 946.0,459.2 947.0,459.2 948.0,459.1 949.0,459.1 950.0,459.1 951.0,459.1 952.0,459.1 953.0,459.1 954.0,459.1 955.0,459.1 956.0,459.1 957.0,459.1 958.0,459.0 959.0,459.0 960.0,459.0 961.0,459.0 962.0,459.0 963.0,459.0 964.0,459.0 965.0,458.9 966.0,458.9 967.0,458.9 968.0,458.9 969.0,458.8 970.0,458.8 971.0,458.8 972.0,458.7 973.0,458.7 974.0,458.6 975.0,458.5 976.0,458.5 977.0,458.4 978.0,458.3 979.0,458.2 980.0,458.1 981.0,458.0 982.0,457.8 982.9,457.7 983.9,457.5 984.9,457.4 985.9,457.2 986.9,457.0 987.9,456.8 988.8,456.6 989.8,456.4 990.8,456.1 991.7,455.8 992.7,455.5 993.6,455.2 994.6,454.9 995.5,454.5 996.4,454.1 997.3,453.7 998.2,453.2 999.1,452.8 1000.0,452.3 1000.8,451.7 1001.7,451.2 1002.5,450.6 1003.3,450.0 1004.1,449.4 1004.8,448.8 1005.6,448.1 1006.3,447.4 1007.1,446.8 1007.8,446.1 1008.5,445.4 1009.3,444.7 1010.0,444.0 1010.7,443.3 1011.4,442.6 1012.0,441.8 1012.7,441.1 1013.4,440.3 1014.0,439.6 1014.6,438.8 1015.3,438.0 1015.9,437.2 1016.5,436.4 1017.1,435.6 1017.7,434.8 1018.3,434.0 1018.8,433.2 1019.4,432.4 1019.9,431.5 1020.5,430.7 1021.0,429.8 1021.5,429.0 1022.1,428.1 1022.6,427.3 1023.1,426.4 1023.6,425.5 1024.0,424.7 1024.5,423.8 1025.0,422.9 1025.5,422.0 1025.9,421.1 1026.4,420.2 1026.8,419.3 1027.2,418.4 1027.7,417.5 1028.1,416.6 1028.5,415.7 1028.9,414.8 1029.3,413.9 1029.7,413.0 1030.1,412.0 1030.5,411.1 1030.8,410.2 1031.2,409.3 1031.6,408.3 1031.9,407.4 1032.3,406.4 1032.6,405.5 1032.9,404.6 1033.2,403.6 1033.6,402.7 1033.9,401.7 1034.2,400.8 1034.5,399.8 1034.8,398.9 1035.1,397.9 1035.4,396.9 1035.7,396.0 1035.9,395.0 1036.2,394.1 1036.5,393.1 1036.7,392.1 1037.0,391.2 1037.2,390.2 1037.5,389.2 1037.7,388.3 1038.0,387.3 1038.2,386.3 1038.5,385.3 1038.7,384.4 1038.9,383.4 1039.1,382.4 1039.4,381.5 1039.6,380.5 1039.8,379.5 1040.0,378.5 1040.2,377.5 1040.5,376.6 1040.7,375.6 1040.9,374.6 1041.1,373.6 1041.3,372.7 1041.5,371.7 1041.7,370.7 1041.9,369.7 1042.1,368.7 1042.3,367.8 1042.5,366.8 1042.7,365.8 1042.9,364.8 1043.0,363.8 1043.2,362.8 1043.4,361.9 1043.6,360.9 1043.8,359.9 1043.9,358.9 1044.1,357.9 1044.3,356.9 1044.5,356.0 1044.6,355.0 1044.8,354.0 1045.0,353.0 1045.2,352.0 1045.3,351.0 1045.5,350.0 1045.7,349.1 1045.8,348.1 1046.0,347.1 1046.2,346.1 1046.3,345.1 1046.5,344.1 1046.6,343.1 1046.8,342.2 1047.0,341.2 1047.1,340.2 1047.3,339.2 1047.5,338.2 1047.6,337.2 1047.8,336.2 1047.9,335.3 1048.1,334.3 1048.3,333.3 1048.4,332.3 1048.6,331.3 1048.8,330.3 1048.9,329.3 1049.1,328.3 1049.2,327.4 1049.4,326.4 1049.6,325.4 1049.7,324.4 1049.9,323.4 1050.1,322.4 1050.2,321.4 1050.4,320.5 1050.6,319.5 1050.7,318.5 1050.9,317.5 1051.1,316.5 1051.2,315.5 1051.4,314.5 1051.6,313.6 1051.7,312.6 1051.9,311.6 1052.1,310.6 1052.2,309.6 1052.4,308.6 1052.6,307.6 1052.7,306.6 1052.9,305.7 1053.1,304.7 1053.2,303.7 1053.4,302.7 1053.6,301.7 1053.7,300.7 1053.9,299.7 1054.1,298.8 1054.2,297.8 1054.4,296.8 1054.6,295.8 1054.7,294.8 1054.9,293.8 1055.1,292.8 1055.2,291.9 1055.4,290.9 1055.6,289.9 1055.7,288.9 1055.9,287.9 1056.1,286.9 1056.2,285.9 1056.4,285.0 1056.5,284.0 1056.7,283.0 1056.9,282.0 1057.0,281.0 1057.2,280.0 1057.4,279.0 1057.5,278.0 1057.7,277.1 1057.8,276.1 1058.0,275.1 1058.1,274.1 1058.3,273.1 1058.5,272.1 1058.6,271.1 1058.8,270.1 1058.9,269.2 1059.1,268.2 1059.2,267.2 1059.4,266.2 1059.5,265.2 1059.7,264.2 1059.8,263.2 1060.0,262.2 1060.1,261.2 1060.3,260.3 1060.4,259.3 1060.5,258.3 1060.7,257.3 1060.8,256.3 1061.0,255.3 1061.1,254.3 1061.3,253.3 1061.4,252.3 1061.6,251.4 1061.7,250.4 1061.9,249.4 1062.0,248.4 1062.2,247.4 1062.3,246.4 1062.5,245.4 1062.6,244.4 1062.8,243.4 1062.9,242.5 1063.1,241.5 1063.3,240.5 1063.4,239.5 1063.6,238.5 1063.8,237.5 1063.9,236.5 1064.1,235.6 1064.3,234.6 1064.5,233.6 1064.6,232.6 1064.8,231.6 1065.0,230.6 1065.2,229.6 1065.3,228.7 1065.5,227.7 1065.7,226.7 1065.9,225.7 1066.1,224.7 1066.3,223.8 1066.5,222.8 1066.7,221.8 1066.9,220.8 1067.1,219.8 1067.2,218.8 1067.4,217.9 1067.6,216.9 1067.8,215.9 1068.0,214.9 1068.2,213.9 1068.5,213.0 1068.7,212.0 1068.9,211.0 1069.1,210.0 1069.3,209.1 1069.5,208.1 1069.7,207.1 1069.9,206.1 1070.2,205.2 1070.4,204.2 1070.6,203.2 1070.8,202.2 1071.1,201.3 1071.3,200.3 1071.6,199.3 1071.8,198.4 1072.1,197.4 1072.4,196.4 1072.6,195.5 1072.9,194.5 1073.2,193.5 1073.5,192.6 1073.8,191.6 1074.1,190.7 1074.4,189.7 1074.7,188.8 1075.0,187.8 1075.3,186.9 1075.6,185.9 1076.0,185.0 1076.3,184.0 1076.7,183.1 1077.0,182.2 1077.4,181.2 1077.8,180.3 1078.1,179.4 1078.5,178.5 1078.9,177.6 1079.3,176.6 1079.8,175.7 1080.2,174.8 1080.6,173.9 1081.1,173.0 1081.5,172.1 1082.0,171.3 1082.5,170.4 1082.9,169.5 1083.4,168.6 1083.9,167.8 1084.4,166.9 1085.0,166.1 1085.5,165.2 1086.0,164.4 1086.6,163.5 1087.2,162.7 1087.8,161.9 1088.4,161.1 1089.0,160.3 1089.6,159.5 1090.3,158.8 1090.9,158.0 1091.6,157.3 1092.3,156.6 1093.0,155.9 1093.7,155.2 1094.5,154.5 1095.2,153.9 1096.0,153.2 1096.8,152.6 1097.6,152.0 1098.4,151.4 1099.2,150.9 1100.1,150.4 1100.9,149.9 1101.8,149.4 1102.7,148.9 1103.6,148.5 1104.5,148.1 1105.5,147.7 1106.4,147.4 1107.3,147.0 1108.3,146.7 1109.2,146.4 1110.2,146.1 1111.2,145.8 1112.1,145.6 1113.1,145.3 1114.1,145.1 1115.0,144.9 1116.0,144.7 1117.0,144.5 1118.0,144.3 1119.0,144.1 1120.0,144.0 1120.9,143.9 1121.9,143.7 1122.9,143.6 1123.9,143.5 1124.9,143.5 1125.9,143.4 1126.9,143.3 1127.9,143.3 1128.9,143.2 1129.9,143.2 1130.9,143.1 1131.9,143.1 1132.9,143.1 1133.9,143.1 1134.9,143.0 1135.9,143.0 1136.9,143.0 1137.9,143.0 1138.9,143.0 1139.9,143.0 1140.9,143.0 1141.9,143.0 1142.9,143.0 1143.9,143.0 1144.9,143.0 1145.9,143.0 1146.9,143.0 1147.9,143.0 1148.9,143.0 1149.9,143.0 1150.9,143.0 1151.9,143.0 1152.9,143.0 1153.9,143.0 1154.9,143.0 1155.9,143.0 1156.9,143.0 1157.9,143.0 1158.9,143.0 1159.9,143.0 1160.9,143.0 1161.9,143.0 1162.9,143.0 1163.9,143.0 1164.9,143.0 1165.9,143.0 1166.9,143.0 1167.9,143.0 1168.9,143.0 1169.9,143.0 1170.9,143.0 1171.9,143.0 1172.9,143.0 1173.9,143.0 1174.9,143.0 1175.9,143.0 1176.9,143.0 1177.9,143.0 1178.9,143.0 1179.9,143.0 1180.9,143.0 1181.9,143.0 1182.9,143.0 1183.9,143.0 1184.9,143.0 1185.9,143.0 1186.9,143.0 1187.9,143.0 1188.9,142.9 1189.9,142.9 1190.9,142.9 1191.9,142.9 1192.9,142.9 1193.9,142.9 1194.9,142.9 1195.9,142.9 1196.9,142.9 1197.9,142.9 1198.9,142.9 1199.9,142.9 1200.9,142.9 1201.9,142.9 1202.9,142.9 1203.9,142.9 1204.9,142.9 1205.9,142.9 1206.9,142.9 1207.9,142.9 1208.9,142.9 1209.9,142.9 1210.9,142.9 1211.9,142.9 1212.9,142.9 1213.9,142.9 1214.9,142.9 1215.9,142.9 1216.9,142.9 1217.9,142.9 1218.9,142.9 1219.9,142.9 1220.9,142.9 1221.9,142.9 1222.9,142.9 1223.9,142.9 1224.9,142.9 1225.9,142.9 1226.9,142.9 1227.9,142.9 1228.9,142.9 1229.9,142.9 1230.9,142.9 1231.9,142.9 1232.9,142.9 1233.9,142.9 1234.9,142.9 1235.9,142.9 1236.9,142.9 1237.9,142.9 1238.9,142.9 1239.9,142.9 1240.9,142.9 1241.9,142.9 1242.9,142.9 1243.9,142.9 1244.9,142.9 1245.9,142.9 1246.9,142.9 1247.9,142.9 1248.9,142.9 1249.9,142.9 1250.9,142.9 1251.9,142.9 1252.9,142.9 1253.9,142.9 1254.9,142.9 1255.9,142.9 1256.9,142.9 1257.9,142.9 1258.9,142.9 1259.9,142.9 1260.9,142.9 1261.9,142.9 1262.9,142.9 1263.9,142.9 1264.9,142.9 1265.9,142.9 1266.9,142.9 1267.9,142.9 1268.9,142.9 1269.9,142.9 1270.9,142.9 1271.9,142.9 1272.9,142.9 1273.9,142.9 1274.9,142.9 1275.9,142.9 1276.9,142.9 1277.9,142.9 1278.9,142.9 1279.9,142.9 1280.9,142.9 1281.9,142.9 1282.9,142.9 1283.9,142.9 1284.9,142.9 1285.9,142.9 1286.9,142.9 1287.9,142.9 1288.9,142.9 1289.9,142.9 1290.9,142.9 1291.9,142.9 1292.9,142.9 1293.9,142.9 1294.9,142.9 1295.9,142.9 1296.9,142.9 1297.9,142.9 1298.9,142.9 1299.9,142.9 1300.9,142.9 1301.9,142.9 1302.9,142.9 1303.9,142.9 1304.9,142.9 1305.9,142.9 1306.9,142.9 1307.9,142.9 1308.9,142.9 1309.9,142.9 1310.9,142.9 1311.9,142.9 1312.9,142.9 1313.9,142.9 1314.9,142.9 1315.9,142.9 1316.9,142.9 1317.9,142.9 1318.9,142.9 1319.9,142.9 1320.9,142.9 1321.9,142.9 1322.9,142.9 1323.9,142.9 1324.9,142.9 1325.9,142.9 1326.9,142.9 1327.9,142.9 1328.9,142.9 1329.9,142.9 1330.9,142.9 1331.9,142.9 1332.9,142.9 1333.9,142.9 1334.9,142.9 1335.9,142.9 1336.9,142.9 1337.9,142.9 1338.9,142.9 1339.9,142.9 1340.9,142.9 1341.9,142.9 1342.9,142.9 1343.9,142.9 1344.9,142.9 1345.9,142.9 1346.9,142.9 1347.9,142.9 1348.9,142.9 1349.9,142.9 1350.9,142.9 1351.9,142.9 1352.9,142.9 1353.9,142.9 1354.9,142.9 1355.9,142.9 1356.9,142.9 1357.9,142.9 1358.9,142.9 1359.9,142.9 1360.9,142.9 1361.9,142.9 1362.9,142.9 1363.9,142.9 1364.9,142.9 1365.9,142.9 1366.9,142.9 1367.9,142.9 1368.9,142.9 1369.9,142.9 1370.9,142.9 1371.9,142.9 1372.9,142.9 1373.9,142.9 1374.9,142.9 1375.9,142.9 1376.9,142.9 1377.5,142.9" fill="none" stroke="#fdbb84" stroke-width="6.4" stroke-linejoin="miter" stroke-linecap="square"/>
</g>
<rect x="758" y="48.6" width="619.2" height="410.79999999999995" fill="none" stroke="#000" stroke-width="1.3"/>
<text x="769.7" y="430.6" text-anchor="start" font-size="36.5" >(b)</text>
<text x="1388.0" y="155.7" text-anchor="start" font-size="36.5" >1</text>
<text x="1388.0" y="313.7" text-anchor="start" font-size="36.5" >0.5</text>
<text x="1388.0" y="471.7" text-anchor="start" font-size="36.5" >0</text>
<text transform="translate(1492.6,253.8) rotate(-90)" text-anchor="middle" font-size="36.5">R(l<tspan font-size="28.2" dy="8.3">max</tspan><tspan dy="-8.3" dx="-1.5">-2)</tspan></text>
<rect x="533.8" y="811.8" width="105.8" height="57.5" fill="#cdece5" stroke="#111" stroke-width="1.4"/>
<text x="539.6" y="852.9" font-size="36.5">l = 0</text>
<path d="M124.95 881.8v-9M124.95 470.8v9M140.78 881.8v-9M140.78 470.8v9M154.94 881.8v-17M154.94 470.8v17M248.11 881.8v-9M248.11 470.8v9M302.61 881.8v-9M302.61 470.8v9M341.28 881.8v-9M341.28 470.8v9M371.27 881.8v-9M371.27 470.8v9M395.78 881.8v-9M395.78 470.8v9M416.50 881.8v-9M416.50 470.8v9M434.45 881.8v-9M434.45 470.8v9M450.28 881.8v-9M450.28 470.8v9M464.44 881.8v-17M464.44 470.8v17M557.61 881.8v-9M557.61 470.8v9M612.11 881.8v-9M612.11 470.8v9M650.78 881.8v-9M650.78 470.8v9M680.77 881.8v-9M680.77 470.8v9M705.28 881.8v-9M705.28 470.8v9" stroke="#000" stroke-width="1.25" fill="none"/>
<path d="M107 608.0H726" stroke="#a8a8a8" stroke-width="3"/>
<text x="153.3" y="515.9" text-anchor="end" font-size="36.5" >N</text>
<text x="153.3" y="550.0" text-anchor="end" font-size="36.5" >2</text>
<path d="M173 537.9H243.2" stroke="#fdbb84" stroke-width="6.4"/>
<text x="153.3" y="583.5" text-anchor="end" font-size="36.5" >4</text>
<path d="M173 571.4H243.2" stroke="#fc8d59" stroke-width="6.4"/>
<text x="153.3" y="617.4" text-anchor="end" font-size="36.5" >6</text>
<path d="M173 605.3H243.2" stroke="#e34a33" stroke-width="6.4"/>
<text x="153.3" y="651.2" text-anchor="end" font-size="36.5" >8</text>
<path d="M173 639.1H243.2" stroke="#b30000" stroke-width="6.4"/>
<g clip-path="url(#clipc)">
<polyline points="107.0,878.4 108.0,878.4 109.0,878.4 110.0,878.4 111.0,878.4 112.0,878.3 113.0,878.3 114.0,878.3 115.0,878.3 116.0,878.3 117.0,878.3 118.0,878.3 119.0,878.2 120.0,878.2 121.0,878.2 122.0,878.2 123.0,878.2 124.0,878.1 125.0,878.1 126.0,878.1 127.0,878.1 128.0,878.0 129.0,878.0 130.0,878.0 131.0,878.0 132.0,877.9 133.0,877.9 134.0,877.9 135.0,877.8 136.0,877.8 137.0,877.8 138.0,877.7 139.0,877.7 140.0,877.7 141.0,877.6 142.0,877.6 143.0,877.6 144.0,877.5 145.0,877.5 146.0,877.4 147.0,877.4 148.0,877.3 149.0,877.3 150.0,877.3 151.0,877.2 152.0,877.2 153.0,877.1 154.0,877.1 155.0,877.0 156.0,877.0 157.0,876.9 158.0,876.9 159.0,876.8 160.0,876.8 161.0,876.7 162.0,876.7 163.0,876.6 164.0,876.6 165.0,876.5 166.0,876.5 167.0,876.4 168.0,876.4 169.0,876.3 170.0,876.3 171.0,876.2 172.0,876.2 173.0,876.1 174.0,876.0 174.9,876.0 175.9,875.9 176.9,875.9 177.9,875.8 178.9,875.8 179.9,875.7 180.9,875.6 181.9,875.6 182.9,875.5 183.9,875.5 184.9,875.4 185.9,875.4 186.9,875.3 187.9,875.2 188.9,875.2 189.9,875.1 190.9,875.0 191.9,875.0 192.9,874.9 193.9,874.9 194.9,874.8 195.9,874.7 196.9,874.6 197.9,874.6 198.9,874.5 199.9,874.4 200.9,874.4 201.9,874.3 202.9,874.2 203.9,874.1 204.9,874.0 205.9,874.0 206.9,873.9 207.9,873.8 208.9,873.7 209.9,873.6 210.9,873.5 211.9,873.4 212.9,873.3 213.9,873.2 214.8,873.1 215.8,873.1 216.8,873.0 217.8,872.9 218.8,872.7 219.8,872.6 220.8,872.5 221.8,872.4 222.8,872.3 223.8,872.2 224.8,872.1 225.8,872.0 226.8,871.9 227.8,871.8 228.8,871.7 229.8,871.6 230.8,871.4 231.7,871.3 232.7,871.2 233.7,871.1 234.7,871.0 235.7,870.9 236.7,870.8 237.7,870.6 238.7,870.5 239.7,870.4 240.7,870.3 241.7,870.2 242.7,870.0 243.7,869.9 244.7,869.8 245.6,869.7 246.6,869.5 247.6,869.4 248.6,869.3 249.6,869.2 250.6,869.0 251.6,868.9 252.6,868.8 253.6,868.6 254.6,868.5 255.6,868.4 256.6,868.2 257.5,868.1 258.5,868.0 259.5,867.8 260.5,867.7 261.5,867.5 262.5,867.4 263.5,867.2 264.5,867.1 265.5,866.9 266.5,866.8 267.4,866.6 268.4,866.5 269.4,866.3 270.4,866.2 271.4,866.0 272.4,865.8 273.4,865.7 274.3,865.5 275.3,865.3 276.3,865.1 277.3,864.9 278.3,864.8 279.3,864.6 280.2,864.4 281.2,864.2 282.2,864.0 283.2,863.8 284.2,863.6 285.1,863.4 286.1,863.2 287.1,862.9 288.1,862.7 289.0,862.5 290.0,862.3 291.0,862.0 292.0,861.8 292.9,861.6 293.9,861.3 294.9,861.1 295.8,860.8 296.8,860.6 297.8,860.3 298.7,860.0 299.7,859.8 300.7,859.5 301.6,859.2 302.6,859.0 303.5,858.7 304.5,858.4 305.5,858.1 306.4,857.8 307.4,857.5 308.3,857.2 309.3,856.9 310.2,856.6 311.2,856.3 312.1,856.0 313.1,855.7 314.0,855.3 315.0,855.0 315.9,854.7 316.8,854.3 317.8,854.0 318.7,853.6 319.6,853.2 320.6,852.9 321.5,852.5 322.4,852.1 323.3,851.7 324.2,851.3 325.2,850.9 326.1,850.5 327.0,850.0 327.9,849.6 328.8,849.2 329.7,848.7 330.6,848.3 331.5,847.8 332.3,847.4 333.2,846.9 334.1,846.5 335.0,846.0 335.9,845.5 336.8,845.1 337.7,844.6 338.6,844.1 339.5,843.7 340.3,843.2 341.2,842.8 342.1,842.3 343.0,841.9 343.9,841.4 344.8,840.9 345.7,840.5 346.6,840.0 347.5,839.6 348.4,839.1 349.2,838.7 350.1,838.2 351.0,837.8 351.9,837.3 352.8,836.9 353.7,836.4 354.6,835.9 355.5,835.5 356.3,835.0 357.2,834.5 358.1,834.1 359.0,833.6 359.9,833.1 360.7,832.6 361.6,832.1 362.5,831.6 363.3,831.1 364.2,830.6 365.0,830.1 365.9,829.5 366.7,829.0 367.6,828.5 368.4,827.9 369.3,827.4 370.1,826.8 370.9,826.3 371.8,825.7 372.6,825.2 373.4,824.6 374.2,824.0 375.0,823.4 375.9,822.9 376.7,822.3 377.5,821.7 378.3,821.1 379.1,820.5 379.9,819.9 380.7,819.3 381.5,818.7 382.3,818.1 383.1,817.5 383.9,816.9 384.7,816.3 385.5,815.7 386.3,815.1 387.1,814.5 387.9,813.9 388.7,813.3 389.5,812.7 390.3,812.1 391.1,811.5 391.8,810.8 392.6,810.2 393.4,809.6 394.2,809.0 395.0,808.4 395.8,807.7 396.5,807.1 397.3,806.5 398.1,805.8 398.8,805.2 399.6,804.5 400.4,803.9 401.1,803.2 401.9,802.6 402.6,801.9 403.4,801.2 404.1,800.6 404.8,799.9 405.6,799.2 406.3,798.5 407.0,797.8 407.8,797.2 408.5,796.5 409.2,795.8 409.9,795.1 410.6,794.4 411.3,793.7 412.0,793.0 412.7,792.2 413.4,791.5 414.1,790.8 414.8,790.1 415.5,789.4 416.2,788.6 416.9,787.9 417.6,787.2 418.2,786.4 418.9,785.7 419.6,784.9 420.2,784.2 420.9,783.4 421.6,782.7 422.2,781.9 422.9,781.2 423.5,780.4 424.2,779.7 424.8,778.9 425.5,778.1 426.1,777.4 426.7,776.6 427.4,775.8 428.0,775.0 428.6,774.3 429.3,773.5 429.9,772.7 430.5,771.9 431.1,771.2 431.8,770.4 432.4,769.6 433.0,768.8 433.6,768.0 434.2,767.2 434.8,766.4 435.4,765.6 436.0,764.8 436.6,764.0 437.2,763.2 437.8,762.4 438.4,761.6 439.0,760.8 439.6,760.0 440.2,759.2 440.7,758.3 441.3,757.5 441.9,756.7 442.5,755.9 443.0,755.1 443.6,754.2 444.1,753.4 444.7,752.6 445.2,751.7 445.8,750.9 446.3,750.1 446.9,749.2 447.4,748.4 448.0,747.5 448.5,746.7 449.0,745.9 449.6,745.0 450.1,744.2 450.6,743.3 451.1,742.5 451.7,741.6 452.2,740.7 452.7,739.9 453.2,739.0 453.7,738.1 454.2,737.3 454.7,736.4 455.2,735.5 455.6,734.7 456.1,733.8 456.6,732.9 457.1,732.0 457.6,731.2 458.0,730.3 458.5,729.4 459.0,728.5 459.4,727.6 459.9,726.7 460.4,725.8 460.8,725.0 461.3,724.1 461.8,723.2 462.2,722.3 462.7,721.4 463.2,720.5 463.6,719.7 464.1,718.8 464.6,717.9 465.1,717.0 465.6,716.2 466.0,715.3 466.5,714.4 467.0,713.5 467.5,712.7 468.0,711.8 468.5,710.9 469.1,710.1 469.6,709.2 470.1,708.4 470.6,707.5 471.1,706.7 471.6,705.8 472.2,704.9 472.7,704.1 473.2,703.2 473.7,702.4 474.2,701.5 474.7,700.7 475.3,699.8 475.8,699.0 476.3,698.1 476.8,697.2 477.3,696.4 477.8,695.5 478.3,694.7 478.8,693.8 479.3,692.9 479.8,692.1 480.3,691.2 480.8,690.3 481.3,689.4 481.8,688.6 482.2,687.7 482.7,686.8 483.2,685.9 483.7,685.0 484.1,684.2 484.6,683.3 485.1,682.4 485.5,681.5 486.0,680.6 486.5,679.7 486.9,678.9 487.4,678.0 487.9,677.1 488.3,676.2 488.8,675.3 489.2,674.4 489.7,673.5 490.2,672.6 490.6,671.7 491.1,670.9 491.5,670.0 492.0,669.1 492.5,668.2 492.9,667.3 493.4,666.4 493.8,665.5 494.3,664.7 494.8,663.8 495.2,662.9 495.7,662.0 496.2,661.1 496.6,660.2 497.1,659.4 497.6,658.5 498.1,657.6 498.5,656.7 499.0,655.8 499.5,654.9 500.0,654.1 500.4,653.2 500.9,652.3 501.4,651.4 501.8,650.5 502.3,649.7 502.8,648.8 503.3,647.9 503.8,647.0 504.2,646.1 504.7,645.3 505.2,644.4 505.7,643.5 506.2,642.6 506.6,641.8 507.1,640.9 507.6,640.0 508.1,639.1 508.6,638.3 509.1,637.4 509.6,636.5 510.1,635.7 510.6,634.8 511.1,633.9 511.6,633.1 512.1,632.2 512.6,631.3 513.1,630.5 513.6,629.6 514.1,628.8 514.6,627.9 515.1,627.0 515.7,626.2 516.2,625.3 516.7,624.5 517.2,623.6 517.7,622.8 518.3,621.9 518.8,621.1 519.3,620.2 519.9,619.4 520.4,618.5 520.9,617.7 521.5,616.9 522.0,616.0 522.6,615.2 523.2,614.4 523.7,613.6 524.3,612.7 524.9,611.9 525.5,611.1 526.1,610.3 526.7,609.5 527.3,608.7 527.9,608.0 528.6,607.2 529.2,606.4 529.9,605.7 530.5,604.9 531.2,604.2 531.9,603.4 532.6,602.7 533.3,602.0 534.0,601.3 534.7,600.6 535.4,599.9 536.2,599.3 536.9,598.6 537.7,597.9 538.5,597.3 539.2,596.7 540.0,596.1 540.8,595.5 541.6,594.9 542.5,594.3 543.3,593.7 544.1,593.2 545.0,592.7 545.8,592.1 546.7,591.6 547.6,591.1 548.4,590.7 549.3,590.2 550.2,589.7 551.1,589.3 552.0,588.9 552.9,588.5 553.9,588.1 554.8,587.7 555.7,587.4 556.7,587.0 557.6,586.7 558.6,586.4 559.5,586.1 560.5,585.9 561.5,585.6 562.4,585.4 563.4,585.2 564.4,585.0 565.4,584.8 566.4,584.7 567.4,584.5 568.4,584.4 569.3,584.3 570.3,584.3 571.3,584.2 572.3,584.2 573.3,584.1 574.3,584.1 575.3,584.2 576.3,584.2 577.3,584.2 578.3,584.3 579.3,584.3 580.3,584.4 581.3,584.5 582.3,584.6 583.3,584.7 584.3,584.8 585.3,584.9 586.3,585.1 587.3,585.2 588.3,585.4 589.3,585.5 590.3,585.7 591.2,585.8 592.2,586.0 593.2,586.1 594.2,586.3 595.2,586.5 596.2,586.6 597.2,586.8 598.1,587.0 599.1,587.2 600.1,587.3 601.1,587.5 602.1,587.7 603.1,587.9 604.0,588.1 605.0,588.3 606.0,588.5 607.0,588.6 608.0,588.8 609.0,589.0 609.9,589.2 610.9,589.4 611.9,589.6 612.9,589.8 613.9,590.0 614.8,590.2 615.8,590.4 616.8,590.6 617.8,590.8 618.8,591.0 619.7,591.1 620.7,591.3 621.7,591.5 622.7,591.7 623.7,591.9 624.7,592.1 625.6,592.3 626.6,592.4 627.6,592.6 628.6,592.8 629.6,593.0 630.6,593.1 631.5,593.3 632.5,593.5 633.5,593.6 634.5,593.8 635.5,594.0 636.5,594.1 637.5,594.3 638.5,594.4 639.4,594.6 640.4,594.8 641.4,594.9 642.4,595.1 643.4,595.2 644.4,595.3 645.4,595.5 646.4,595.6 647.4,595.8 648.3,595.9 649.3,596.0 650.3,596.2 651.3,596.3 652.3,596.4 653.3,596.5 654.3,596.7 655.3,596.8 656.3,596.9 657.3,597.0 658.3,597.1 659.3,597.3 660.3,597.4 661.3,597.5 662.2,597.6 663.2,597.7 664.2,597.8 665.2,597.9 666.2,598.0 667.2,598.1 668.2,598.2 669.2,598.3 670.2,598.4 671.2,598.5 672.2,598.6 673.2,598.7 674.2,598.8 675.2,598.9 676.2,599.0 677.2,599.1 678.2,599.2 679.2,599.2 680.2,599.3 681.2,599.4 682.2,599.5 683.1,599.6 684.1,599.7 685.1,599.7 686.1,599.8 687.1,599.9 688.1,600.0 689.1,600.1 690.1,600.1 691.1,600.2 692.1,600.3 693.1,600.4 694.1,600.4 695.1,600.5 696.1,600.6 697.1,600.7 698.1,600.7 699.1,600.8 700.1,600.9 701.1,600.9 702.1,601.0 703.1,601.1 704.1,601.2 705.1,601.2 706.1,601.3 707.1,601.4 708.1,601.5 709.1,601.5 710.1,601.6 711.1,601.7 712.1,601.8 713.1,601.8 714.1,601.9 715.1,602.0 716.1,602.1 717.1,602.1 718.1,602.2 719.0,602.3 720.0,602.4 721.0,602.4 722.0,602.5 723.0,602.6 724.0,602.7 725.0,602.7 726.0,602.8" fill="none" stroke="#fdbb84" stroke-width="6.4" stroke-linejoin="miter" stroke-linecap="square"/>
<polyline points="107.0,881.6 108.0,881.6 109.0,881.6 110.0,881.6 111.0,881.6 112.0,881.6 113.0,881.6 114.0,881.6 115.0,881.6 116.0,881.6 117.0,881.6 118.0,881.6 119.0,881.6 120.0,881.6 121.0,881.6 122.0,881.6 123.0,881.6 124.0,881.6 125.0,881.6 126.0,881.6 127.0,881.6 128.0,881.6 129.0,881.6 130.0,881.6 131.0,881.6 132.0,881.6 133.0,881.6 134.0,881.6 135.0,881.6 136.0,881.6 137.0,881.6 138.0,881.6 139.0,881.6 140.0,881.6 141.0,881.6 142.0,881.6 143.0,881.6 144.0,881.6 145.0,881.6 146.0,881.6 147.0,881.6 148.0,881.6 149.0,881.6 150.0,881.6 151.0,881.6 152.0,881.6 153.0,881.5 154.0,881.5 155.0,881.5 156.0,881.5 157.0,881.5 158.0,881.5 159.0,881.5 160.0,881.5 161.0,881.5 162.0,881.5 163.0,881.5 164.0,881.5 165.0,881.5 166.0,881.5 167.0,881.5 168.0,881.5 169.0,881.5 170.0,881.5 171.0,881.5 172.0,881.5 173.0,881.5 174.0,881.5 175.0,881.5 176.0,881.5 177.0,881.5 178.0,881.5 179.0,881.5 180.0,881.5 181.0,881.5 182.0,881.5 183.0,881.4 184.0,881.4 185.0,881.4 186.0,881.4 187.0,881.4 188.0,881.4 189.0,881.4 190.0,881.4 191.0,881.4 192.0,881.4 193.0,881.4 194.0,881.4 195.0,881.4 196.0,881.4 197.0,881.4 198.0,881.4 199.0,881.4 200.0,881.4 201.0,881.4 202.0,881.3 203.0,881.3 204.0,881.3 205.0,881.3 206.0,881.3 207.0,881.3 208.0,881.3 209.0,881.3 210.0,881.3 211.0,881.3 212.0,881.3 213.0,881.3 214.0,881.3 215.0,881.3 216.0,881.3 217.0,881.2 218.0,881.2 219.0,881.2 220.0,881.2 221.0,881.2 222.0,881.2 223.0,881.2 224.0,881.2 225.0,881.2 226.0,881.2 227.0,881.2 228.0,881.2 229.0,881.2 230.0,881.1 231.0,881.1 232.0,881.1 233.0,881.1 234.0,881.1 235.0,881.1 236.0,881.1 237.0,881.1 238.0,881.1 239.0,881.1 240.0,881.1 241.0,881.0 242.0,881.0 243.0,881.0 244.0,881.0 245.0,881.0 246.0,881.0 247.0,881.0 248.0,881.0 249.0,881.0 250.0,880.9 251.0,880.9 252.0,880.9 253.0,880.9 254.0,880.9 255.0,880.9 256.0,880.9 257.0,880.9 258.0,880.8 259.0,880.8 260.0,880.8 261.0,880.8 262.0,880.8 263.0,880.7 264.0,880.7 265.0,880.6 266.0,880.6 267.0,880.5 268.0,880.4 269.0,880.4 270.0,880.3 271.0,880.2 272.0,880.1 273.0,880.0 274.0,879.8 274.9,879.7 275.9,879.5 276.9,879.4 277.9,879.2 278.9,879.1 279.9,878.9 280.9,878.7 281.8,878.5 282.8,878.3 283.8,878.2 284.8,878.0 285.8,877.7 286.7,877.5 287.7,877.3 288.7,877.1 289.7,876.9 290.7,876.7 291.6,876.5 292.6,876.2 293.6,876.0 294.6,875.8 295.5,875.5 296.5,875.3 297.5,875.1 298.4,874.8 299.4,874.6 300.4,874.3 301.3,874.1 302.3,873.8 303.3,873.6 304.2,873.3 305.2,873.0 306.2,872.7 307.1,872.4 308.1,872.1 309.0,871.8 310.0,871.5 310.9,871.2 311.9,870.9 312.8,870.5 313.7,870.2 314.7,869.8 315.6,869.5 316.5,869.1 317.5,868.8 318.4,868.4 319.3,868.0 320.3,867.6 321.2,867.2 322.1,866.9 323.0,866.5 323.9,866.0 324.8,865.6 325.7,865.2 326.7,864.8 327.6,864.4 328.5,863.9 329.3,863.5 330.2,863.0 331.1,862.5 332.0,862.1 332.9,861.6 333.8,861.1 334.6,860.6 335.5,860.2 336.4,859.7 337.3,859.2 338.1,858.7 339.0,858.2 339.9,857.7 340.7,857.2 341.6,856.7 342.5,856.2 343.3,855.7 344.2,855.2 345.1,854.7 345.9,854.2 346.8,853.6 347.6,853.1 348.5,852.6 349.3,852.0 350.1,851.5 350.9,850.9 351.7,850.3 352.5,849.7 353.3,849.1 354.1,848.4 354.8,847.7 355.5,847.0 356.2,846.3 356.9,845.6 357.5,844.8 358.1,844.0 358.7,843.2 359.3,842.4 359.9,841.6 360.4,840.7 360.9,839.9 361.5,839.0 362.0,838.2 362.5,837.3 362.9,836.4 363.4,835.5 363.9,834.7 364.4,833.8 364.9,832.9 365.4,832.0 365.9,831.2 366.3,830.3 366.8,829.4 367.3,828.5 367.8,827.7 368.3,826.8 368.8,825.9 369.3,825.1 369.8,824.2 370.3,823.3 370.8,822.5 371.3,821.6 371.8,820.7 372.2,819.8 372.7,819.0 373.2,818.1 373.7,817.2 374.2,816.4 374.7,815.5 375.2,814.6 375.7,813.7 376.2,812.9 376.7,812.0 377.2,811.1 377.7,810.3 378.1,809.4 378.6,808.5 379.1,807.7 379.6,806.8 380.1,805.9 380.6,805.1 381.1,804.2 381.6,803.3 382.1,802.5 382.6,801.6 383.1,800.7 383.6,799.9 384.1,799.0 384.6,798.1 385.1,797.2 385.6,796.4 386.0,795.5 386.5,794.6 386.9,793.7 387.4,792.8 387.8,791.9 388.3,791.0 388.7,790.1 389.2,789.2 389.6,788.3 390.0,787.4 390.4,786.5 390.8,785.6 391.3,784.7 391.7,783.8 392.1,782.8 392.5,781.9 392.9,781.0 393.3,780.1 393.6,779.2 394.0,778.2 394.4,777.3 394.8,776.4 395.2,775.5 395.6,774.6 396.0,773.6 396.3,772.7 396.7,771.8 397.1,770.8 397.4,769.9 397.8,769.0 398.2,768.1 398.6,767.1 398.9,766.2 399.3,765.3 399.7,764.3 400.0,763.4 400.4,762.5 400.7,761.5 401.1,760.6 401.5,759.7 401.8,758.7 402.2,757.8 402.5,756.9 402.9,755.9 403.2,755.0 403.6,754.1 403.9,753.1 404.3,752.2 404.6,751.2 404.9,750.3 405.3,749.4 405.6,748.4 406.0,747.5 406.3,746.5 406.6,745.6 406.9,744.6 407.3,743.7 407.6,742.8 407.9,741.8 408.2,740.9 408.6,739.9 408.9,739.0 409.2,738.0 409.5,737.1 409.8,736.1 410.2,735.2 410.5,734.2 410.8,733.3 411.1,732.3 411.5,731.4 411.8,730.4 412.1,729.5 412.4,728.6 412.8,727.6 413.1,726.7 413.4,725.7 413.8,724.8 414.1,723.8 414.4,722.9 414.8,722.0 415.1,721.0 415.5,720.1 415.8,719.2 416.2,718.2 416.5,717.3 416.9,716.3 417.3,715.4 417.6,714.5 418.0,713.6 418.4,712.6 418.7,711.7 419.1,710.8 419.5,709.8 419.9,708.9 420.2,708.0 420.6,707.1 421.0,706.1 421.4,705.2 421.8,704.3 422.2,703.4 422.5,702.5 422.9,701.5 423.3,700.6 423.7,699.7 424.1,698.8 424.5,697.8 424.9,696.9 425.3,696.0 425.6,695.1 426.0,694.2 426.4,693.2 426.8,692.3 427.2,691.4 427.6,690.5 428.0,689.5 428.3,688.6 428.7,687.7 429.1,686.8 429.5,685.8 429.9,684.9 430.2,684.0 430.6,683.1 431.0,682.1 431.3,681.2 431.7,680.3 432.1,679.3 432.4,678.4 432.8,677.5 433.2,676.6 433.5,675.6 433.9,674.7 434.3,673.8 434.6,672.8 435.0,671.9 435.3,671.0 435.7,670.0 436.1,669.1 436.4,668.2 436.8,667.2 437.1,666.3 437.5,665.4 437.9,664.4 438.2,663.5 438.6,662.6 438.9,661.6 439.3,660.7 439.7,659.8 440.0,658.8 440.4,657.9 440.8,657.0 441.1,656.0 441.5,655.1 441.9,654.2 442.2,653.2 442.6,652.3 443.0,651.4 443.3,650.5 443.7,649.5 444.1,648.6 444.5,647.7 444.8,646.8 445.2,645.8 445.6,644.9 446.0,644.0 446.4,643.1 446.7,642.1 447.1,641.2 447.5,640.3 447.9,639.4 448.3,638.4 448.7,637.5 449.1,636.6 449.4,635.7 449.8,634.8 450.2,633.8 450.6,632.9 451.0,632.0 451.4,631.1 451.8,630.2 452.2,629.2 452.6,628.3 453.0,627.4 453.4,626.5 453.8,625.6 454.2,624.7 454.6,623.7 455.0,622.8 455.4,621.9 455.8,621.0 456.2,620.1 456.7,619.2 457.1,618.3 457.5,617.4 457.9,616.5 458.4,615.6 458.8,614.7 459.2,613.8 459.7,612.9 460.1,612.0 460.6,611.1 461.0,610.2 461.4,609.3 461.9,608.4 462.3,607.5 462.8,606.6 463.3,605.7 463.7,604.8 464.2,603.9 464.6,603.0 465.1,602.2 465.6,601.3 466.0,600.4 466.5,599.5 467.0,598.6 467.5,597.8 467.9,596.9 468.4,596.0 468.9,595.1 469.4,594.3 469.9,593.4 470.5,592.6 471.0,591.7 471.5,590.9 472.1,590.0 472.6,589.2 473.2,588.4 473.7,587.5 474.3,586.7 474.9,585.9 475.5,585.1 476.1,584.3 476.7,583.5 477.4,582.8 478.0,582.0 478.7,581.2 479.3,580.5 480.0,579.7 480.7,579.0 481.4,578.3 482.1,577.6 482.8,576.9 483.6,576.2 484.3,575.6 485.1,575.0 485.9,574.4 486.7,573.8 487.6,573.3 488.4,572.8 489.3,572.3 490.2,571.8 491.1,571.4 492.0,571.0 493.0,570.6 493.9,570.3 494.8,570.0 495.8,569.7 496.8,569.4 497.7,569.2 498.7,569.0 499.7,568.8 500.7,568.7 501.7,568.6 502.7,568.6 503.7,568.6 504.7,568.6 505.7,568.7 506.7,568.8 507.7,568.9 508.7,569.1 509.7,569.3 510.6,569.5 511.6,569.7 512.6,569.9 513.5,570.2 514.5,570.5 515.5,570.7 516.4,571.0 517.4,571.3 518.3,571.6 519.3,571.9 520.2,572.3 521.2,572.6 522.1,572.9 523.1,573.2 524.0,573.6 524.9,573.9 525.9,574.3 526.8,574.7 527.7,575.0 528.7,575.4 529.6,575.8 530.5,576.2 531.4,576.6 532.3,577.0 533.2,577.4 534.2,577.8 535.1,578.2 536.0,578.6 536.9,578.9 537.9,579.3 538.8,579.6 539.7,580.0 540.7,580.3 541.6,580.6 542.6,580.9 543.5,581.3 544.5,581.5 545.5,581.8 546.4,582.1 547.4,582.4 548.3,582.7 549.3,583.0 550.2,583.3 551.2,583.7 552.1,584.0 553.1,584.3 554.0,584.7 554.9,585.0 555.9,585.4 556.8,585.8 557.7,586.1 558.7,586.5 559.6,586.9 560.5,587.2 561.5,587.6 562.4,587.9 563.3,588.2 564.3,588.6 565.2,588.9 566.2,589.2 567.1,589.4 568.1,589.7 569.1,590.0 570.0,590.2 571.0,590.5 572.0,590.7 573.0,590.9 573.9,591.2 574.9,591.4 575.9,591.6 576.9,591.8 577.8,592.0 578.8,592.2 579.8,592.4 580.8,592.6 581.8,592.7 582.8,592.9 583.7,593.1 584.7,593.2 585.7,593.4 586.7,593.6 587.7,593.7 588.7,593.9 589.7,594.0 590.7,594.1 591.7,594.3 592.6,594.4 593.6,594.5 594.6,594.7 595.6,594.8 596.6,594.9 597.6,595.0 598.6,595.1 599.6,595.3 600.6,595.4 601.6,595.5 602.6,595.6 603.6,595.7 604.6,595.8 605.6,595.9 606.6,596.0 607.6,596.1 608.5,596.2 609.5,596.3 610.5,596.4 611.5,596.5 612.5,596.6 613.5,596.6 614.5,596.7 615.5,596.8 616.5,596.9 617.5,597.0 618.5,597.1 619.5,597.2 620.5,597.3 621.5,597.4 622.5,597.4 623.5,597.5 624.5,597.6 625.5,597.7 626.5,597.8 627.5,597.9 628.5,598.0 629.5,598.1 630.5,598.2 631.5,598.3 632.4,598.4 633.4,598.5 634.4,598.6 635.4,598.6 636.4,598.7 637.4,598.8 638.4,598.9 639.4,599.0 640.4,599.1 641.4,599.2 642.4,599.3 643.4,599.4 644.4,599.5 645.4,599.6 646.4,599.7 647.4,599.8 648.4,599.9 649.4,600.0 650.4,600.1 651.4,600.2 652.4,600.3 653.4,600.4 654.3,600.5 655.3,600.6 656.3,600.7 657.3,600.7 658.3,600.8 659.3,600.9 660.3,601.0 661.3,601.1 662.3,601.2 663.3,601.3 664.3,601.4 665.3,601.4 666.3,601.5 667.3,601.6 668.3,601.7 669.3,601.8 670.3,601.8 671.3,601.9 672.3,602.0 673.3,602.0 674.3,602.1 675.3,602.2 676.3,602.2 677.3,602.3 678.3,602.4 679.3,602.4 680.3,602.5 681.3,602.6 682.3,602.6 683.3,602.7 684.3,602.7 685.3,602.8 686.3,602.8 687.3,602.9 688.3,603.0 689.3,603.0 690.3,603.1 691.2,603.1 692.2,603.2 693.2,603.2 694.2,603.3 695.2,603.3 696.2,603.4 697.2,603.4 698.2,603.5 699.2,603.5 700.2,603.6 701.2,603.6 702.2,603.7 703.2,603.7 704.2,603.7 705.2,603.8 706.2,603.8 707.2,603.9 708.2,603.9 709.2,604.0 710.2,604.0 711.2,604.0 712.2,604.1 713.2,604.1 714.2,604.1 715.2,604.2 716.2,604.2 717.2,604.2 718.2,604.3 719.2,604.3 720.2,604.3 721.2,604.4 722.2,604.4 723.2,604.4 724.2,604.5 725.2,604.5 726.0,604.5" fill="none" stroke="#fc8d59" stroke-width="6.4" stroke-linejoin="miter" stroke-linecap="square"/>
<polyline points="107.0,881.6 108.0,881.6 109.0,881.6 110.0,881.6 111.0,881.6 112.0,881.6 113.0,881.6 114.0,881.6 115.0,881.6 116.0,881.6 117.0,881.6 118.0,881.6 119.0,881.6 120.0,881.6 121.0,881.6 122.0,881.6 123.0,881.6 124.0,881.6 125.0,881.6 126.0,881.6 127.0,881.6 128.0,881.6 129.0,881.6 130.0,881.6 131.0,881.6 132.0,881.6 133.0,881.6 134.0,881.6 135.0,881.6 136.0,881.6 137.0,881.6 138.0,881.6 139.0,881.6 140.0,881.6 141.0,881.6 142.0,881.6 143.0,881.6 144.0,881.6 145.0,881.6 146.0,881.6 147.0,881.6 148.0,881.6 149.0,881.6 150.0,881.6 151.0,881.6 152.0,881.6 153.0,881.6 154.0,881.6 155.0,881.6 156.0,881.6 157.0,881.6 158.0,881.6 159.0,881.6 160.0,881.6 161.0,881.6 162.0,881.6 163.0,881.6 164.0,881.6 165.0,881.6 166.0,881.6 167.0,881.6 168.0,881.6 169.0,881.6 170.0,881.6 171.0,881.6 172.0,881.6 173.0,881.6 174.0,881.6 175.0,881.6 176.0,881.6 177.0,881.6 178.0,881.6 179.0,881.6 180.0,881.6 181.0,881.6 182.0,881.6 183.0,881.6 184.0,881.5 185.0,881.5 186.0,881.5 187.0,881.5 188.0,881.5 189.0,881.5 190.0,881.5 191.0,881.5 192.0,881.5 193.0,881.5 194.0,881.5 195.0,881.5 196.0,881.5 197.0,881.5 198.0,881.5 199.0,881.5 200.0,881.5 201.0,881.5 202.0,881.5 203.0,881.5 204.0,881.5 205.0,881.5 206.0,881.5 207.0,881.5 208.0,881.5 209.0,881.5 210.0,881.5 211.0,881.5 212.0,881.5 213.0,881.5 214.0,881.5 215.0,881.5 216.0,881.5 217.0,881.5 218.0,881.5 219.0,881.5 220.0,881.5 221.0,881.5 222.0,881.5 223.0,881.5 224.0,881.5 225.0,881.5 226.0,881.5 227.0,881.5 228.0,881.5 229.0,881.5 230.0,881.5 231.0,881.5 232.0,881.5 233.0,881.5 234.0,881.4 235.0,881.4 236.0,881.4 237.0,881.4 238.0,881.4 239.0,881.4 240.0,881.4 241.0,881.4 242.0,881.4 243.0,881.4 244.0,881.4 245.0,881.4 246.0,881.4 247.0,881.4 248.0,881.4 249.0,881.4 250.0,881.4 251.0,881.4 252.0,881.4 253.0,881.4 254.0,881.3 255.0,881.3 256.0,881.3 257.0,881.3 258.0,881.3 259.0,881.2 260.0,881.2 261.0,881.2 262.0,881.1 263.0,881.1 264.0,881.1 265.0,881.0 266.0,881.0 267.0,881.0 268.0,880.9 269.0,880.9 270.0,880.8 271.0,880.8 272.0,880.7 273.0,880.7 274.0,880.6 275.0,880.5 276.0,880.5 277.0,880.4 278.0,880.3 279.0,880.3 280.0,880.2 281.0,880.1 282.0,880.1 283.0,880.0 284.0,879.9 285.0,879.8 286.0,879.8 287.0,879.7 287.9,879.6 288.9,879.5 289.9,879.4 290.9,879.3 291.9,879.2 292.9,879.2 293.9,879.1 294.9,879.0 295.9,878.9 296.9,878.8 297.9,878.7 298.9,878.5 299.9,878.4 300.9,878.3 301.9,878.2 302.9,878.0 303.9,877.9 304.8,877.7 305.8,877.5 306.8,877.4 307.8,877.2 308.8,877.0 309.7,876.7 310.7,876.5 311.7,876.3 312.7,876.0 313.6,875.8 314.6,875.5 315.6,875.2 316.5,874.9 317.5,874.6 318.4,874.3 319.3,874.0 320.3,873.6 321.2,873.3 322.1,872.9 323.1,872.5 324.0,872.1 324.9,871.6 325.7,871.2 326.6,870.7 327.5,870.2 328.3,869.7 329.2,869.1 330.0,868.6 330.9,868.0 331.7,867.4 332.5,866.8 333.2,866.2 334.0,865.6 334.8,864.9 335.5,864.3 336.2,863.6 337.0,862.9 337.7,862.2 338.4,861.4 339.0,860.7 339.7,860.0 340.4,859.2 341.0,858.5 341.7,857.7 342.3,856.9 343.0,856.2 343.6,855.4 344.2,854.6 344.9,853.8 345.5,853.1 346.1,852.3 346.7,851.5 347.3,850.7 347.9,849.9 348.5,849.1 349.0,848.2 349.6,847.4 350.2,846.6 350.7,845.7 351.3,844.9 351.8,844.0 352.3,843.2 352.8,842.3 353.3,841.5 353.8,840.6 354.3,839.7 354.7,838.8 355.2,837.9 355.6,837.0 356.1,836.1 356.5,835.2 356.9,834.3 357.4,833.4 357.8,832.5 358.2,831.6 358.6,830.7 359.0,829.8 359.4,828.9 359.8,827.9 360.2,827.0 360.6,826.1 361.0,825.2 361.4,824.3 361.7,823.3 362.1,822.4 362.5,821.5 362.9,820.6 363.3,819.6 363.6,818.7 364.0,817.8 364.4,816.8 364.7,815.9 365.1,815.0 365.4,814.0 365.8,813.1 366.1,812.2 366.5,811.2 366.8,810.3 367.2,809.4 367.5,808.4 367.8,807.5 368.2,806.5 368.5,805.6 368.8,804.6 369.1,803.7 369.4,802.7 369.7,801.8 370.1,800.8 370.4,799.9 370.7,798.9 370.9,798.0 371.2,797.0 371.5,796.1 371.8,795.1 372.1,794.1 372.4,793.2 372.6,792.2 372.9,791.2 373.2,790.3 373.4,789.3 373.7,788.4 374.0,787.4 374.2,786.4 374.5,785.5 374.8,784.5 375.0,783.5 375.3,782.6 375.6,781.6 375.8,780.6 376.1,779.7 376.4,778.7 376.6,777.8 376.9,776.8 377.2,775.8 377.4,774.9 377.7,773.9 378.0,772.9 378.2,772.0 378.5,771.0 378.8,770.0 379.0,769.1 379.3,768.1 379.6,767.2 379.8,766.2 380.1,765.2 380.4,764.3 380.7,763.3 380.9,762.3 381.2,761.4 381.5,760.4 381.7,759.5 382.0,758.5 382.3,757.5 382.6,756.6 382.8,755.6 383.1,754.7 383.4,753.7 383.7,752.7 384.0,751.8 384.3,750.8 384.6,749.9 384.8,748.9 385.1,747.9 385.4,747.0 385.7,746.0 386.0,745.1 386.3,744.1 386.6,743.2 386.9,742.2 387.2,741.3 387.5,740.3 387.8,739.3 388.1,738.4 388.4,737.4 388.7,736.5 388.9,735.5 389.2,734.6 389.5,733.6 389.8,732.6 390.1,731.7 390.3,730.7 390.6,729.8 390.9,728.8 391.2,727.8 391.4,726.9 391.7,725.9 391.9,724.9 392.2,724.0 392.4,723.0 392.7,722.0 392.9,721.1 393.2,720.1 393.4,719.1 393.7,718.2 393.9,717.2 394.2,716.2 394.4,715.2 394.6,714.3 394.9,713.3 395.1,712.3 395.4,711.4 395.6,710.4 395.8,709.4 396.1,708.4 396.3,707.5 396.5,706.5 396.8,705.5 397.0,704.6 397.3,703.6 397.5,702.6 397.7,701.6 398.0,700.7 398.2,699.7 398.5,698.7 398.7,697.8 399.0,696.8 399.2,695.8 399.5,694.9 399.7,693.9 400.0,692.9 400.2,692.0 400.5,691.0 400.8,690.0 401.0,689.1 401.3,688.1 401.5,687.1 401.8,686.2 402.1,685.2 402.3,684.2 402.6,683.3 402.8,682.3 403.1,681.3 403.3,680.4 403.6,679.4 403.8,678.4 404.1,677.5 404.3,676.5 404.6,675.5 404.8,674.6 405.1,673.6 405.3,672.6 405.6,671.6 405.8,670.7 406.0,669.7 406.3,668.7 406.5,667.8 406.7,666.8 407.0,665.8 407.2,664.8 407.4,663.9 407.7,662.9 407.9,661.9 408.1,660.9 408.3,660.0 408.6,659.0 408.8,658.0 409.0,657.1 409.2,656.1 409.5,655.1 409.7,654.1 409.9,653.2 410.1,652.2 410.4,651.2 410.6,650.2 410.8,649.3 411.1,648.3 411.3,647.3 411.5,646.3 411.7,645.4 412.0,644.4 412.2,643.4 412.4,642.4 412.7,641.5 412.9,640.5 413.1,639.5 413.4,638.6 413.6,637.6 413.8,636.6 414.1,635.6 414.3,634.7 414.6,633.7 414.8,632.7 415.0,631.8 415.3,630.8 415.5,629.8 415.8,628.9 416.0,627.9 416.3,626.9 416.5,625.9 416.8,625.0 417.0,624.0 417.3,623.0 417.5,622.1 417.7,621.1 418.0,620.1 418.2,619.2 418.5,618.2 418.7,617.2 419.0,616.3 419.2,615.3 419.5,614.3 419.8,613.4 420.0,612.4 420.3,611.4 420.5,610.5 420.8,609.5 421.1,608.5 421.4,607.6 421.7,606.6 421.9,605.7 422.2,604.7 422.5,603.7 422.8,602.8 423.2,601.8 423.5,600.9 423.8,600.0 424.1,599.0 424.5,598.1 424.8,597.1 425.2,596.2 425.6,595.3 425.9,594.4 426.3,593.4 426.7,592.5 427.1,591.6 427.5,590.7 427.9,589.8 428.3,588.9 428.8,587.9 429.2,587.0 429.6,586.2 430.1,585.3 430.6,584.4 431.0,583.5 431.5,582.6 432.0,581.7 432.5,580.9 433.0,580.0 433.6,579.2 434.1,578.3 434.7,577.5 435.2,576.7 435.8,575.9 436.4,575.1 437.0,574.3 437.6,573.5 438.3,572.7 438.9,571.9 439.6,571.2 440.2,570.4 440.9,569.7 441.6,569.0 442.3,568.3 443.1,567.6 443.8,567.0 444.6,566.4 445.4,565.8 446.2,565.2 447.1,564.7 447.9,564.1 448.8,563.7 449.7,563.2 450.6,562.8 451.5,562.4 452.4,562.0 453.4,561.6 454.3,561.3 455.3,561.0 456.2,560.7 457.2,560.4 458.2,560.2 459.2,560.0 460.1,559.9 461.1,559.7 462.1,559.6 463.1,559.6 464.1,559.6 465.1,559.6 466.1,559.7 467.1,559.8 468.1,560.0 469.1,560.2 470.0,560.5 471.0,560.7 472.0,561.0 472.9,561.4 473.8,561.7 474.8,562.1 475.7,562.4 476.6,562.8 477.5,563.2 478.5,563.6 479.4,564.0 480.3,564.5 481.2,564.9 482.1,565.3 483.0,565.7 483.9,566.1 484.8,566.5 485.7,567.0 486.6,567.4 487.5,567.8 488.4,568.3 489.3,568.7 490.2,569.2 491.1,569.6 492.0,570.1 492.9,570.5 493.8,571.0 494.7,571.5 495.6,571.9 496.4,572.4 497.3,572.8 498.2,573.3 499.1,573.7 500.0,574.2 500.9,574.6 501.8,575.1 502.7,575.5 503.6,576.0 504.5,576.4 505.4,576.9 506.3,577.3 507.2,577.7 508.1,578.2 509.0,578.6 509.9,579.1 510.8,579.5 511.7,579.9 512.6,580.4 513.5,580.8 514.4,581.2 515.3,581.6 516.2,582.0 517.1,582.4 518.0,582.8 519.0,583.2 519.9,583.6 520.8,584.0 521.8,584.3 522.7,584.7 523.6,585.0 524.6,585.4 525.5,585.7 526.5,586.0 527.4,586.3 528.4,586.6 529.3,586.9 530.3,587.2 531.2,587.5 532.2,587.8 533.1,588.1 534.1,588.4 535.1,588.7 536.0,588.9 537.0,589.2 538.0,589.5 538.9,589.7 539.9,590.0 540.9,590.2 541.8,590.5 542.8,590.7 543.8,590.9 544.7,591.1 545.7,591.4 546.7,591.6 547.7,591.8 548.7,592.0 549.6,592.2 550.6,592.4 551.6,592.6 552.6,592.8 553.6,592.9 554.5,593.1 555.5,593.3 556.5,593.5 557.5,593.6 558.5,593.8 559.5,593.9 560.5,594.1 561.5,594.2 562.4,594.4 563.4,594.5 564.4,594.7 565.4,594.8 566.4,595.0 567.4,595.1 568.4,595.3 569.4,595.4 570.4,595.6 571.4,595.7 572.3,595.8 573.3,596.0 574.3,596.1 575.3,596.3 576.3,596.4 577.3,596.6 578.3,596.7 579.3,596.9 580.3,597.0 581.2,597.1 582.2,597.3 583.2,597.4 584.2,597.6 585.2,597.7 586.2,597.8 587.2,598.0 588.2,598.1 589.2,598.2 590.2,598.4 591.2,598.5 592.1,598.6 593.1,598.7 594.1,598.9 595.1,599.0 596.1,599.1 597.1,599.2 598.1,599.3 599.1,599.4 600.1,599.5 601.1,599.7 602.1,599.8 603.1,599.9 604.1,600.0 605.1,600.0 606.1,600.1 607.1,600.2 608.1,600.3 609.1,600.4 610.0,600.5 611.0,600.6 612.0,600.7 613.0,600.8 614.0,600.9 615.0,600.9 616.0,601.0 617.0,601.1 618.0,601.2 619.0,601.3 620.0,601.3 621.0,601.4 622.0,601.5 623.0,601.6 624.0,601.7 625.0,601.7 626.0,601.8 627.0,601.9 628.0,602.0 629.0,602.0 630.0,602.1 631.0,602.2 632.0,602.2 633.0,602.3 634.0,602.4 635.0,602.4 636.0,602.5 637.0,602.6 638.0,602.6 639.0,602.7 640.0,602.7 641.0,602.8 642.0,602.9 643.0,602.9 644.0,603.0 645.0,603.0 646.0,603.1 647.0,603.1 647.9,603.2 648.9,603.2 649.9,603.3 650.9,603.3 651.9,603.4 652.9,603.4 653.9,603.5 654.9,603.5 655.9,603.6 656.9,603.6 657.9,603.7 658.9,603.7 659.9,603.8 660.9,603.8 661.9,603.9 662.9,603.9 663.9,603.9 664.9,604.0 665.9,604.0 666.9,604.1 667.9,604.1 668.9,604.2 669.9,604.2 670.9,604.2 671.9,604.3 672.9,604.3 673.9,604.4 674.9,604.4 675.9,604.4 676.9,604.5 677.9,604.5 678.9,604.6 679.9,604.6 680.9,604.6 681.9,604.7 682.9,604.7 683.9,604.8 684.9,604.8 685.9,604.8 686.9,604.9 687.9,604.9 688.9,604.9 689.9,605.0 690.9,605.0 691.9,605.0 692.9,605.1 693.9,605.1 694.9,605.1 695.9,605.2 696.9,605.2 697.9,605.2 698.9,605.3 699.9,605.3 700.9,605.3 701.9,605.3 702.9,605.4 703.9,605.4 704.9,605.4 705.9,605.4 706.9,605.5 707.9,605.5 708.9,605.5 709.9,605.5 710.9,605.6 711.9,605.6 712.9,605.6 713.9,605.6 714.9,605.6 715.9,605.7 716.9,605.7 717.9,605.7 718.9,605.7 719.9,605.7 720.9,605.7 721.9,605.7 722.9,605.8 723.9,605.8 724.9,605.8 725.9,605.8 726.0,605.8" fill="none" stroke="#e34a33" stroke-width="6.4" stroke-linejoin="miter" stroke-linecap="square"/>
<polyline points="107.0,881.9 108.0,881.9 109.0,881.9 110.0,881.9 111.0,881.9 112.0,881.9 113.0,881.9 114.0,881.9 115.0,881.9 116.0,881.9 117.0,881.9 118.0,881.9 119.0,881.9 120.0,881.9 121.0,881.9 122.0,881.9 123.0,881.9 124.0,881.9 125.0,881.9 126.0,881.9 127.0,881.9 128.0,881.9 129.0,881.9 130.0,881.9 131.0,881.9 132.0,881.9 133.0,881.9 134.0,881.9 135.0,881.9 136.0,881.9 137.0,881.9 138.0,881.9 139.0,881.9 140.0,881.9 141.0,881.9 142.0,881.9 143.0,881.9 144.0,881.9 145.0,881.9 146.0,881.9 147.0,881.9 148.0,881.9 149.0,881.9 150.0,881.9 151.0,881.9 152.0,881.9 153.0,881.9 154.0,881.9 155.0,881.9 156.0,881.9 157.0,881.9 158.0,881.9 159.0,881.9 160.0,881.9 161.0,881.9 162.0,881.9 163.0,881.9 164.0,881.9 165.0,881.9 166.0,881.9 167.0,881.9 168.0,881.9 169.0,881.9 170.0,881.9 171.0,881.9 172.0,881.8 173.0,881.8 174.0,881.8 175.0,881.8 176.0,881.8 177.0,881.8 178.0,881.8 179.0,881.8 180.0,881.8 181.0,881.8 182.0,881.8 183.0,881.8 184.0,881.8 185.0,881.8 186.0,881.8 187.0,881.8 188.0,881.8 189.0,881.8 190.0,881.8 191.0,881.8 192.0,881.8 193.0,881.8 194.0,881.8 195.0,881.8 196.0,881.8 197.0,881.8 198.0,881.8 199.0,881.8 200.0,881.8 201.0,881.8 202.0,881.8 203.0,881.8 204.0,881.8 205.0,881.8 206.0,881.8 207.0,881.8 208.0,881.8 209.0,881.8 210.0,881.8 211.0,881.8 212.0,881.8 213.0,881.8 214.0,881.8 215.0,881.7 216.0,881.7 217.0,881.7 218.0,881.7 219.0,881.7 220.0,881.7 221.0,881.7 222.0,881.7 223.0,881.7 224.0,881.7 225.0,881.7 226.0,881.7 227.0,881.7 228.0,881.7 229.0,881.7 230.0,881.7 231.0,881.6 232.0,881.6 233.0,881.6 234.0,881.6 235.0,881.6 236.0,881.6 237.0,881.6 238.0,881.6 239.0,881.6 240.0,881.6 241.0,881.6 242.0,881.5 243.0,881.5 244.0,881.5 245.0,881.5 246.0,881.5 247.0,881.5 248.0,881.5 249.0,881.5 250.0,881.4 251.0,881.4 252.0,881.4 253.0,881.4 254.0,881.4 255.0,881.4 256.0,881.4 257.0,881.3 258.0,881.3 259.0,881.3 260.0,881.3 261.0,881.2 262.0,881.2 263.0,881.2 264.0,881.1 265.0,881.1 266.0,881.0 267.0,881.0 268.0,880.9 269.0,880.9 270.0,880.8 271.0,880.7 272.0,880.7 273.0,880.6 274.0,880.5 275.0,880.4 276.0,880.3 277.0,880.2 278.0,880.1 279.0,880.0 279.9,879.9 280.9,879.8 281.9,879.7 282.9,879.6 283.9,879.5 284.9,879.4 285.9,879.3 286.9,879.1 287.9,879.0 288.9,878.9 289.9,878.8 290.9,878.7 291.9,878.5 292.9,878.4 293.8,878.3 294.8,878.2 295.8,878.0 296.8,877.9 297.8,877.8 298.8,877.6 299.8,877.5 300.8,877.4 301.8,877.2 302.8,877.1 303.8,877.0 304.8,876.8 305.7,876.7 306.7,876.5 307.7,876.4 308.7,876.2 309.7,876.0 310.7,875.8 311.6,875.6 312.6,875.4 313.6,875.1 314.5,874.8 315.5,874.6 316.5,874.2 317.4,873.9 318.3,873.6 319.3,873.2 320.2,872.8 321.1,872.4 322.0,871.9 322.9,871.5 323.8,871.0 324.6,870.5 325.5,870.0 326.3,869.5 327.2,868.9 328.0,868.3 328.8,867.7 329.6,867.1 330.3,866.5 331.1,865.8 331.8,865.1 332.5,864.4 333.2,863.7 333.9,863.0 334.5,862.2 335.2,861.4 335.8,860.6 336.4,859.8 336.9,859.0 337.5,858.1 338.0,857.3 338.5,856.4 339.0,855.6 339.5,854.7 339.9,853.8 340.4,852.9 340.9,852.0 341.3,851.1 341.8,850.2 342.2,849.3 342.6,848.4 343.0,847.5 343.4,846.6 343.8,845.7 344.2,844.8 344.6,843.9 345.0,842.9 345.4,842.0 345.7,841.1 346.1,840.2 346.5,839.2 346.9,838.3 347.2,837.4 347.6,836.4 347.9,835.5 348.3,834.6 348.7,833.6 349.0,832.7 349.4,831.8 349.7,830.8 350.1,829.9 350.5,829.0 350.9,828.1 351.3,827.1 351.6,826.2 352.0,825.3 352.4,824.4 352.8,823.5 353.3,822.5 353.7,821.6 354.1,820.7 354.5,819.8 354.9,818.9 355.3,818.0 355.6,817.0 356.0,816.1 356.4,815.2 356.7,814.2 357.0,813.3 357.3,812.3 357.6,811.4 357.9,810.4 358.2,809.5 358.4,808.5 358.7,807.5 358.9,806.6 359.2,805.6 359.4,804.6 359.7,803.6 359.9,802.7 360.1,801.7 360.4,800.7 360.6,799.8 360.8,798.8 361.1,797.8 361.3,796.8 361.6,795.9 361.8,794.9 362.0,793.9 362.3,793.0 362.5,792.0 362.8,791.0 363.0,790.1 363.3,789.1 363.5,788.1 363.7,787.1 364.0,786.2 364.2,785.2 364.5,784.2 364.7,783.3 364.9,782.3 365.2,781.3 365.4,780.3 365.6,779.4 365.8,778.4 366.1,777.4 366.3,776.4 366.5,775.5 366.7,774.5 367.0,773.5 367.2,772.5 367.4,771.6 367.6,770.6 367.8,769.6 368.0,768.6 368.2,767.7 368.4,766.7 368.7,765.7 368.9,764.7 369.1,763.7 369.3,762.8 369.5,761.8 369.7,760.8 369.9,759.8 370.1,758.9 370.3,757.9 370.5,756.9 370.7,755.9 370.9,754.9 371.1,754.0 371.4,753.0 371.6,752.0 371.8,751.0 372.0,750.0 372.2,749.1 372.4,748.1 372.6,747.1 372.8,746.1 373.0,745.1 373.2,744.2 373.4,743.2 373.6,742.2 373.7,741.2 373.9,740.2 374.1,739.3 374.3,738.3 374.5,737.3 374.7,736.3 374.8,735.3 375.0,734.3 375.2,733.4 375.3,732.4 375.5,731.4 375.7,730.4 375.8,729.4 376.0,728.4 376.2,727.4 376.3,726.4 376.5,725.5 376.6,724.5 376.8,723.5 376.9,722.5 377.1,721.5 377.2,720.5 377.4,719.5 377.6,718.5 377.7,717.6 377.9,716.6 378.0,715.6 378.2,714.6 378.3,713.6 378.5,712.6 378.6,711.6 378.8,710.6 378.9,709.7 379.1,708.7 379.3,707.7 379.4,706.7 379.6,705.7 379.7,704.7 379.9,703.7 380.1,702.7 380.2,701.8 380.4,700.8 380.6,699.8 380.7,698.8 380.9,697.8 381.1,696.8 381.2,695.8 381.4,694.9 381.6,693.9 381.7,692.9 381.9,691.9 382.1,690.9 382.2,689.9 382.4,688.9 382.6,687.9 382.7,687.0 382.9,686.0 383.1,685.0 383.2,684.0 383.4,683.0 383.6,682.0 383.8,681.1 383.9,680.1 384.1,679.1 384.3,678.1 384.5,677.1 384.6,676.1 384.8,675.1 385.0,674.2 385.2,673.2 385.3,672.2 385.5,671.2 385.7,670.2 385.9,669.2 386.1,668.3 386.2,667.3 386.4,666.3 386.6,665.3 386.8,664.3 387.0,663.3 387.1,662.4 387.3,661.4 387.5,660.4 387.7,659.4 387.9,658.4 388.1,657.4 388.3,656.5 388.4,655.5 388.6,654.5 388.8,653.5 389.0,652.5 389.2,651.5 389.4,650.6 389.6,649.6 389.8,648.6 389.9,647.6 390.1,646.6 390.3,645.7 390.5,644.7 390.7,643.7 390.9,642.7 391.1,641.7 391.3,640.8 391.5,639.8 391.7,638.8 391.9,637.8 392.1,636.8 392.3,635.9 392.5,634.9 392.7,633.9 392.9,632.9 393.1,631.9 393.3,631.0 393.5,630.0 393.7,629.0 394.0,628.0 394.2,627.1 394.4,626.1 394.6,625.1 394.8,624.1 395.1,623.2 395.3,622.2 395.5,621.2 395.8,620.2 396.0,619.3 396.2,618.3 396.5,617.3 396.7,616.3 396.9,615.4 397.2,614.4 397.4,613.4 397.7,612.5 397.9,611.5 398.2,610.5 398.4,609.6 398.7,608.6 398.9,607.6 399.2,606.7 399.4,605.7 399.7,604.7 400.0,603.8 400.2,602.8 400.5,601.8 400.8,600.9 401.1,599.9 401.3,599.0 401.6,598.0 401.9,597.0 402.2,596.1 402.5,595.1 402.8,594.2 403.1,593.2 403.4,592.3 403.8,591.3 404.1,590.4 404.4,589.4 404.8,588.5 405.1,587.6 405.4,586.6 405.8,585.7 406.2,584.8 406.5,583.8 406.9,582.9 407.3,582.0 407.7,581.0 408.0,580.1 408.4,579.2 408.8,578.3 409.3,577.4 409.7,576.5 410.1,575.6 410.6,574.7 411.0,573.8 411.5,572.9 412.0,572.0 412.4,571.2 412.9,570.3 413.5,569.4 414.0,568.6 414.5,567.7 415.1,566.9 415.7,566.1 416.2,565.3 416.9,564.5 417.5,563.7 418.1,562.9 418.8,562.2 419.5,561.5 420.2,560.8 420.9,560.1 421.7,559.4 422.5,558.8 423.3,558.2 424.1,557.7 425.0,557.1 425.8,556.7 426.7,556.2 427.6,555.8 428.6,555.4 429.5,555.1 430.5,554.8 431.5,554.6 432.4,554.5 433.4,554.4 434.4,554.3 435.4,554.3 436.4,554.4 437.4,554.5 438.4,554.6 439.4,554.8 440.4,555.0 441.4,555.2 442.3,555.5 443.3,555.8 444.2,556.1 445.2,556.4 446.1,556.7 447.1,557.0 448.0,557.4 448.9,557.7 449.9,558.1 450.8,558.5 451.7,558.9 452.6,559.3 453.5,559.7 454.4,560.1 455.3,560.6 456.2,561.0 457.1,561.5 458.0,562.0 458.9,562.4 459.8,562.9 460.6,563.4 461.5,563.9 462.4,564.4 463.3,564.9 464.1,565.4 465.0,565.9 465.8,566.4 466.7,566.9 467.6,567.4 468.4,567.9 469.3,568.4 470.1,569.0 471.0,569.5 471.8,570.0 472.7,570.5 473.5,571.1 474.4,571.6 475.2,572.1 476.1,572.6 476.9,573.1 477.8,573.6 478.7,574.1 479.6,574.6 480.4,575.1 481.3,575.6 482.2,576.0 483.1,576.4 484.0,576.9 484.9,577.3 485.8,577.7 486.8,578.1 487.7,578.5 488.6,578.9 489.5,579.2 490.5,579.6 491.4,580.0 492.3,580.3 493.2,580.7 494.2,581.1 495.1,581.4 496.0,581.8 497.0,582.1 497.9,582.5 498.8,582.9 499.8,583.3 500.7,583.6 501.6,584.0 502.5,584.4 503.5,584.8 504.4,585.2 505.3,585.5 506.2,585.9 507.2,586.3 508.1,586.7 509.0,587.1 509.9,587.5 510.8,587.9 511.8,588.2 512.7,588.6 513.6,588.9 514.6,589.3 515.5,589.6 516.5,589.9 517.4,590.2 518.4,590.5 519.4,590.8 520.3,591.1 521.3,591.3 522.3,591.5 523.2,591.8 524.2,592.0 525.2,592.2 526.2,592.4 527.1,592.6 528.1,592.8 529.1,593.0 530.1,593.2 531.1,593.4 532.1,593.5 533.0,593.7 534.0,593.9 535.0,594.0 536.0,594.2 537.0,594.4 538.0,594.6 539.0,594.7 539.9,594.9 540.9,595.1 541.9,595.3 542.9,595.4 543.9,595.6 544.9,595.8 545.8,596.0 546.8,596.2 547.8,596.4 548.8,596.6 549.8,596.7 550.8,596.9 551.7,597.1 552.7,597.3 553.7,597.5 554.7,597.7 555.7,597.8 556.7,598.0 557.6,598.2 558.6,598.3 559.6,598.5 560.6,598.6 561.6,598.8 562.6,598.9 563.6,599.0 564.6,599.1 565.6,599.2 566.6,599.4 567.6,599.5 568.5,599.6 569.5,599.7 570.5,599.7 571.5,599.8 572.5,599.9 573.5,600.0 574.5,600.1 575.5,600.1 576.5,600.2 577.5,600.3 578.5,600.4 579.5,600.4 580.5,600.5 581.5,600.6 582.5,600.6 583.5,600.7 584.5,600.7 585.5,600.8 586.5,600.9 587.5,600.9 588.5,601.0 589.5,601.0 590.5,601.1 591.5,601.2 592.5,601.2 593.5,601.3 594.5,601.3 595.5,601.4 596.5,601.4 597.5,601.5 598.5,601.5 599.5,601.6 600.5,601.6 601.5,601.7 602.5,601.8 603.5,601.8 604.5,601.9 605.5,601.9 606.5,602.0 607.5,602.0 608.5,602.1 609.5,602.1 610.5,602.2 611.5,602.3 612.5,602.3 613.5,602.4 614.5,602.4 615.5,602.5 616.5,602.5 617.5,602.6 618.5,602.6 619.5,602.7 620.4,602.7 621.4,602.8 622.4,602.8 623.4,602.9 624.4,602.9 625.4,603.0 626.4,603.0 627.4,603.1 628.4,603.1 629.4,603.2 630.4,603.2 631.4,603.3 632.4,603.3 633.4,603.4 634.4,603.4 635.4,603.5 636.4,603.5 637.4,603.6 638.4,603.6 639.4,603.7 640.4,603.7 641.4,603.8 642.4,603.8 643.4,603.8 644.4,603.9 645.4,603.9 646.4,604.0 647.4,604.0 648.4,604.1 649.4,604.1 650.4,604.1 651.4,604.2 652.4,604.2 653.4,604.3 654.4,604.3 655.4,604.4 656.4,604.4 657.4,604.4 658.4,604.5 659.4,604.5 660.4,604.6 661.4,604.6 662.4,604.6 663.4,604.7 664.4,604.7 665.4,604.7 666.4,604.8 667.4,604.8 668.4,604.9 669.4,604.9 670.4,604.9 671.4,605.0 672.4,605.0 673.4,605.0 674.4,605.1 675.4,605.1 676.4,605.1 677.4,605.2 678.4,605.2 679.4,605.2 680.4,605.3 681.4,605.3 682.4,605.3 683.4,605.4 684.4,605.4 685.4,605.4 686.4,605.4 687.4,605.5 688.4,605.5 689.4,605.5 690.4,605.6 691.4,605.6 692.4,605.6 693.4,605.6 694.4,605.7 695.4,605.7 696.4,605.7 697.4,605.7 698.4,605.7 699.4,605.8 700.4,605.8 701.4,605.8 702.4,605.8 703.4,605.8 704.4,605.9 705.4,605.9 706.4,605.9 707.4,605.9 708.4,605.9 709.4,606.0 710.4,606.0 711.4,606.0 712.4,606.0 713.4,606.0 714.4,606.0 715.4,606.1 716.4,606.1 717.4,606.1 718.4,606.1 719.4,606.1 720.4,606.1 721.4,606.1 722.4,606.2 723.4,606.2 724.4,606.2 725.4,606.2 726.0,606.2" fill="none" stroke="#b30000" stroke-width="6.4" stroke-linejoin="miter" stroke-linecap="square"/>
</g>
<rect x="107" y="470.8" width="619" height="410.99999999999994" fill="none" stroke="#000" stroke-width="1.3"/>
<text x="664.0" y="523.6" text-anchor="start" font-size="36.5" >(c)</text>
<text x="82.9" y="620.1" text-anchor="end" font-size="36.5" >1</text>
<text x="82.9" y="894.1" text-anchor="end" font-size="36.5" >0</text>
<text transform="translate(28.1,675.3) rotate(-90)" text-anchor="middle" font-size="36.5">R(l = 0)</text>
<text x="159.5" y="936.3" text-anchor="middle" font-size="36.5" >0.1</text>
<text x="469.0" y="936.3" text-anchor="middle" font-size="36.5" >1</text>
<text x="416.5" y="985.7" text-anchor="middle" font-size="36.5" >κ E / (N g<tspan font-size="29.2" dy="-13">2</tspan><tspan dy="13">)</tspan></text>
<rect x="763.4" y="812.0" width="155.4" height="57.2" fill="#cdece5" stroke="#111" stroke-width="1.4"/>
<text x="769.6" y="852.6" font-size="36.5">l = l<tspan font-size="28.2" dy="8.3">max</tspan></text>
<path d="M775.95 881.8v-9M775.95 470.8v9M791.79 881.8v-9M791.79 470.8v9M805.96 881.8v-17M805.96 470.8v17M899.16 881.8v-9M899.16 470.8v9M953.67 881.8v-9M953.67 470.8v9M992.36 881.8v-9M992.36 470.8v9M1022.36 881.8v-9M1022.36 470.8v9M1046.87 881.8v-9M1046.87 470.8v9M1067.60 881.8v-9M1067.60 470.8v9M1085.55 881.8v-9M1085.55 470.8v9M1101.39 881.8v-9M1101.39 470.8v9M1115.56 881.8v-17M1115.56 470.8v17M1208.76 881.8v-9M1208.76 470.8v9M1263.27 881.8v-9M1263.27 470.8v9M1301.96 881.8v-9M1301.96 470.8v9M1331.96 881.8v-9M1331.96 470.8v9M1356.47 881.8v-9M1356.47 470.8v9" stroke="#000" stroke-width="1.25" fill="none"/>
<text x="805.0" y="570.0" text-anchor="end" font-size="36.5" >N</text>
<text x="805.0" y="603.7" text-anchor="end" font-size="36.5" >1</text>
<path d="M824.2 591.6H894.3" stroke="#fdd49e" stroke-width="6.4"/>
<text x="805.0" y="637.6" text-anchor="end" font-size="36.5" >2</text>
<path d="M824.2 625.5H894.3" stroke="#fdbb84" stroke-width="6.4"/>
<text x="805.0" y="671.4" text-anchor="end" font-size="36.5" >3</text>
<path d="M824.2 659.3H894.3" stroke="#fc8d59" stroke-width="6.4"/>
<text x="805.0" y="705.3" text-anchor="end" font-size="36.5" >4</text>
<path d="M824.2 693.2H894.3" stroke="#ef6548" stroke-width="6.4"/>
<text x="805.0" y="739.1" text-anchor="end" font-size="36.5" >5</text>
<path d="M824.2 727.0H894.3" stroke="#d7301f" stroke-width="6.4"/>
<text x="805.0" y="773.0" text-anchor="end" font-size="36.5" >7</text>
<path d="M824.2 760.9H894.3" stroke="#b30000" stroke-width="6.4"/>
<text x="805.0" y="806.8" text-anchor="end" font-size="36.5" >8</text>
<path d="M824.2 794.7H894.3" stroke="#7f0000" stroke-width="6.4"/>
<g clip-path="url(#clipd)">
<polyline points="758.0,508.2 759.0,508.2 760.0,508.2 761.0,508.2 762.0,508.2 763.0,508.2 764.0,508.2 765.0,508.2 766.0,508.2 767.0,508.2 768.0,508.2 769.0,508.2 770.0,508.2 771.0,508.2 772.0,508.2 773.0,508.2 774.0,508.2 775.0,508.2 776.0,508.2 777.0,508.2 778.0,508.2 779.0,508.2 780.0,508.2 781.0,508.2 782.0,508.2 783.0,508.2 784.0,508.2 785.0,508.2 786.0,508.2 787.0,508.2 788.0,508.2 789.0,508.2 790.0,508.2 791.0,508.2 792.0,508.2 793.0,508.2 794.0,508.2 795.0,508.2 796.0,508.2 797.0,508.2 798.0,508.2 799.0,508.2 800.0,508.2 801.0,508.2 802.0,508.2 803.0,508.2 804.0,508.2 805.0,508.2 806.0,508.2 807.0,508.2 808.0,508.2 809.0,508.2 810.0,508.2 811.0,508.2 812.0,508.2 813.0,508.2 814.0,508.2 815.0,508.2 816.0,508.2 817.0,508.2 818.0,508.2 819.0,508.2 820.0,508.2 821.0,508.2 822.0,508.2 823.0,508.2 824.0,508.2 825.0,508.2 826.0,508.2 827.0,508.2 828.0,508.2 829.0,508.2 830.0,508.2 831.0,508.2 832.0,508.2 833.0,508.2 834.0,508.2 835.0,508.2 836.0,508.2 837.0,508.2 838.0,508.2 839.0,508.2 840.0,508.2 841.0,508.2 842.0,508.2 843.0,508.2 844.0,508.2 845.0,508.2 846.0,508.2 847.0,508.2 848.0,508.2 849.0,508.2 850.0,508.2 851.0,508.2 852.0,508.2 853.0,508.2 854.0,508.2 855.0,508.2 856.0,508.2 857.0,508.2 858.0,508.2 859.0,508.2 860.0,508.2 861.0,508.2 862.0,508.2 863.0,508.2 864.0,508.2 865.0,508.2 866.0,508.2 867.0,508.2 868.0,508.2 869.0,508.2 870.0,508.2 871.0,508.2 872.0,508.2 873.0,508.2 874.0,508.2 875.0,508.2 876.0,508.2 877.0,508.2 878.0,508.2 879.0,508.2 880.0,508.2 881.0,508.2 882.0,508.2 883.0,508.2 884.0,508.2 885.0,508.2 886.0,508.2 887.0,508.2 888.0,508.2 889.0,508.2 890.0,508.2 891.0,508.2 892.0,508.2 893.0,508.2 894.0,508.2 895.0,508.2 896.0,508.2 897.0,508.2 898.0,508.2 899.0,508.2 900.0,508.2 901.0,508.2 902.0,508.2 903.0,508.2 904.0,508.2 905.0,508.2 906.0,508.2 907.0,508.2 908.0,508.2 909.0,508.2 910.0,508.2 911.0,508.2 912.0,508.2 913.0,508.2 914.0,508.2 915.0,508.2 916.0,508.2 917.0,508.2 918.0,508.2 919.0,508.2 920.0,508.2 921.0,508.2 922.0,508.2 923.0,508.2 924.0,508.2 925.0,508.2 926.0,508.2 927.0,508.2 928.0,508.2 929.0,508.2 930.0,508.2 931.0,508.2 932.0,508.2 933.0,508.2 934.0,508.2 935.0,508.2 936.0,508.2 937.0,508.2 938.0,508.2 939.0,508.2 940.0,508.2 941.0,508.2 942.0,508.2 943.0,508.2 944.0,508.2 945.0,508.2 946.0,508.2 947.0,508.2 948.0,508.2 949.0,508.2 950.0,508.2 951.0,508.2 952.0,508.2 953.0,508.2 954.0,508.2 955.0,508.2 956.0,508.2 957.0,508.2 958.0,508.2 959.0,508.2 960.0,508.2 961.0,508.2 962.0,508.2 963.0,508.2 964.0,508.2 965.0,508.2 966.0,508.2 967.0,508.2 968.0,508.2 969.0,508.2 970.0,508.2 971.0,508.2 972.0,508.2 973.0,508.2 974.0,508.2 975.0,508.2 976.0,508.2 977.0,508.2 978.0,508.2 979.0,508.2 980.0,508.2 981.0,508.2 982.0,508.2 983.0,508.2 984.0,508.2 985.0,508.2 986.0,508.2 987.0,508.2 988.0,508.2 989.0,508.2 990.0,508.2 991.0,508.2 992.0,508.2 993.0,508.2 994.0,508.2 995.0,508.2 996.0,508.2 997.0,508.2 998.0,508.2 999.0,508.2 1000.0,508.2 1001.0,508.2 1002.0,508.2 1003.0,508.2 1004.0,508.2 1005.0,508.2 1006.0,508.2 1007.0,508.2 1008.0,508.2 1009.0,508.2 1010.0,508.2 1011.0,508.2 1012.0,508.2 1013.0,508.2 1014.0,508.2 1015.0,508.2 1016.0,508.2 1017.0,508.2 1018.0,508.2 1019.0,508.2 1020.0,508.2 1021.0,508.2 1022.0,508.2 1023.0,508.2 1024.0,508.2 1025.0,508.2 1026.0,508.2 1027.0,508.2 1028.0,508.2 1029.0,508.2 1030.0,508.2 1031.0,508.2 1032.0,508.2 1033.0,508.2 1034.0,508.2 1035.0,508.2 1036.0,508.2 1037.0,508.2 1038.0,508.2 1039.0,508.2 1040.0,508.2 1041.0,508.2 1042.0,508.2 1043.0,508.2 1044.0,508.2 1045.0,508.2 1046.0,508.2 1047.0,508.2 1048.0,508.2 1049.0,508.2 1050.0,508.2 1051.0,508.2 1052.0,508.2 1053.0,508.2 1054.0,508.2 1055.0,508.2 1056.0,508.2 1057.0,508.2 1058.0,508.2 1059.0,508.2 1060.0,508.2 1061.0,508.2 1062.0,508.2 1063.0,508.2 1064.0,508.2 1065.0,508.2 1066.0,508.2 1067.0,508.2 1068.0,508.2 1069.0,508.2 1070.0,508.2 1071.0,508.2 1072.0,508.2 1073.0,508.2 1074.0,508.2 1075.0,508.2 1076.0,508.2 1077.0,508.2 1078.0,508.2 1079.0,508.2 1080.0,508.2 1081.0,508.2 1082.0,508.2 1083.0,508.2 1084.0,508.2 1085.0,508.2 1086.0,508.2 1087.0,508.2 1088.0,508.2 1089.0,508.2 1090.0,508.2 1091.0,508.2 1092.0,508.2 1093.0,508.2 1094.0,508.2 1095.0,508.2 1096.0,508.2 1097.0,508.2 1098.0,508.2 1099.0,508.2 1100.0,508.2 1101.0,508.2 1102.0,508.2 1103.0,508.2 1104.0,508.2 1105.0,508.2 1106.0,508.2 1107.0,508.2 1108.0,508.2 1109.0,508.2 1110.0,508.2 1111.0,508.2 1112.0,508.2 1113.0,508.2 1114.0,508.2 1115.0,508.2 1116.0,508.2 1117.0,508.2 1118.0,508.2 1119.0,508.2 1120.0,508.2 1121.0,508.2 1122.0,508.2 1123.0,508.2 1124.0,508.2 1125.0,508.2 1126.0,508.2 1127.0,508.2 1128.0,508.2 1129.0,508.2 1130.0,508.2 1131.0,508.2 1132.0,508.2 1133.0,508.2 1134.0,508.2 1135.0,508.2 1136.0,508.2 1137.0,508.2 1138.0,508.2 1139.0,508.2 1140.0,508.2 1141.0,508.2 1142.0,508.2 1143.0,508.2 1144.0,508.2 1145.0,508.2 1146.0,508.2 1147.0,508.2 1148.0,508.2 1149.0,508.2 1150.0,508.2 1151.0,508.2 1152.0,508.2 1153.0,508.2 1154.0,508.2 1155.0,508.2 1156.0,508.2 1157.0,508.2 1158.0,508.2 1159.0,508.2 1160.0,508.2 1161.0,508.2 1162.0,508.2 1163.0,508.2 1164.0,508.2 1165.0,508.2 1166.0,508.2 1167.0,508.2 1168.0,508.2 1169.0,508.2 1170.0,508.2 1171.0,508.2 1172.0,508.2 1173.0,508.2 1174.0,508.2 1175.0,508.2 1176.0,508.2 1177.0,508.2 1178.0,508.2 1179.0,508.2 1180.0,508.2 1181.0,508.2 1182.0,508.2 1183.0,508.2 1184.0,508.2 1185.0,508.2 1186.0,508.2 1187.0,508.2 1188.0,508.2 1189.0,508.2 1190.0,508.2 1191.0,508.2 1192.0,508.2 1193.0,508.2 1194.0,508.2 1195.0,508.2 1196.0,508.2 1197.0,508.2 1198.0,508.2 1199.0,508.2 1200.0,508.2 1201.0,508.2 1202.0,508.2 1203.0,508.2 1204.0,508.2 1205.0,508.2 1206.0,508.2 1207.0,508.2 1208.0,508.2 1209.0,508.2 1210.0,508.2 1211.0,508.2 1212.0,508.2 1213.0,508.2 1214.0,508.2 1215.0,508.2 1216.0,508.2 1217.0,508.2 1218.0,508.2 1219.0,508.2 1220.0,508.2 1221.0,508.2 1222.0,508.2 1223.0,508.2 1224.0,508.2 1225.0,508.2 1226.0,508.2 1227.0,508.2 1228.0,508.2 1229.0,508.2 1230.0,508.2 1231.0,508.2 1232.0,508.2 1233.0,508.2 1234.0,508.2 1235.0,508.2 1236.0,508.2 1237.0,508.2 1238.0,508.2 1239.0,508.2 1240.0,508.2 1241.0,508.2 1242.0,508.2 1243.0,508.2 1244.0,508.2 1245.0,508.2 1246.0,508.2 1247.0,508.2 1248.0,508.2 1249.0,508.2 1250.0,508.2 1251.0,508.2 1252.0,508.2 1253.0,508.2 1254.0,508.2 1255.0,508.2 1256.0,508.2 1257.0,508.2 1258.0,508.2 1259.0,508.2 1260.0,508.2 1261.0,508.2 1262.0,508.2 1263.0,508.2 1264.0,508.2 1265.0,508.2 1266.0,508.2 1267.0,508.2 1268.0,508.2 1269.0,508.2 1270.0,508.2 1271.0,508.2 1272.0,508.2 1273.0,508.2 1274.0,508.2 1275.0,508.2 1276.0,508.2 1277.0,508.2 1278.0,508.2 1279.0,508.2 1280.0,508.2 1281.0,508.2 1282.0,508.2 1283.0,508.2 1284.0,508.2 1285.0,508.2 1286.0,508.2 1287.0,508.2 1288.0,508.2 1289.0,508.2 1290.0,508.2 1291.0,508.2 1292.0,508.2 1293.0,508.2 1294.0,508.2 1295.0,508.2 1296.0,508.2 1297.0,508.2 1298.0,508.2 1299.0,508.2 1300.0,508.2 1301.0,508.2 1302.0,508.2 1303.0,508.2 1304.0,508.2 1305.0,508.2 1306.0,508.2 1307.0,508.2 1308.0,508.2 1309.0,508.2 1310.0,508.2 1311.0,508.2 1312.0,508.2 1313.0,508.2 1314.0,508.2 1315.0,508.2 1316.0,508.2 1317.0,508.2 1318.0,508.2 1319.0,508.2 1320.0,508.2 1321.0,508.2 1322.0,508.2 1323.0,508.2 1324.0,508.2 1325.0,508.2 1326.0,508.2 1327.0,508.2 1328.0,508.2 1329.0,508.2 1330.0,508.2 1331.0,508.2 1332.0,508.2 1333.0,508.2 1334.0,508.2 1335.0,508.2 1336.0,508.2 1337.0,508.2 1338.0,508.2 1339.0,508.2 1340.0,508.2 1341.0,508.2 1342.0,508.2 1343.0,508.2 1344.0,508.2 1345.0,508.2 1346.0,508.2 1347.0,508.2 1348.0,508.2 1349.0,508.2 1350.0,508.2 1351.0,508.2 1352.0,508.2 1353.0,508.2 1354.0,508.2 1355.0,508.2 1356.0,508.2 1357.0,508.2 1358.0,508.2 1359.0,508.2 1360.0,508.2 1361.0,508.2 1362.0,508.2 1363.0,508.2 1364.0,508.2 1365.0,508.2 1366.0,508.2 1367.0,508.2 1368.0,508.2 1369.0,508.2 1370.0,508.2 1371.0,508.2 1372.0,508.2 1373.0,508.2 1374.0,508.2 1375.0,508.2 1376.0,508.2 1377.0,508.2 1378.0,508.2" fill="none" stroke="#fdd49e" stroke-width="6.4" stroke-linejoin="miter" stroke-linecap="square"/>
<polyline points="758.0,508.2 759.0,508.2 760.0,508.2 761.0,508.2 762.0,508.2 763.0,508.2 764.0,508.2 765.0,508.2 766.0,508.2 767.0,508.2 768.0,508.2 769.0,508.2 770.0,508.2 771.0,508.2 772.0,508.2 773.0,508.2 774.0,508.2 775.0,508.2 776.0,508.2 777.0,508.2 778.0,508.2 779.0,508.2 780.0,508.2 781.0,508.2 782.0,508.2 783.0,508.2 784.0,508.2 785.0,508.2 786.0,508.2 787.0,508.2 788.0,508.2 789.0,508.2 790.0,508.2 791.0,508.2 792.0,508.2 793.0,508.2 794.0,508.2 795.0,508.2 796.0,508.2 797.0,508.2 798.0,508.2 799.0,508.2 800.0,508.2 801.0,508.2 802.0,508.2 803.0,508.2 804.0,508.2 805.0,508.2 806.0,508.2 807.0,508.2 808.0,508.2 809.0,508.2 810.0,508.2 811.0,508.2 812.0,508.2 813.0,508.2 814.0,508.2 815.0,508.2 816.0,508.2 817.0,508.2 818.0,508.2 819.0,508.2 820.0,508.2 821.0,508.2 822.0,508.2 823.0,508.2 824.0,508.2 825.0,508.2 826.0,508.2 827.0,508.2 828.0,508.2 829.0,508.2 830.0,508.2 831.0,508.2 832.0,508.2 833.0,508.2 834.0,508.2 835.0,508.2 836.0,508.2 837.0,508.2 838.0,508.2 839.0,508.2 840.0,508.2 841.0,508.2 842.0,508.2 843.0,508.2 844.0,508.2 845.0,508.2 846.0,508.2 847.0,508.2 848.0,508.2 849.0,508.2 850.0,508.2 851.0,508.3 852.0,508.3 853.0,508.3 854.0,508.3 855.0,508.3 856.0,508.3 857.0,508.3 858.0,508.3 859.0,508.3 860.0,508.3 861.0,508.3 862.0,508.3 863.0,508.3 864.0,508.3 865.0,508.3 866.0,508.3 867.0,508.3 868.0,508.3 869.0,508.3 870.0,508.3 871.0,508.3 872.0,508.3 873.0,508.3 874.0,508.3 875.0,508.3 876.0,508.3 877.0,508.3 878.0,508.3 879.0,508.3 880.0,508.3 881.0,508.3 882.0,508.3 883.0,508.3 884.0,508.3 885.0,508.3 886.0,508.3 887.0,508.3 888.0,508.3 889.0,508.3 890.0,508.3 891.0,508.3 892.0,508.3 893.0,508.3 894.0,508.3 895.0,508.3 896.0,508.3 897.0,508.3 898.0,508.3 899.0,508.3 900.0,508.3 901.0,508.3 902.0,508.3 903.0,508.3 904.0,508.3 905.0,508.3 906.0,508.3 907.0,508.3 908.0,508.3 909.0,508.4 910.0,508.4 911.0,508.4 912.0,508.4 913.0,508.4 914.0,508.4 915.0,508.4 916.0,508.4 917.0,508.4 918.0,508.4 919.0,508.4 920.0,508.4 921.0,508.4 922.0,508.4 923.0,508.4 924.0,508.4 925.0,508.4 926.0,508.4 927.0,508.4 928.0,508.4 929.0,508.4 930.0,508.4 931.0,508.4 932.0,508.4 933.0,508.4 934.0,508.4 935.0,508.4 936.0,508.4 937.0,508.4 938.0,508.4 939.0,508.4 940.0,508.4 941.0,508.4 942.0,508.4 943.0,508.4 944.0,508.4 945.0,508.4 946.0,508.5 947.0,508.5 948.0,508.5 949.0,508.5 950.0,508.5 951.0,508.5 952.0,508.5 953.0,508.5 954.0,508.5 955.0,508.5 956.0,508.5 957.0,508.5 958.0,508.5 959.0,508.5 960.0,508.5 961.0,508.5 962.0,508.5 963.0,508.5 964.0,508.6 965.0,508.6 966.0,508.6 967.0,508.6 968.0,508.6 969.0,508.6 970.0,508.7 971.0,508.7 972.0,508.7 973.0,508.7 974.0,508.8 975.0,508.8 976.0,508.8 977.0,508.8 978.0,508.9 979.0,508.9 980.0,508.9 981.0,509.0 982.0,509.0 983.0,509.1 984.0,509.1 985.0,509.1 986.0,509.2 987.0,509.2 988.0,509.3 989.0,509.3 990.0,509.3 991.0,509.4 992.0,509.4 993.0,509.5 994.0,509.5 995.0,509.6 996.0,509.6 997.0,509.7 998.0,509.7 999.0,509.8 1000.0,509.8 1001.0,509.9 1002.0,509.9 1003.0,510.0 1004.0,510.0 1005.0,510.1 1006.0,510.1 1007.0,510.2 1008.0,510.3 1009.0,510.3 1010.0,510.4 1011.0,510.5 1012.0,510.5 1013.0,510.6 1013.9,510.7 1014.9,510.7 1015.9,510.8 1016.9,510.9 1017.9,511.0 1018.9,511.1 1019.9,511.2 1020.9,511.3 1021.9,511.4 1022.9,511.5 1023.9,511.6 1024.9,511.7 1025.9,511.8 1026.9,511.9 1027.9,512.0 1028.9,512.1 1029.9,512.3 1030.9,512.4 1031.8,512.6 1032.8,512.7 1033.8,512.9 1034.8,513.1 1035.8,513.3 1036.8,513.5 1037.7,513.7 1038.7,513.9 1039.7,514.1 1040.7,514.3 1041.6,514.6 1042.6,514.8 1043.6,515.1 1044.5,515.3 1045.5,515.6 1046.5,515.9 1047.4,516.1 1048.4,516.4 1049.3,516.7 1050.3,517.0 1051.3,517.3 1052.2,517.6 1053.2,517.9 1054.1,518.2 1055.1,518.5 1056.0,518.9 1057.0,519.2 1057.9,519.5 1058.8,519.9 1059.8,520.2 1060.7,520.6 1061.6,521.0 1062.6,521.3 1063.5,521.7 1064.4,522.1 1065.3,522.5 1066.2,522.9 1067.1,523.3 1068.1,523.7 1069.0,524.1 1069.9,524.6 1070.8,525.0 1071.7,525.4 1072.6,525.8 1073.5,526.3 1074.4,526.7 1075.3,527.2 1076.2,527.6 1077.1,528.1 1077.9,528.6 1078.8,529.0 1079.7,529.5 1080.6,530.0 1081.4,530.5 1082.3,531.0 1083.2,531.5 1084.0,532.0 1084.9,532.5 1085.8,533.0 1086.6,533.5 1087.5,534.0 1088.3,534.6 1089.2,535.1 1090.0,535.6 1090.8,536.2 1091.7,536.7 1092.5,537.3 1093.4,537.8 1094.2,538.4 1095.0,539.0 1095.8,539.5 1096.7,540.1 1097.5,540.7 1098.3,541.3 1099.1,541.8 1099.9,542.4 1100.7,543.0 1101.5,543.6 1102.3,544.2 1103.1,544.8 1103.9,545.4 1104.7,546.1 1105.5,546.7 1106.2,547.3 1107.0,547.9 1107.8,548.6 1108.6,549.2 1109.3,549.8 1110.1,550.5 1110.9,551.1 1111.7,551.7 1112.4,552.4 1113.2,553.0 1114.0,553.7 1114.7,554.3 1115.5,555.0 1116.2,555.6 1117.0,556.3 1117.8,556.9 1118.5,557.6 1119.3,558.2 1120.0,558.9 1120.8,559.5 1121.5,560.2 1122.3,560.9 1123.0,561.5 1123.8,562.2 1124.5,562.9 1125.3,563.5 1126.0,564.2 1126.7,564.9 1127.5,565.6 1128.2,566.2 1128.9,566.9 1129.7,567.6 1130.4,568.3 1131.2,568.9 1131.9,569.6 1132.6,570.3 1133.4,571.0 1134.1,571.6 1134.8,572.3 1135.6,573.0 1136.3,573.6 1137.1,574.3 1137.8,575.0 1138.6,575.6 1139.3,576.3 1140.1,577.0 1140.8,577.6 1141.6,578.3 1142.3,578.9 1143.1,579.6 1143.9,580.2 1144.6,580.9 1145.4,581.5 1146.1,582.2 1146.9,582.8 1147.7,583.5 1148.4,584.1 1149.2,584.8 1149.9,585.4 1150.7,586.1 1151.5,586.7 1152.3,587.3 1153.0,588.0 1153.8,588.6 1154.6,589.2 1155.4,589.8 1156.2,590.4 1157.0,591.0 1157.8,591.6 1158.6,592.2 1159.4,592.8 1160.2,593.3 1161.1,593.9 1161.9,594.5 1162.7,595.0 1163.6,595.5 1164.4,596.1 1165.3,596.6 1166.2,597.1 1167.0,597.6 1167.9,598.1 1168.8,598.6 1169.6,599.1 1170.5,599.5 1171.4,600.0 1172.3,600.5 1173.2,600.9 1174.1,601.4 1175.0,601.8 1175.9,602.2 1176.8,602.7 1177.7,603.1 1178.6,603.5 1179.5,603.8 1180.5,604.2 1181.4,604.6 1182.3,604.9 1183.3,605.2 1184.2,605.6 1185.2,605.9 1186.1,606.2 1187.1,606.4 1188.1,606.7 1189.0,607.0 1190.0,607.2 1191.0,607.4 1191.9,607.7 1192.9,607.9 1193.9,608.1 1194.9,608.3 1195.9,608.5 1196.9,608.6 1197.8,608.8 1198.8,608.9 1199.8,609.0 1200.8,609.2 1201.8,609.3 1202.8,609.4 1203.8,609.5 1204.8,609.5 1205.8,609.6 1206.8,609.7 1207.8,609.7 1208.8,609.8 1209.8,609.9 1210.8,609.9 1211.8,609.9 1212.8,610.0 1213.8,610.0 1214.8,610.0 1215.8,610.0 1216.8,610.0 1217.8,610.0 1218.8,610.0 1219.8,610.0 1220.8,610.0 1221.8,609.9 1222.8,609.9 1223.8,609.9 1224.8,609.8 1225.8,609.8 1226.8,609.8 1227.8,609.7 1228.8,609.7 1229.8,609.6 1230.8,609.5 1231.8,609.5 1232.8,609.4 1233.8,609.4 1234.8,609.3 1235.8,609.2 1236.8,609.2 1237.8,609.1 1238.8,609.0 1239.8,609.0 1240.8,608.9 1241.8,608.8 1242.7,608.8 1243.7,608.7 1244.7,608.6 1245.7,608.6 1246.7,608.5 1247.7,608.4 1248.7,608.3 1249.7,608.3 1250.7,608.2 1251.7,608.1 1252.7,608.1 1253.7,608.0 1254.7,607.9 1255.7,607.8 1256.7,607.8 1257.7,607.7 1258.7,607.6 1259.7,607.5 1260.7,607.4 1261.7,607.4 1262.7,607.3 1263.7,607.2 1264.7,607.1 1265.7,607.0 1266.7,606.9 1267.7,606.9 1268.7,606.8 1269.7,606.7 1270.7,606.6 1271.7,606.5 1272.7,606.4 1273.7,606.4 1274.7,606.3 1275.6,606.2 1276.6,606.1 1277.6,606.0 1278.6,606.0 1279.6,605.9 1280.6,605.8 1281.6,605.7 1282.6,605.7 1283.6,605.6 1284.6,605.5 1285.6,605.5 1286.6,605.4 1287.6,605.3 1288.6,605.3 1289.6,605.2 1290.6,605.1 1291.6,605.1 1292.6,605.0 1293.6,605.0 1294.6,604.9 1295.6,604.8 1296.6,604.8 1297.6,604.7 1298.6,604.7 1299.6,604.6 1300.6,604.5 1301.6,604.5 1302.6,604.4 1303.6,604.4 1304.6,604.3 1305.6,604.3 1306.6,604.2 1307.6,604.2 1308.6,604.1 1309.6,604.1 1310.6,604.0 1311.6,604.0 1312.6,603.9 1313.6,603.9 1314.6,603.8 1315.6,603.8 1316.6,603.7 1317.6,603.7 1318.6,603.6 1319.6,603.6 1320.6,603.5 1321.6,603.5 1322.6,603.4 1323.6,603.4 1324.6,603.4 1325.6,603.3 1326.6,603.3 1327.6,603.2 1328.6,603.2 1329.6,603.2 1330.6,603.1 1331.6,603.1 1332.6,603.0 1333.6,603.0 1334.6,603.0 1335.6,602.9 1336.6,602.9 1337.6,602.9 1338.6,602.8 1339.6,602.8 1340.6,602.8 1341.6,602.8 1342.6,602.7 1343.6,602.7 1344.6,602.7 1345.6,602.6 1346.6,602.6 1347.6,602.6 1348.6,602.5 1349.5,602.5 1350.5,602.5 1351.5,602.5 1352.5,602.4 1353.5,602.4 1354.5,602.4 1355.5,602.3 1356.5,602.3 1357.5,602.3 1358.5,602.3 1359.5,602.2 1360.5,602.2 1361.5,602.2 1362.5,602.2 1363.5,602.2 1364.5,602.1 1365.5,602.1 1366.5,602.1 1367.5,602.1 1368.5,602.1 1369.5,602.0 1370.5,602.0 1371.5,602.0 1372.5,602.0 1373.5,602.0 1374.5,602.0 1375.5,601.9 1376.5,601.9 1377.5,601.9 1378.0,601.9" fill="none" stroke="#fdbb84" stroke-width="6.4" stroke-linejoin="miter" stroke-linecap="square"/>
<polyline points="758.0,508.2 759.0,508.2 760.0,508.2 761.0,508.2 762.0,508.2 763.0,508.2 764.0,508.2 765.0,508.2 766.0,508.2 767.0,508.2 768.0,508.2 769.0,508.2 770.0,508.2 771.0,508.2 772.0,508.2 773.0,508.2 774.0,508.2 775.0,508.2 776.0,508.2 777.0,508.2 778.0,508.2 779.0,508.2 780.0,508.2 781.0,508.2 782.0,508.2 783.0,508.2 784.0,508.2 785.0,508.2 786.0,508.2 787.0,508.2 788.0,508.2 789.0,508.2 790.0,508.2 791.0,508.2 792.0,508.2 793.0,508.2 794.0,508.2 795.0,508.2 796.0,508.2 797.0,508.2 798.0,508.2 799.0,508.2 800.0,508.2 801.0,508.2 802.0,508.2 803.0,508.2 804.0,508.2 805.0,508.2 806.0,508.2 807.0,508.2 808.0,508.2 809.0,508.2 810.0,508.2 811.0,508.2 812.0,508.2 813.0,508.2 814.0,508.2 815.0,508.2 816.0,508.2 817.0,508.2 818.0,508.2 819.0,508.2 820.0,508.2 821.0,508.2 822.0,508.2 823.0,508.2 824.0,508.2 825.0,508.2 826.0,508.2 827.0,508.2 828.0,508.2 829.0,508.2 830.0,508.2 831.0,508.2 832.0,508.2 833.0,508.2 834.0,508.2 835.0,508.2 836.0,508.2 837.0,508.2 838.0,508.2 839.0,508.2 840.0,508.2 841.0,508.2 842.0,508.2 843.0,508.2 844.0,508.2 845.0,508.2 846.0,508.2 847.0,508.2 848.0,508.2 849.0,508.2 850.0,508.2 851.0,508.2 852.0,508.3 853.0,508.3 854.0,508.3 855.0,508.3 856.0,508.3 857.0,508.3 858.0,508.3 859.0,508.3 860.0,508.3 861.0,508.3 862.0,508.3 863.0,508.3 864.0,508.3 865.0,508.3 866.0,508.3 867.0,508.3 868.0,508.3 869.0,508.3 870.0,508.3 871.0,508.3 872.0,508.3 873.0,508.3 874.0,508.3 875.0,508.3 876.0,508.3 877.0,508.3 878.0,508.3 879.0,508.3 880.0,508.3 881.0,508.3 882.0,508.3 883.0,508.3 884.0,508.3 885.0,508.3 886.0,508.3 887.0,508.3 888.0,508.3 889.0,508.3 890.0,508.3 891.0,508.3 892.0,508.3 893.0,508.3 894.0,508.3 895.0,508.3 896.0,508.3 897.0,508.3 898.0,508.3 899.0,508.3 900.0,508.3 901.0,508.3 902.0,508.3 903.0,508.3 904.0,508.3 905.0,508.3 906.0,508.3 907.0,508.3 908.0,508.3 909.0,508.3 910.0,508.4 911.0,508.4 912.0,508.4 913.0,508.4 914.0,508.4 915.0,508.4 916.0,508.4 917.0,508.4 918.0,508.4 919.0,508.4 920.0,508.4 921.0,508.4 922.0,508.4 923.0,508.4 924.0,508.4 925.0,508.4 926.0,508.4 927.0,508.4 928.0,508.4 929.0,508.4 930.0,508.4 931.0,508.4 932.0,508.4 933.0,508.4 934.0,508.4 935.0,508.4 936.0,508.5 937.0,508.5 938.0,508.5 939.0,508.5 940.0,508.5 941.0,508.5 942.0,508.5 943.0,508.6 944.0,508.6 945.0,508.6 946.0,508.6 947.0,508.7 948.0,508.7 949.0,508.7 950.0,508.7 951.0,508.8 952.0,508.8 953.0,508.8 954.0,508.9 955.0,508.9 956.0,508.9 957.0,509.0 958.0,509.0 959.0,509.0 960.0,509.1 961.0,509.1 962.0,509.1 963.0,509.2 964.0,509.2 965.0,509.3 966.0,509.3 967.0,509.4 968.0,509.4 969.0,509.5 970.0,509.5 971.0,509.5 972.0,509.6 973.0,509.6 974.0,509.7 975.0,509.7 976.0,509.8 977.0,509.9 978.0,509.9 979.0,510.0 980.0,510.0 981.0,510.1 982.0,510.2 983.0,510.3 984.0,510.3 985.0,510.4 985.9,510.5 986.9,510.6 987.9,510.7 988.9,510.8 989.9,510.9 990.9,511.0 991.9,511.1 992.9,511.3 993.9,511.4 994.9,511.5 995.9,511.7 996.9,511.8 997.9,512.0 998.8,512.1 999.8,512.3 1000.8,512.4 1001.8,512.6 1002.8,512.7 1003.8,512.9 1004.8,513.1 1005.8,513.3 1006.7,513.4 1007.7,513.6 1008.7,513.8 1009.7,514.0 1010.7,514.2 1011.6,514.4 1012.6,514.7 1013.6,514.9 1014.6,515.1 1015.5,515.4 1016.5,515.6 1017.5,515.9 1018.4,516.1 1019.4,516.4 1020.3,516.7 1021.3,517.0 1022.3,517.3 1023.2,517.6 1024.1,517.9 1025.1,518.3 1026.0,518.6 1027.0,519.0 1027.9,519.3 1028.8,519.7 1029.8,520.0 1030.7,520.4 1031.6,520.8 1032.5,521.2 1033.4,521.6 1034.3,522.1 1035.2,522.5 1036.1,522.9 1037.0,523.4 1037.9,523.9 1038.8,524.3 1039.7,524.8 1040.5,525.3 1041.4,525.8 1042.2,526.3 1043.1,526.9 1043.9,527.4 1044.8,528.0 1045.6,528.5 1046.4,529.1 1047.3,529.6 1048.1,530.2 1048.9,530.8 1049.7,531.4 1050.5,532.0 1051.2,532.7 1052.0,533.3 1052.8,533.9 1053.5,534.6 1054.3,535.3 1055.0,535.9 1055.8,536.6 1056.5,537.3 1057.2,538.0 1057.9,538.7 1058.6,539.5 1059.2,540.2 1059.9,540.9 1060.6,541.7 1061.2,542.4 1061.9,543.2 1062.5,544.0 1063.2,544.7 1063.8,545.5 1064.4,546.3 1065.0,547.1 1065.6,547.9 1066.2,548.7 1066.8,549.5 1067.4,550.3 1068.0,551.1 1068.6,551.9 1069.2,552.7 1069.8,553.5 1070.4,554.3 1071.0,555.1 1071.6,555.9 1072.1,556.8 1072.7,557.6 1073.3,558.4 1073.8,559.2 1074.4,560.1 1075.0,560.9 1075.5,561.7 1076.1,562.6 1076.6,563.4 1077.1,564.2 1077.7,565.1 1078.2,565.9 1078.7,566.8 1079.2,567.6 1079.7,568.5 1080.3,569.4 1080.8,570.2 1081.3,571.1 1081.8,572.0 1082.2,572.8 1082.7,573.7 1083.2,574.6 1083.7,575.5 1084.2,576.3 1084.7,577.2 1085.1,578.1 1085.6,579.0 1086.1,579.8 1086.6,580.7 1087.0,581.6 1087.5,582.5 1088.0,583.4 1088.4,584.3 1088.9,585.1 1089.4,586.0 1089.8,586.9 1090.3,587.8 1090.8,588.7 1091.2,589.6 1091.7,590.5 1092.1,591.4 1092.6,592.2 1093.1,593.1 1093.5,594.0 1094.0,594.9 1094.5,595.8 1094.9,596.7 1095.4,597.6 1095.8,598.4 1096.3,599.3 1096.8,600.2 1097.2,601.1 1097.7,602.0 1098.1,602.9 1098.6,603.8 1099.1,604.7 1099.5,605.6 1100.0,606.4 1100.4,607.3 1100.9,608.2 1101.3,609.1 1101.8,610.0 1102.2,610.9 1102.7,611.8 1103.1,612.7 1103.5,613.6 1104.0,614.5 1104.4,615.4 1104.9,616.3 1105.3,617.2 1105.8,618.1 1106.2,619.0 1106.6,619.9 1107.1,620.8 1107.5,621.7 1108.0,622.6 1108.4,623.5 1108.8,624.4 1109.3,625.3 1109.7,626.2 1110.2,627.1 1110.6,628.0 1111.0,628.9 1111.5,629.8 1111.9,630.7 1112.4,631.6 1112.8,632.5 1113.2,633.3 1113.7,634.2 1114.1,635.1 1114.6,636.0 1115.0,636.9 1115.5,637.8 1115.9,638.7 1116.4,639.6 1116.8,640.5 1117.3,641.4 1117.7,642.3 1118.2,643.2 1118.6,644.1 1119.1,645.0 1119.5,645.9 1120.0,646.7 1120.4,647.6 1120.9,648.5 1121.4,649.4 1121.8,650.3 1122.3,651.2 1122.7,652.1 1123.2,653.0 1123.6,653.9 1124.1,654.8 1124.5,655.7 1125.0,656.6 1125.4,657.4 1125.9,658.3 1126.3,659.2 1126.8,660.1 1127.2,661.0 1127.7,661.9 1128.2,662.8 1128.6,663.7 1129.1,664.6 1129.6,665.4 1130.0,666.3 1130.5,667.2 1131.0,668.1 1131.5,668.9 1132.0,669.8 1132.5,670.7 1133.0,671.5 1133.5,672.4 1134.0,673.3 1134.5,674.1 1135.0,675.0 1135.6,675.8 1136.1,676.7 1136.6,677.5 1137.2,678.4 1137.7,679.2 1138.3,680.0 1138.8,680.9 1139.4,681.7 1139.9,682.5 1140.5,683.3 1141.1,684.2 1141.7,685.0 1142.2,685.8 1142.8,686.6 1143.4,687.4 1144.0,688.2 1144.6,689.0 1145.3,689.8 1145.9,690.5 1146.5,691.3 1147.2,692.1 1147.9,692.8 1148.5,693.6 1149.2,694.3 1149.9,695.0 1150.6,695.7 1151.3,696.4 1152.1,697.1 1152.8,697.7 1153.6,698.4 1154.4,699.0 1155.1,699.7 1155.9,700.3 1156.7,700.9 1157.5,701.5 1158.3,702.1 1159.2,702.6 1160.0,703.1 1160.9,703.7 1161.7,704.2 1162.6,704.6 1163.5,705.1 1164.4,705.5 1165.4,705.9 1166.3,706.2 1167.2,706.6 1168.2,706.9 1169.1,707.1 1170.1,707.4 1171.1,707.6 1172.1,707.8 1173.0,708.0 1174.0,708.2 1175.0,708.3 1176.0,708.5 1177.0,708.6 1178.0,708.6 1179.0,708.7 1180.0,708.7 1181.0,708.8 1182.0,708.8 1183.0,708.7 1184.0,708.7 1185.0,708.7 1186.0,708.6 1187.0,708.6 1188.0,708.5 1189.0,708.4 1190.0,708.3 1191.0,708.2 1192.0,708.1 1193.0,708.0 1194.0,707.9 1195.0,707.8 1195.9,707.7 1196.9,707.6 1197.9,707.4 1198.9,707.3 1199.9,707.2 1200.9,707.1 1201.9,706.9 1202.9,706.8 1203.9,706.7 1204.9,706.6 1205.9,706.4 1206.9,706.3 1207.9,706.2 1208.8,706.0 1209.8,705.9 1210.8,705.7 1211.8,705.6 1212.8,705.4 1213.8,705.3 1214.8,705.1 1215.8,704.9 1216.7,704.8 1217.7,704.6 1218.7,704.5 1219.7,704.3 1220.7,704.1 1221.7,704.0 1222.7,703.8 1223.7,703.6 1224.6,703.5 1225.6,703.3 1226.6,703.1 1227.6,703.0 1228.6,702.8 1229.6,702.7 1230.6,702.5 1231.5,702.3 1232.5,702.2 1233.5,702.0 1234.5,701.9 1235.5,701.7 1236.5,701.6 1237.5,701.5 1238.5,701.3 1239.5,701.2 1240.5,701.1 1241.5,701.0 1242.4,700.8 1243.4,700.7 1244.4,700.6 1245.4,700.5 1246.4,700.4 1247.4,700.3 1248.4,700.2 1249.4,700.1 1250.4,700.0 1251.4,699.9 1252.4,699.8 1253.4,699.7 1254.4,699.6 1255.4,699.5 1256.4,699.4 1257.4,699.4 1258.4,699.3 1259.4,699.2 1260.4,699.1 1261.4,699.0 1262.4,698.9 1263.3,698.8 1264.3,698.8 1265.3,698.7 1266.3,698.6 1267.3,698.5 1268.3,698.5 1269.3,698.4 1270.3,698.3 1271.3,698.2 1272.3,698.2 1273.3,698.1 1274.3,698.0 1275.3,698.0 1276.3,697.9 1277.3,697.8 1278.3,697.8 1279.3,697.7 1280.3,697.7 1281.3,697.6 1282.3,697.6 1283.3,697.5 1284.3,697.4 1285.3,697.4 1286.3,697.4 1287.3,697.3 1288.3,697.3 1289.3,697.2 1290.3,697.2 1291.3,697.1 1292.3,697.1 1293.3,697.1 1294.3,697.0 1295.3,697.0 1296.3,696.9 1297.3,696.9 1298.3,696.9 1299.3,696.8 1300.3,696.8 1301.3,696.7 1302.3,696.7 1303.3,696.7 1304.3,696.6 1305.3,696.6 1306.3,696.6 1307.3,696.5 1308.3,696.5 1309.3,696.4 1310.3,696.4 1311.3,696.4 1312.3,696.3 1313.3,696.3 1314.3,696.3 1315.3,696.2 1316.3,696.2 1317.3,696.2 1318.3,696.1 1319.3,696.1 1320.3,696.1 1321.3,696.0 1322.3,696.0 1323.3,696.0 1324.3,695.9 1325.3,695.9 1326.3,695.9 1327.3,695.9 1328.3,695.8 1329.3,695.8 1330.3,695.8 1331.3,695.7 1332.3,695.7 1333.3,695.7 1334.3,695.7 1335.3,695.6 1336.3,695.6 1337.3,695.6 1338.3,695.5 1339.3,695.5 1340.3,695.5 1341.3,695.5 1342.3,695.5 1343.3,695.4 1344.3,695.4 1345.3,695.4 1346.3,695.4 1347.3,695.3 1348.3,695.3 1349.3,695.3 1350.3,695.3 1351.3,695.3 1352.3,695.2 1353.3,695.2 1354.3,695.2 1355.3,695.2 1356.3,695.2 1357.3,695.2 1358.3,695.2 1359.3,695.1 1360.3,695.1 1361.3,695.1 1362.3,695.1 1363.3,695.1 1364.3,695.1 1365.3,695.1 1366.3,695.1 1367.3,695.1 1368.3,695.0 1369.3,695.0 1370.3,695.0 1371.3,695.0 1372.3,695.0 1373.3,695.0 1374.3,695.0 1375.3,695.0 1376.3,695.0 1377.3,695.0 1378.0,695.0" fill="none" stroke="#fc8d59" stroke-width="6.4" stroke-linejoin="miter" stroke-linecap="square"/>
<polyline points="758.0,508.2 759.0,508.2 760.0,508.2 761.0,508.2 762.0,508.2 763.0,508.2 764.0,508.2 765.0,508.2 766.0,508.2 767.0,508.2 768.0,508.2 769.0,508.2 770.0,508.2 771.0,508.2 772.0,508.2 773.0,508.2 774.0,508.2 775.0,508.2 776.0,508.2 777.0,508.2 778.0,508.2 779.0,508.2 780.0,508.2 781.0,508.2 782.0,508.2 783.0,508.2 784.0,508.2 785.0,508.2 786.0,508.2 787.0,508.2 788.0,508.2 789.0,508.2 790.0,508.2 791.0,508.2 792.0,508.2 793.0,508.2 794.0,508.2 795.0,508.2 796.0,508.2 797.0,508.2 798.0,508.2 799.0,508.2 800.0,508.2 801.0,508.2 802.0,508.2 803.0,508.2 804.0,508.2 805.0,508.2 806.0,508.2 807.0,508.2 808.0,508.2 809.0,508.2 810.0,508.2 811.0,508.2 812.0,508.2 813.0,508.2 814.0,508.2 815.0,508.2 816.0,508.2 817.0,508.2 818.0,508.2 819.0,508.2 820.0,508.2 821.0,508.2 822.0,508.2 823.0,508.2 824.0,508.2 825.0,508.2 826.0,508.2 827.0,508.2 828.0,508.2 829.0,508.3 830.0,508.3 831.0,508.3 832.0,508.3 833.0,508.3 834.0,508.3 835.0,508.3 836.0,508.3 837.0,508.3 838.0,508.3 839.0,508.3 840.0,508.3 841.0,508.3 842.0,508.3 843.0,508.3 844.0,508.3 845.0,508.3 846.0,508.3 847.0,508.3 848.0,508.3 849.0,508.3 850.0,508.3 851.0,508.3 852.0,508.3 853.0,508.3 854.0,508.3 855.0,508.3 856.0,508.3 857.0,508.3 858.0,508.3 859.0,508.3 860.0,508.3 861.0,508.3 862.0,508.3 863.0,508.3 864.0,508.3 865.0,508.3 866.0,508.3 867.0,508.3 868.0,508.3 869.0,508.3 870.0,508.3 871.0,508.3 872.0,508.3 873.0,508.3 874.0,508.3 875.0,508.3 876.0,508.3 877.0,508.4 878.0,508.4 879.0,508.4 880.0,508.4 881.0,508.4 882.0,508.4 883.0,508.4 884.0,508.4 885.0,508.4 886.0,508.4 887.0,508.4 888.0,508.4 889.0,508.4 890.0,508.4 891.0,508.4 892.0,508.4 893.0,508.4 894.0,508.4 895.0,508.4 896.0,508.4 897.0,508.4 898.0,508.4 899.0,508.4 900.0,508.4 901.0,508.4 902.0,508.4 903.0,508.4 904.0,508.4 905.0,508.4 906.0,508.4 907.0,508.4 908.0,508.5 909.0,508.5 910.0,508.5 911.0,508.5 912.0,508.5 913.0,508.5 914.0,508.5 915.0,508.5 916.0,508.5 917.0,508.5 918.0,508.5 919.0,508.5 920.0,508.5 921.0,508.5 922.0,508.5 923.0,508.5 924.0,508.5 925.0,508.5 926.0,508.6 927.0,508.6 928.0,508.6 929.0,508.6 930.0,508.6 931.0,508.6 932.0,508.6 933.0,508.7 934.0,508.7 935.0,508.7 936.0,508.7 937.0,508.7 938.0,508.8 939.0,508.8 940.0,508.8 941.0,508.8 942.0,508.9 943.0,508.9 944.0,508.9 945.0,509.0 946.0,509.0 947.0,509.0 948.0,509.1 949.0,509.1 950.0,509.1 951.0,509.2 952.0,509.2 953.0,509.2 954.0,509.3 955.0,509.3 956.0,509.4 957.0,509.4 958.0,509.4 959.0,509.5 960.0,509.5 961.0,509.6 962.0,509.6 963.0,509.7 964.0,509.7 965.0,509.8 966.0,509.8 967.0,509.9 968.0,509.9 969.0,510.0 970.0,510.1 971.0,510.1 972.0,510.2 973.0,510.3 974.0,510.4 975.0,510.4 975.9,510.5 976.9,510.6 977.9,510.8 978.9,510.9 979.9,511.0 980.9,511.1 981.9,511.2 982.9,511.4 983.9,511.5 984.9,511.7 985.9,511.8 986.9,512.0 987.8,512.2 988.8,512.3 989.8,512.5 990.8,512.7 991.8,512.9 992.8,513.1 993.7,513.2 994.7,513.4 995.7,513.6 996.7,513.8 997.7,514.1 998.6,514.3 999.6,514.5 1000.6,514.7 1001.5,515.0 1002.5,515.2 1003.5,515.5 1004.5,515.7 1005.4,516.0 1006.4,516.3 1007.3,516.6 1008.3,516.9 1009.2,517.2 1010.2,517.5 1011.1,517.8 1012.1,518.2 1013.0,518.5 1013.9,518.9 1014.9,519.2 1015.8,519.6 1016.7,520.0 1017.6,520.4 1018.6,520.8 1019.5,521.2 1020.4,521.6 1021.3,522.1 1022.2,522.5 1023.1,523.0 1024.0,523.4 1024.8,523.9 1025.7,524.3 1026.6,524.8 1027.5,525.3 1028.3,525.8 1029.2,526.3 1030.0,526.9 1030.9,527.4 1031.7,528.0 1032.5,528.6 1033.3,529.1 1034.1,529.8 1034.9,530.4 1035.7,531.0 1036.4,531.7 1037.2,532.3 1037.9,533.0 1038.7,533.7 1039.4,534.3 1040.1,535.0 1040.8,535.8 1041.5,536.5 1042.2,537.2 1042.9,537.9 1043.6,538.7 1044.2,539.4 1044.9,540.1 1045.6,540.9 1046.2,541.7 1046.9,542.4 1047.5,543.2 1048.2,543.9 1048.8,544.7 1049.4,545.5 1050.1,546.2 1050.7,547.0 1051.3,547.8 1052.0,548.6 1052.6,549.4 1053.2,550.2 1053.8,551.0 1054.4,551.8 1055.0,552.6 1055.6,553.4 1056.2,554.2 1056.8,555.0 1057.4,555.8 1057.9,556.6 1058.5,557.4 1059.1,558.3 1059.6,559.1 1060.2,559.9 1060.7,560.8 1061.2,561.6 1061.8,562.5 1062.3,563.3 1062.8,564.2 1063.3,565.0 1063.8,565.9 1064.3,566.8 1064.8,567.6 1065.3,568.5 1065.7,569.4 1066.2,570.3 1066.7,571.2 1067.1,572.1 1067.6,573.0 1068.0,573.9 1068.4,574.8 1068.9,575.7 1069.3,576.6 1069.7,577.5 1070.1,578.4 1070.5,579.3 1070.9,580.2 1071.3,581.2 1071.6,582.1 1072.0,583.0 1072.3,584.0 1072.7,584.9 1073.0,585.8 1073.3,586.8 1073.7,587.7 1074.0,588.7 1074.3,589.6 1074.6,590.6 1074.9,591.5 1075.2,592.5 1075.5,593.4 1075.8,594.4 1076.1,595.4 1076.4,596.3 1076.7,597.3 1077.0,598.2 1077.3,599.2 1077.5,600.1 1077.8,601.1 1078.1,602.1 1078.4,603.0 1078.7,604.0 1079.0,604.9 1079.3,605.9 1079.5,606.9 1079.8,607.8 1080.1,608.8 1080.4,609.7 1080.7,610.7 1081.0,611.6 1081.3,612.6 1081.6,613.6 1081.9,614.5 1082.2,615.5 1082.5,616.4 1082.8,617.4 1083.1,618.3 1083.4,619.3 1083.7,620.2 1084.0,621.2 1084.3,622.1 1084.6,623.1 1084.9,624.0 1085.2,625.0 1085.5,625.9 1085.8,626.9 1086.1,627.9 1086.4,628.8 1086.7,629.8 1087.0,630.7 1087.3,631.7 1087.6,632.6 1087.9,633.6 1088.2,634.5 1088.5,635.5 1088.8,636.4 1089.1,637.4 1089.4,638.4 1089.7,639.3 1089.9,640.3 1090.2,641.2 1090.5,642.2 1090.8,643.2 1091.1,644.1 1091.3,645.1 1091.6,646.0 1091.9,647.0 1092.1,648.0 1092.4,648.9 1092.7,649.9 1092.9,650.9 1093.2,651.8 1093.4,652.8 1093.7,653.8 1093.9,654.7 1094.2,655.7 1094.4,656.7 1094.6,657.7 1094.9,658.6 1095.1,659.6 1095.3,660.6 1095.5,661.5 1095.8,662.5 1096.0,663.5 1096.2,664.5 1096.4,665.4 1096.7,666.4 1096.9,667.4 1097.1,668.4 1097.3,669.3 1097.5,670.3 1097.7,671.3 1098.0,672.3 1098.2,673.3 1098.4,674.2 1098.6,675.2 1098.8,676.2 1099.0,677.2 1099.3,678.1 1099.5,679.1 1099.7,680.1 1099.9,681.1 1100.1,682.0 1100.4,683.0 1100.6,684.0 1100.8,685.0 1101.0,685.9 1101.3,686.9 1101.5,687.9 1101.7,688.9 1101.9,689.8 1102.2,690.8 1102.4,691.8 1102.6,692.7 1102.9,693.7 1103.1,694.7 1103.3,695.7 1103.6,696.6 1103.8,697.6 1104.0,698.6 1104.3,699.6 1104.5,700.5 1104.7,701.5 1105.0,702.5 1105.2,703.4 1105.5,704.4 1105.7,705.4 1106.0,706.3 1106.2,707.3 1106.5,708.3 1106.7,709.3 1107.0,710.2 1107.2,711.2 1107.5,712.2 1107.7,713.1 1108.0,714.1 1108.3,715.0 1108.6,716.0 1108.8,717.0 1109.1,717.9 1109.4,718.9 1109.7,719.8 1110.0,720.8 1110.3,721.8 1110.6,722.7 1110.9,723.7 1111.2,724.6 1111.5,725.6 1111.8,726.5 1112.1,727.5 1112.4,728.4 1112.8,729.4 1113.1,730.3 1113.4,731.2 1113.8,732.2 1114.1,733.1 1114.4,734.1 1114.8,735.0 1115.1,735.9 1115.5,736.9 1115.9,737.8 1116.2,738.7 1116.6,739.7 1117.0,740.6 1117.3,741.5 1117.7,742.4 1118.1,743.4 1118.5,744.3 1118.9,745.2 1119.3,746.1 1119.7,747.0 1120.1,747.9 1120.6,748.8 1121.0,749.7 1121.4,750.6 1121.9,751.5 1122.4,752.4 1122.8,753.3 1123.3,754.2 1123.8,755.0 1124.3,755.9 1124.8,756.8 1125.3,757.6 1125.9,758.5 1126.4,759.3 1126.9,760.2 1127.5,761.0 1128.1,761.8 1128.7,762.6 1129.3,763.4 1129.9,764.2 1130.5,765.0 1131.1,765.8 1131.8,766.5 1132.4,767.3 1133.1,768.0 1133.8,768.8 1134.5,769.5 1135.2,770.2 1135.9,770.9 1136.6,771.6 1137.4,772.3 1138.1,772.9 1138.9,773.5 1139.7,774.2 1140.5,774.8 1141.3,775.3 1142.1,775.9 1143.0,776.4 1143.9,776.9 1144.7,777.3 1145.7,777.8 1146.6,778.1 1147.5,778.5 1148.5,778.8 1149.4,779.1 1150.4,779.4 1151.4,779.6 1152.3,779.8 1153.3,779.9 1154.3,780.0 1155.3,780.1 1156.3,780.1 1157.3,780.1 1158.3,780.1 1159.3,780.1 1160.3,780.1 1161.3,780.0 1162.3,779.9 1163.3,779.8 1164.3,779.7 1165.3,779.6 1166.3,779.5 1167.3,779.4 1168.3,779.3 1169.3,779.1 1170.3,779.0 1171.2,778.8 1172.2,778.7 1173.2,778.5 1174.2,778.4 1175.2,778.2 1176.2,778.0 1177.2,777.9 1178.1,777.7 1179.1,777.5 1180.1,777.3 1181.1,777.1 1182.1,776.9 1183.1,776.7 1184.0,776.5 1185.0,776.3 1186.0,776.2 1187.0,776.0 1188.0,775.8 1189.0,775.6 1189.9,775.4 1190.9,775.2 1191.9,775.1 1192.9,774.9 1193.9,774.7 1194.9,774.6 1195.8,774.4 1196.8,774.2 1197.8,774.1 1198.8,773.9 1199.8,773.7 1200.8,773.6 1201.8,773.4 1202.7,773.2 1203.7,773.1 1204.7,772.9 1205.7,772.8 1206.7,772.6 1207.7,772.4 1208.7,772.3 1209.7,772.1 1210.7,772.0 1211.6,771.8 1212.6,771.7 1213.6,771.6 1214.6,771.4 1215.6,771.3 1216.6,771.2 1217.6,771.1 1218.6,770.9 1219.6,770.8 1220.6,770.7 1221.6,770.6 1222.6,770.5 1223.6,770.4 1224.5,770.3 1225.5,770.2 1226.5,770.1 1227.5,770.0 1228.5,769.9 1229.5,769.8 1230.5,769.7 1231.5,769.6 1232.5,769.6 1233.5,769.5 1234.5,769.4 1235.5,769.3 1236.5,769.2 1237.5,769.1 1238.5,769.1 1239.5,769.0 1240.5,768.9 1241.5,768.8 1242.5,768.8 1243.5,768.7 1244.5,768.6 1245.5,768.5 1246.5,768.5 1247.5,768.4 1248.5,768.3 1249.5,768.3 1250.5,768.2 1251.5,768.1 1252.5,768.1 1253.5,768.0 1254.5,768.0 1255.5,767.9 1256.5,767.8 1257.4,767.8 1258.4,767.7 1259.4,767.7 1260.4,767.6 1261.4,767.6 1262.4,767.5 1263.4,767.5 1264.4,767.4 1265.4,767.4 1266.4,767.3 1267.4,767.3 1268.4,767.2 1269.4,767.2 1270.4,767.1 1271.4,767.1 1272.4,767.0 1273.4,767.0 1274.4,767.0 1275.4,766.9 1276.4,766.9 1277.4,766.9 1278.4,766.8 1279.4,766.8 1280.4,766.8 1281.4,766.7 1282.4,766.7 1283.4,766.6 1284.4,766.6 1285.4,766.6 1286.4,766.6 1287.4,766.5 1288.4,766.5 1289.4,766.5 1290.4,766.4 1291.4,766.4 1292.4,766.4 1293.4,766.3 1294.4,766.3 1295.4,766.3 1296.4,766.3 1297.4,766.2 1298.4,766.2 1299.4,766.2 1300.4,766.2 1301.4,766.1 1302.4,766.1 1303.4,766.1 1304.4,766.1 1305.4,766.0 1306.4,766.0 1307.4,766.0 1308.4,766.0 1309.4,765.9 1310.4,765.9 1311.4,765.9 1312.4,765.9 1313.4,765.9 1314.4,765.8 1315.4,765.8 1316.4,765.8 1317.4,765.8 1318.4,765.8 1319.4,765.7 1320.4,765.7 1321.4,765.7 1322.4,765.7 1323.4,765.7 1324.4,765.7 1325.4,765.6 1326.4,765.6 1327.4,765.6 1328.4,765.6 1329.4,765.6 1330.4,765.6 1331.4,765.6 1332.4,765.5 1333.4,765.5 1334.4,765.5 1335.4,765.5 1336.4,765.5 1337.4,765.5 1338.4,765.5 1339.4,765.4 1340.4,765.4 1341.4,765.4 1342.4,765.4 1343.4,765.4 1344.4,765.4 1345.4,765.4 1346.4,765.4 1347.4,765.3 1348.4,765.3 1349.4,765.3 1350.4,765.3 1351.4,765.3 1352.4,765.3 1353.4,765.3 1354.4,765.3 1355.4,765.3 1356.4,765.2 1357.4,765.2 1358.4,765.2 1359.4,765.2 1360.4,765.2 1361.4,765.2 1362.4,765.2 1363.4,765.2 1364.4,765.2 1365.4,765.2 1366.4,765.2 1367.4,765.2 1368.4,765.1 1369.4,765.1 1370.4,765.1 1371.4,765.1 1372.4,765.1 1373.4,765.1 1374.4,765.1 1375.4,765.1 1376.4,765.1 1377.4,765.1 1378.0,765.1" fill="none" stroke="#ef6548" stroke-width="6.4" stroke-linejoin="miter" stroke-linecap="square"/>
<polyline points="758.0,508.2 759.0,508.2 760.0,508.2 761.0,508.2 762.0,508.2 763.0,508.2 764.0,508.2 765.0,508.2 766.0,508.2 767.0,508.2 768.0,508.2 769.0,508.2 770.0,508.2 771.0,508.2 772.0,508.2 773.0,508.2 774.0,508.2 775.0,508.2 776.0,508.2 777.0,508.2 778.0,508.2 779.0,508.2 780.0,508.2 781.0,508.2 782.0,508.2 783.0,508.2 784.0,508.2 785.0,508.2 786.0,508.2 787.0,508.2 788.0,508.2 789.0,508.2 790.0,508.2 791.0,508.2 792.0,508.2 793.0,508.2 794.0,508.2 795.0,508.2 796.0,508.2 797.0,508.2 798.0,508.2 799.0,508.2 800.0,508.2 801.0,508.2 802.0,508.2 803.0,508.2 804.0,508.2 805.0,508.2 806.0,508.2 807.0,508.2 808.0,508.2 809.0,508.2 810.0,508.2 811.0,508.2 812.0,508.2 813.0,508.2 814.0,508.2 815.0,508.2 816.0,508.2 817.0,508.2 818.0,508.2 819.0,508.2 820.0,508.2 821.0,508.2 822.0,508.2 823.0,508.2 824.0,508.2 825.0,508.2 826.0,508.2 827.0,508.2 828.0,508.2 829.0,508.2 830.0,508.3 831.0,508.3 832.0,508.3 833.0,508.3 834.0,508.3 835.0,508.3 836.0,508.3 837.0,508.3 838.0,508.3 839.0,508.3 840.0,508.3 841.0,508.3 842.0,508.3 843.0,508.3 844.0,508.3 845.0,508.3 846.0,508.3 847.0,508.3 848.0,508.3 849.0,508.3 850.0,508.3 851.0,508.3 852.0,508.3 853.0,508.3 854.0,508.3 855.0,508.3 856.0,508.3 857.0,508.3 858.0,508.3 859.0,508.3 860.0,508.3 861.0,508.3 862.0,508.3 863.0,508.3 864.0,508.3 865.0,508.3 866.0,508.3 867.0,508.3 868.0,508.3 869.0,508.3 870.0,508.3 871.0,508.3 872.0,508.3 873.0,508.3 874.0,508.3 875.0,508.3 876.0,508.3 877.0,508.3 878.0,508.3 879.0,508.3 880.0,508.3 881.0,508.3 882.0,508.4 883.0,508.4 884.0,508.4 885.0,508.4 886.0,508.4 887.0,508.4 888.0,508.4 889.0,508.4 890.0,508.4 891.0,508.4 892.0,508.4 893.0,508.4 894.0,508.4 895.0,508.4 896.0,508.4 897.0,508.4 898.0,508.4 899.0,508.4 900.0,508.4 901.0,508.4 902.0,508.4 903.0,508.4 904.0,508.4 905.0,508.4 906.0,508.4 907.0,508.4 908.0,508.4 909.0,508.4 910.0,508.5 911.0,508.5 912.0,508.5 913.0,508.5 914.0,508.5 915.0,508.5 916.0,508.5 917.0,508.5 918.0,508.5 919.0,508.5 920.0,508.5 921.0,508.5 922.0,508.6 923.0,508.6 924.0,508.6 925.0,508.6 926.0,508.6 927.0,508.6 928.0,508.6 929.0,508.6 930.0,508.7 931.0,508.7 932.0,508.7 933.0,508.7 934.0,508.7 935.0,508.7 936.0,508.8 937.0,508.8 938.0,508.8 939.0,508.8 940.0,508.8 941.0,508.8 942.0,508.9 943.0,508.9 944.0,508.9 945.0,508.9 946.0,508.9 947.0,509.0 948.0,509.0 949.0,509.0 950.0,509.0 951.0,509.1 952.0,509.1 953.0,509.1 954.0,509.1 955.0,509.2 956.0,509.2 957.0,509.2 958.0,509.3 959.0,509.3 960.0,509.4 961.0,509.4 962.0,509.5 963.0,509.5 964.0,509.6 965.0,509.6 966.0,509.7 967.0,509.8 968.0,509.9 969.0,510.0 970.0,510.1 971.0,510.2 972.0,510.3 972.9,510.4 973.9,510.5 974.9,510.7 975.9,510.8 976.9,510.9 977.9,511.1 978.9,511.2 979.9,511.4 980.9,511.5 981.9,511.7 982.8,511.8 983.8,512.0 984.8,512.1 985.8,512.3 986.8,512.5 987.8,512.7 988.8,512.8 989.7,513.0 990.7,513.2 991.7,513.4 992.7,513.6 993.7,513.8 994.6,514.0 995.6,514.2 996.6,514.5 997.6,514.7 998.5,515.0 999.5,515.2 1000.5,515.5 1001.4,515.8 1002.4,516.0 1003.3,516.3 1004.3,516.6 1005.2,516.9 1006.2,517.3 1007.1,517.6 1008.1,517.9 1009.0,518.3 1009.9,518.7 1010.9,519.0 1011.8,519.4 1012.7,519.8 1013.6,520.3 1014.5,520.7 1015.4,521.1 1016.3,521.6 1017.2,522.1 1018.0,522.6 1018.9,523.1 1019.7,523.6 1020.6,524.1 1021.4,524.7 1022.2,525.3 1023.1,525.8 1023.9,526.4 1024.7,527.0 1025.5,527.6 1026.2,528.3 1027.0,528.9 1027.8,529.6 1028.5,530.2 1029.2,530.9 1029.9,531.6 1030.6,532.4 1031.3,533.1 1032.0,533.9 1032.6,534.6 1033.2,535.4 1033.8,536.2 1034.4,537.0 1035.0,537.8 1035.5,538.7 1036.0,539.5 1036.6,540.4 1037.0,541.3 1037.5,542.1 1038.0,543.0 1038.4,543.9 1038.8,544.8 1039.2,545.7 1039.7,546.7 1040.1,547.6 1040.4,548.5 1040.8,549.4 1041.2,550.3 1041.6,551.3 1042.0,552.2 1042.4,553.1 1042.8,554.0 1043.1,554.9 1043.5,555.9 1043.9,556.8 1044.3,557.7 1044.7,558.6 1045.1,559.5 1045.5,560.5 1045.9,561.4 1046.3,562.3 1046.7,563.2 1047.1,564.1 1047.5,565.1 1047.9,566.0 1048.3,566.9 1048.7,567.8 1049.1,568.7 1049.4,569.7 1049.8,570.6 1050.2,571.5 1050.6,572.4 1051.0,573.4 1051.3,574.3 1051.7,575.2 1052.1,576.1 1052.4,577.1 1052.8,578.0 1053.2,578.9 1053.5,579.9 1053.9,580.8 1054.2,581.8 1054.5,582.7 1054.9,583.6 1055.2,584.6 1055.5,585.5 1055.8,586.5 1056.2,587.4 1056.5,588.4 1056.8,589.3 1057.1,590.3 1057.4,591.2 1057.7,592.2 1057.9,593.2 1058.2,594.1 1058.5,595.1 1058.8,596.0 1059.0,597.0 1059.3,598.0 1059.6,598.9 1059.8,599.9 1060.1,600.9 1060.3,601.8 1060.6,602.8 1060.8,603.8 1061.1,604.7 1061.3,605.7 1061.6,606.7 1061.8,607.6 1062.1,608.6 1062.3,609.6 1062.5,610.6 1062.8,611.5 1063.0,612.5 1063.2,613.5 1063.5,614.4 1063.7,615.4 1063.9,616.4 1064.1,617.4 1064.4,618.3 1064.6,619.3 1064.8,620.3 1065.0,621.3 1065.3,622.2 1065.5,623.2 1065.7,624.2 1065.9,625.2 1066.2,626.1 1066.4,627.1 1066.6,628.1 1066.8,629.1 1067.0,630.0 1067.2,631.0 1067.5,632.0 1067.7,633.0 1067.9,634.0 1068.1,634.9 1068.3,635.9 1068.5,636.9 1068.7,637.9 1068.9,638.8 1069.1,639.8 1069.3,640.8 1069.5,641.8 1069.7,642.8 1069.9,643.7 1070.1,644.7 1070.3,645.7 1070.5,646.7 1070.7,647.7 1070.9,648.7 1071.1,649.6 1071.3,650.6 1071.4,651.6 1071.6,652.6 1071.8,653.6 1072.0,654.5 1072.2,655.5 1072.4,656.5 1072.6,657.5 1072.8,658.5 1072.9,659.5 1073.1,660.4 1073.3,661.4 1073.5,662.4 1073.7,663.4 1073.9,664.4 1074.1,665.3 1074.3,666.3 1074.5,667.3 1074.7,668.3 1074.9,669.3 1075.0,670.3 1075.2,671.2 1075.4,672.2 1075.7,673.2 1075.9,674.2 1076.1,675.1 1076.3,676.1 1076.5,677.1 1076.7,678.1 1076.9,679.1 1077.1,680.0 1077.3,681.0 1077.5,682.0 1077.8,683.0 1078.0,683.9 1078.2,684.9 1078.4,685.9 1078.6,686.9 1078.9,687.8 1079.1,688.8 1079.3,689.8 1079.5,690.8 1079.8,691.7 1080.0,692.7 1080.2,693.7 1080.5,694.7 1080.7,695.6 1080.9,696.6 1081.2,697.6 1081.4,698.5 1081.6,699.5 1081.9,700.5 1082.1,701.5 1082.4,702.4 1082.6,703.4 1082.8,704.4 1083.1,705.3 1083.4,706.3 1083.6,707.3 1083.9,708.2 1084.1,709.2 1084.4,710.2 1084.6,711.1 1084.9,712.1 1085.2,713.1 1085.5,714.0 1085.7,715.0 1086.0,715.9 1086.3,716.9 1086.6,717.9 1086.8,718.8 1087.1,719.8 1087.4,720.7 1087.7,721.7 1088.0,722.7 1088.3,723.6 1088.6,724.6 1088.9,725.5 1089.2,726.5 1089.5,727.4 1089.8,728.4 1090.1,729.3 1090.4,730.3 1090.7,731.2 1091.0,732.2 1091.3,733.2 1091.6,734.1 1091.9,735.1 1092.2,736.0 1092.5,737.0 1092.8,737.9 1093.1,738.9 1093.4,739.8 1093.7,740.8 1094.0,741.7 1094.2,742.7 1094.5,743.7 1094.8,744.6 1095.1,745.6 1095.4,746.5 1095.7,747.5 1096.0,748.4 1096.3,749.4 1096.6,750.4 1096.9,751.3 1097.1,752.3 1097.4,753.2 1097.7,754.2 1098.0,755.1 1098.3,756.1 1098.6,757.1 1098.9,758.0 1099.2,759.0 1099.5,759.9 1099.8,760.9 1100.1,761.8 1100.3,762.8 1100.6,763.8 1100.9,764.7 1101.2,765.7 1101.5,766.6 1101.8,767.6 1102.2,768.5 1102.5,769.5 1102.8,770.4 1103.1,771.4 1103.4,772.3 1103.7,773.3 1104.1,774.2 1104.4,775.2 1104.7,776.1 1105.1,777.0 1105.4,778.0 1105.7,778.9 1106.1,779.9 1106.4,780.8 1106.8,781.7 1107.2,782.6 1107.6,783.6 1107.9,784.5 1108.3,785.4 1108.7,786.3 1109.1,787.3 1109.5,788.2 1109.9,789.1 1110.3,790.0 1110.8,790.9 1111.2,791.8 1111.6,792.7 1112.0,793.6 1112.4,794.5 1112.9,795.4 1113.3,796.3 1113.7,797.2 1114.2,798.1 1114.6,799.0 1115.1,799.9 1115.6,800.8 1116.0,801.7 1116.5,802.6 1117.0,803.4 1117.5,804.3 1118.0,805.2 1118.5,806.0 1119.0,806.9 1119.6,807.7 1120.1,808.6 1120.7,809.4 1121.3,810.2 1121.9,811.0 1122.6,811.7 1123.2,812.5 1123.9,813.2 1124.6,813.9 1125.3,814.6 1126.1,815.3 1126.8,815.9 1127.6,816.6 1128.4,817.2 1129.2,817.8 1130.0,818.4 1130.8,818.9 1131.7,819.5 1132.5,820.0 1133.4,820.5 1134.3,821.0 1135.1,821.4 1136.1,821.9 1137.0,822.3 1137.9,822.6 1138.8,822.9 1139.8,823.2 1140.8,823.5 1141.8,823.7 1142.7,823.8 1143.7,824.0 1144.7,824.1 1145.7,824.1 1146.7,824.2 1147.7,824.2 1148.7,824.1 1149.7,824.1 1150.7,824.1 1151.7,824.0 1152.7,823.9 1153.7,823.8 1154.7,823.7 1155.7,823.6 1156.7,823.5 1157.7,823.4 1158.7,823.2 1159.7,823.1 1160.7,823.0 1161.7,822.9 1162.6,822.7 1163.6,822.6 1164.6,822.5 1165.6,822.3 1166.6,822.2 1167.6,822.1 1168.6,821.9 1169.6,821.8 1170.6,821.7 1171.6,821.6 1172.6,821.5 1173.6,821.4 1174.6,821.2 1175.5,821.1 1176.5,821.0 1177.5,820.9 1178.5,820.8 1179.5,820.7 1180.5,820.6 1181.5,820.5 1182.5,820.4 1183.5,820.3 1184.5,820.2 1185.5,820.1 1186.5,820.0 1187.5,819.8 1188.5,819.7 1189.5,819.6 1190.5,819.5 1191.5,819.4 1192.4,819.3 1193.4,819.2 1194.4,819.1 1195.4,819.0 1196.4,818.9 1197.4,818.8 1198.4,818.7 1199.4,818.6 1200.4,818.5 1201.4,818.4 1202.4,818.3 1203.4,818.2 1204.4,818.1 1205.4,818.0 1206.4,817.9 1207.4,817.8 1208.4,817.7 1209.4,817.6 1210.4,817.5 1211.4,817.4 1212.3,817.3 1213.3,817.2 1214.3,817.1 1215.3,817.0 1216.3,816.9 1217.3,816.9 1218.3,816.8 1219.3,816.7 1220.3,816.6 1221.3,816.5 1222.3,816.4 1223.3,816.4 1224.3,816.3 1225.3,816.2 1226.3,816.1 1227.3,816.1 1228.3,816.0 1229.3,815.9 1230.3,815.8 1231.3,815.8 1232.3,815.7 1233.3,815.6 1234.3,815.5 1235.3,815.5 1236.3,815.4 1237.3,815.3 1238.3,815.2 1239.3,815.2 1240.3,815.1 1241.3,815.0 1242.3,815.0 1243.3,814.9 1244.3,814.8 1245.2,814.7 1246.2,814.7 1247.2,814.6 1248.2,814.5 1249.2,814.5 1250.2,814.4 1251.2,814.4 1252.2,814.3 1253.2,814.2 1254.2,814.2 1255.2,814.1 1256.2,814.0 1257.2,814.0 1258.2,813.9 1259.2,813.9 1260.2,813.8 1261.2,813.8 1262.2,813.7 1263.2,813.7 1264.2,813.6 1265.2,813.6 1266.2,813.5 1267.2,813.5 1268.2,813.4 1269.2,813.4 1270.2,813.3 1271.2,813.3 1272.2,813.3 1273.2,813.2 1274.2,813.2 1275.2,813.1 1276.2,813.1 1277.2,813.1 1278.2,813.0 1279.2,813.0 1280.2,813.0 1281.2,812.9 1282.2,812.9 1283.2,812.9 1284.2,812.8 1285.2,812.8 1286.2,812.8 1287.2,812.8 1288.2,812.7 1289.2,812.7 1290.2,812.7 1291.2,812.6 1292.2,812.6 1293.2,812.6 1294.2,812.6 1295.2,812.5 1296.2,812.5 1297.2,812.5 1298.2,812.5 1299.2,812.4 1300.2,812.4 1301.2,812.4 1302.2,812.4 1303.2,812.4 1304.2,812.3 1305.2,812.3 1306.2,812.3 1307.2,812.3 1308.2,812.2 1309.2,812.2 1310.2,812.2 1311.2,812.2 1312.2,812.2 1313.2,812.1 1314.2,812.1 1315.2,812.1 1316.2,812.1 1317.2,812.1 1318.2,812.1 1319.2,812.0 1320.2,812.0 1321.2,812.0 1322.2,812.0 1323.2,812.0 1324.2,812.0 1325.2,811.9 1326.2,811.9 1327.2,811.9 1328.2,811.9 1329.2,811.9 1330.2,811.9 1331.2,811.9 1332.2,811.8 1333.2,811.8 1334.2,811.8 1335.2,811.8 1336.2,811.8 1337.2,811.8 1338.2,811.8 1339.2,811.8 1340.2,811.7 1341.2,811.7 1342.2,811.7 1343.2,811.7 1344.2,811.7 1345.2,811.7 1346.2,811.7 1347.2,811.7 1348.2,811.6 1349.2,811.6 1350.2,811.6 1351.2,811.6 1352.2,811.6 1353.2,811.6 1354.2,811.6 1355.2,811.6 1356.2,811.6 1357.2,811.5 1358.2,811.5 1359.2,811.5 1360.2,811.5 1361.2,811.5 1362.2,811.5 1363.2,811.5 1364.2,811.5 1365.2,811.5 1366.2,811.5 1367.2,811.5 1368.2,811.5 1369.2,811.4 1370.2,811.4 1371.2,811.4 1372.2,811.4 1373.2,811.4 1374.2,811.4 1375.2,811.4 1376.2,811.4 1377.2,811.4 1378.0,811.4" fill="none" stroke="#d7301f" stroke-width="6.4" stroke-linejoin="miter" stroke-linecap="square"/>
<polyline points="758.0,508.2 759.0,508.2 760.0,508.2 761.0,508.2 762.0,508.2 763.0,508.2 764.0,508.2 765.0,508.2 766.0,508.2 767.0,508.2 768.0,508.2 769.0,508.2 770.0,508.2 771.0,508.2 772.0,508.2 773.0,508.2 774.0,508.2 775.0,508.2 776.0,508.2 777.0,508.2 778.0,508.2 779.0,508.2 780.0,508.2 781.0,508.2 782.0,508.2 783.0,508.2 784.0,508.2 785.0,508.2 786.0,508.2 787.0,508.2 788.0,508.2 789.0,508.2 790.0,508.2 791.0,508.2 792.0,508.2 793.0,508.2 794.0,508.2 795.0,508.2 796.0,508.2 797.0,508.2 798.0,508.2 799.0,508.2 800.0,508.2 801.0,508.2 802.0,508.2 803.0,508.2 804.0,508.2 805.0,508.2 806.0,508.2 807.0,508.2 808.0,508.2 809.0,508.2 810.0,508.2 811.0,508.2 812.0,508.2 813.0,508.2 814.0,508.2 815.0,508.2 816.0,508.2 817.0,508.2 818.0,508.2 819.0,508.2 820.0,508.2 821.0,508.3 822.0,508.3 823.0,508.3 824.0,508.3 825.0,508.3 826.0,508.3 827.0,508.3 828.0,508.3 829.0,508.3 830.0,508.3 831.0,508.3 832.0,508.3 833.0,508.3 834.0,508.3 835.0,508.3 836.0,508.3 837.0,508.3 838.0,508.3 839.0,508.3 840.0,508.3 841.0,508.3 842.0,508.3 843.0,508.3 844.0,508.3 845.0,508.3 846.0,508.3 847.0,508.3 848.0,508.3 849.0,508.3 850.0,508.3 851.0,508.3 852.0,508.3 853.0,508.3 854.0,508.3 855.0,508.3 856.0,508.3 857.0,508.3 858.0,508.3 859.0,508.3 860.0,508.3 861.0,508.3 862.0,508.3 863.0,508.3 864.0,508.3 865.0,508.3 866.0,508.3 867.0,508.3 868.0,508.3 869.0,508.4 870.0,508.4 871.0,508.4 872.0,508.4 873.0,508.4 874.0,508.4 875.0,508.4 876.0,508.4 877.0,508.4 878.0,508.4 879.0,508.4 880.0,508.4 881.0,508.4 882.0,508.4 883.0,508.4 884.0,508.4 885.0,508.4 886.0,508.4 887.0,508.4 888.0,508.4 889.0,508.4 890.0,508.5 891.0,508.5 892.0,508.5 893.0,508.5 894.0,508.5 895.0,508.5 896.0,508.5 897.0,508.5 898.0,508.5 899.0,508.5 900.0,508.5 901.0,508.5 902.0,508.5 903.0,508.5 904.0,508.5 905.0,508.6 906.0,508.6 907.0,508.6 908.0,508.6 909.0,508.6 910.0,508.6 911.0,508.6 912.0,508.6 913.0,508.6 914.0,508.6 915.0,508.6 916.0,508.7 917.0,508.7 918.0,508.7 919.0,508.7 920.0,508.7 921.0,508.7 922.0,508.7 923.0,508.7 924.0,508.7 925.0,508.7 926.0,508.8 927.0,508.8 928.0,508.8 929.0,508.8 930.0,508.8 931.0,508.8 932.0,508.8 933.0,508.9 934.0,508.9 935.0,508.9 936.0,508.9 937.0,508.9 938.0,509.0 939.0,509.0 940.0,509.0 941.0,509.0 942.0,509.1 943.0,509.1 944.0,509.1 945.0,509.2 946.0,509.2 947.0,509.2 948.0,509.3 949.0,509.3 950.0,509.3 951.0,509.4 952.0,509.4 953.0,509.5 954.0,509.5 955.0,509.6 956.0,509.6 957.0,509.7 958.0,509.7 959.0,509.8 960.0,509.9 961.0,509.9 962.0,510.0 963.0,510.1 964.0,510.2 965.0,510.3 966.0,510.4 966.9,510.5 967.9,510.6 968.9,510.7 969.9,510.8 970.9,511.0 971.9,511.1 972.9,511.3 973.9,511.4 974.9,511.6 975.9,511.7 976.8,511.9 977.8,512.1 978.8,512.3 979.8,512.5 980.8,512.7 981.7,512.9 982.7,513.1 983.7,513.4 984.7,513.6 985.6,513.9 986.6,514.1 987.6,514.4 988.5,514.7 989.5,515.0 990.4,515.2 991.4,515.5 992.3,515.9 993.3,516.2 994.2,516.5 995.2,516.8 996.1,517.2 997.0,517.6 998.0,517.9 998.9,518.3 999.8,518.7 1000.7,519.1 1001.6,519.6 1002.5,520.0 1003.4,520.4 1004.3,520.9 1005.2,521.4 1006.0,521.9 1006.9,522.4 1007.7,522.9 1008.6,523.5 1009.4,524.0 1010.2,524.6 1011.1,525.2 1011.9,525.8 1012.7,526.4 1013.5,527.0 1014.2,527.6 1015.0,528.2 1015.8,528.9 1016.6,529.5 1017.3,530.1 1018.1,530.8 1018.8,531.5 1019.6,532.1 1020.3,532.8 1021.0,533.5 1021.8,534.2 1022.5,534.9 1023.2,535.6 1023.8,536.3 1024.5,537.1 1025.2,537.8 1025.8,538.6 1026.4,539.4 1027.0,540.2 1027.6,541.0 1028.2,541.8 1028.7,542.7 1029.3,543.5 1029.8,544.4 1030.3,545.2 1030.8,546.1 1031.2,547.0 1031.7,547.9 1032.1,548.8 1032.6,549.7 1033.0,550.6 1033.5,551.5 1033.9,552.4 1034.3,553.3 1034.7,554.2 1035.1,555.1 1035.6,556.0 1036.0,556.9 1036.4,557.8 1036.8,558.7 1037.3,559.6 1037.7,560.5 1038.1,561.5 1038.5,562.4 1038.9,563.3 1039.3,564.2 1039.7,565.1 1040.1,566.0 1040.5,567.0 1040.8,567.9 1041.2,568.8 1041.5,569.8 1041.9,570.7 1042.2,571.6 1042.5,572.6 1042.8,573.5 1043.1,574.5 1043.4,575.5 1043.7,576.4 1044.0,577.4 1044.2,578.3 1044.5,579.3 1044.7,580.3 1044.9,581.3 1045.2,582.2 1045.4,583.2 1045.6,584.2 1045.8,585.2 1046.1,586.1 1046.3,587.1 1046.5,588.1 1046.7,589.1 1046.9,590.0 1047.1,591.0 1047.3,592.0 1047.5,593.0 1047.7,594.0 1047.9,594.9 1048.1,595.9 1048.3,596.9 1048.5,597.9 1048.7,598.9 1048.9,599.8 1049.1,600.8 1049.3,601.8 1049.5,602.8 1049.6,603.8 1049.8,604.8 1050.0,605.7 1050.2,606.7 1050.4,607.7 1050.6,608.7 1050.8,609.7 1050.9,610.6 1051.1,611.6 1051.3,612.6 1051.5,613.6 1051.7,614.6 1051.8,615.6 1052.0,616.6 1052.2,617.5 1052.4,618.5 1052.5,619.5 1052.7,620.5 1052.9,621.5 1053.0,622.5 1053.2,623.4 1053.4,624.4 1053.5,625.4 1053.7,626.4 1053.9,627.4 1054.1,628.4 1054.2,629.4 1054.4,630.3 1054.6,631.3 1054.7,632.3 1054.9,633.3 1055.1,634.3 1055.2,635.3 1055.4,636.3 1055.6,637.2 1055.8,638.2 1056.0,639.2 1056.1,640.2 1056.3,641.2 1056.5,642.2 1056.7,643.1 1056.9,644.1 1057.0,645.1 1057.2,646.1 1057.4,647.1 1057.6,648.1 1057.8,649.0 1058.0,650.0 1058.1,651.0 1058.3,652.0 1058.5,653.0 1058.7,654.0 1058.8,654.9 1059.0,655.9 1059.2,656.9 1059.4,657.9 1059.5,658.9 1059.7,659.9 1059.8,660.9 1060.0,661.9 1060.2,662.8 1060.3,663.8 1060.5,664.8 1060.6,665.8 1060.7,666.8 1060.9,667.8 1061.0,668.8 1061.2,669.8 1061.3,670.8 1061.4,671.8 1061.5,672.7 1061.6,673.7 1061.8,674.7 1061.9,675.7 1062.0,676.7 1062.1,677.7 1062.2,678.7 1062.3,679.7 1062.4,680.7 1062.5,681.7 1062.6,682.7 1062.7,683.7 1062.8,684.7 1062.9,685.7 1063.0,686.7 1063.1,687.7 1063.2,688.7 1063.3,689.7 1063.4,690.6 1063.5,691.6 1063.6,692.6 1063.7,693.6 1063.8,694.6 1063.9,695.6 1064.0,696.6 1064.2,697.6 1064.3,698.6 1064.4,699.6 1064.5,700.6 1064.6,701.6 1064.7,702.6 1064.9,703.6 1065.0,704.6 1065.1,705.6 1065.2,706.5 1065.4,707.5 1065.5,708.5 1065.6,709.5 1065.7,710.5 1065.9,711.5 1066.0,712.5 1066.1,713.5 1066.3,714.5 1066.4,715.5 1066.5,716.5 1066.7,717.4 1066.8,718.4 1067.0,719.4 1067.1,720.4 1067.2,721.4 1067.4,722.4 1067.5,723.4 1067.7,724.4 1067.8,725.4 1067.9,726.4 1068.1,727.3 1068.2,728.3 1068.4,729.3 1068.5,730.3 1068.7,731.3 1068.8,732.3 1068.9,733.3 1069.1,734.3 1069.2,735.3 1069.4,736.3 1069.5,737.2 1069.7,738.2 1069.8,739.2 1070.0,740.2 1070.1,741.2 1070.2,742.2 1070.4,743.2 1070.5,744.2 1070.7,745.2 1070.8,746.2 1071.0,747.1 1071.1,748.1 1071.2,749.1 1071.4,750.1 1071.5,751.1 1071.7,752.1 1071.8,753.1 1071.9,754.1 1072.1,755.1 1072.2,756.1 1072.3,757.0 1072.5,758.0 1072.6,759.0 1072.7,760.0 1072.9,761.0 1073.0,762.0 1073.1,763.0 1073.3,764.0 1073.4,765.0 1073.5,766.0 1073.7,767.0 1073.8,767.9 1074.0,768.9 1074.1,769.9 1074.2,770.9 1074.4,771.9 1074.5,772.9 1074.6,773.9 1074.8,774.9 1074.9,775.9 1075.1,776.9 1075.2,777.8 1075.3,778.8 1075.5,779.8 1075.6,780.8 1075.8,781.8 1075.9,782.8 1076.1,783.8 1076.2,784.8 1076.4,785.8 1076.5,786.7 1076.7,787.7 1076.8,788.7 1077.0,789.7 1077.2,790.7 1077.3,791.7 1077.5,792.7 1077.7,793.7 1077.9,794.6 1078.0,795.6 1078.2,796.6 1078.4,797.6 1078.6,798.6 1078.8,799.5 1079.0,800.5 1079.2,801.5 1079.4,802.5 1079.6,803.5 1079.8,804.4 1080.0,805.4 1080.3,806.4 1080.5,807.4 1080.7,808.3 1080.9,809.3 1081.2,810.3 1081.4,811.3 1081.6,812.2 1081.8,813.2 1082.1,814.2 1082.3,815.2 1082.6,816.1 1082.8,817.1 1083.1,818.1 1083.3,819.0 1083.6,820.0 1083.8,821.0 1084.1,821.9 1084.4,822.9 1084.6,823.9 1084.9,824.8 1085.2,825.8 1085.5,826.7 1085.8,827.7 1086.1,828.6 1086.4,829.6 1086.7,830.5 1087.1,831.5 1087.4,832.4 1087.8,833.3 1088.2,834.3 1088.5,835.2 1088.9,836.1 1089.4,837.0 1089.8,837.9 1090.2,838.8 1090.7,839.7 1091.1,840.6 1091.6,841.5 1092.1,842.3 1092.6,843.2 1093.1,844.1 1093.6,844.9 1094.2,845.8 1094.7,846.6 1095.3,847.4 1095.8,848.3 1096.4,849.1 1097.0,849.9 1097.6,850.7 1098.3,851.5 1098.9,852.2 1099.6,853.0 1100.3,853.7 1101.0,854.4 1101.7,855.1 1102.5,855.7 1103.2,856.3 1104.0,856.9 1104.9,857.5 1105.7,858.1 1106.6,858.6 1107.4,859.0 1108.3,859.5 1109.2,859.9 1110.1,860.4 1111.1,860.7 1112.0,861.1 1112.9,861.5 1113.9,861.8 1114.8,862.1 1115.8,862.4 1116.7,862.6 1117.7,862.9 1118.7,863.1 1119.7,863.3 1120.7,863.5 1121.6,863.6 1122.6,863.7 1123.6,863.8 1124.6,863.9 1125.6,864.0 1126.6,864.0 1127.6,864.0 1128.6,864.0 1129.6,864.0 1130.6,864.0 1131.6,864.0 1132.6,864.0 1133.6,863.9 1134.6,863.9 1135.6,863.9 1136.6,863.8 1137.6,863.8 1138.6,863.7 1139.6,863.6 1140.6,863.6 1141.6,863.5 1142.6,863.4 1143.6,863.4 1144.6,863.3 1145.6,863.2 1146.6,863.1 1147.6,863.1 1148.6,863.0 1149.6,862.9 1150.6,862.8 1151.6,862.7 1152.6,862.7 1153.6,862.6 1154.6,862.5 1155.6,862.4 1156.6,862.3 1157.6,862.3 1158.6,862.2 1159.6,862.1 1160.6,862.0 1161.6,862.0 1162.6,861.9 1163.6,861.8 1164.6,861.8 1165.5,861.7 1166.5,861.6 1167.5,861.6 1168.5,861.5 1169.5,861.5 1170.5,861.4 1171.5,861.3 1172.5,861.3 1173.5,861.3 1174.5,861.2 1175.5,861.2 1176.5,861.1 1177.5,861.1 1178.5,861.0 1179.5,861.0 1180.5,861.0 1181.5,860.9 1182.5,860.9 1183.5,860.8 1184.5,860.8 1185.5,860.8 1186.5,860.7 1187.5,860.7 1188.5,860.6 1189.5,860.6 1190.5,860.6 1191.5,860.5 1192.5,860.5 1193.5,860.5 1194.5,860.4 1195.5,860.4 1196.5,860.4 1197.5,860.3 1198.5,860.3 1199.5,860.3 1200.5,860.2 1201.5,860.2 1202.5,860.2 1203.5,860.1 1204.5,860.1 1205.5,860.1 1206.5,860.1 1207.5,860.0 1208.5,860.0 1209.5,860.0 1210.5,859.9 1211.5,859.9 1212.5,859.9 1213.5,859.9 1214.5,859.8 1215.5,859.8 1216.5,859.8 1217.5,859.8 1218.5,859.7 1219.5,859.7 1220.5,859.7 1221.5,859.7 1222.5,859.6 1223.5,859.6 1224.5,859.6 1225.5,859.6 1226.5,859.5 1227.5,859.5 1228.5,859.5 1229.5,859.5 1230.5,859.5 1231.5,859.4 1232.5,859.4 1233.5,859.4 1234.5,859.4 1235.5,859.3 1236.5,859.3 1237.5,859.3 1238.5,859.3 1239.5,859.3 1240.5,859.2 1241.5,859.2 1242.5,859.2 1243.5,859.2 1244.5,859.2 1245.5,859.1 1246.5,859.1 1247.5,859.1 1248.5,859.1 1249.5,859.1 1250.5,859.0 1251.5,859.0 1252.5,859.0 1253.5,859.0 1254.5,859.0 1255.5,858.9 1256.5,858.9 1257.5,858.9 1258.5,858.9 1259.5,858.9 1260.5,858.9 1261.5,858.9 1262.5,858.8 1263.5,858.8 1264.5,858.8 1265.5,858.8 1266.5,858.8 1267.5,858.8 1268.5,858.8 1269.5,858.8 1270.5,858.7 1271.5,858.7 1272.5,858.7 1273.5,858.7 1274.5,858.7 1275.5,858.7 1276.5,858.7 1277.5,858.7 1278.5,858.7 1279.5,858.7 1280.5,858.7 1281.5,858.7 1282.5,858.7 1283.5,858.7 1284.5,858.7 1285.5,858.7 1286.5,858.6 1287.5,858.6 1288.5,858.6 1289.5,858.6 1290.5,858.6 1291.5,858.6 1292.5,858.6 1293.5,858.6 1294.5,858.6 1295.5,858.6 1296.5,858.6 1297.5,858.6 1298.5,858.6 1299.5,858.6 1300.5,858.6 1301.5,858.6 1302.5,858.6 1303.5,858.6 1304.5,858.6 1305.5,858.6 1306.5,858.6 1307.5,858.6 1308.5,858.5 1309.5,858.5 1310.5,858.5 1311.5,858.5 1312.5,858.5 1313.5,858.5 1314.5,858.5 1315.5,858.5 1316.5,858.5 1317.5,858.5 1318.5,858.5 1319.5,858.5 1320.5,858.5 1321.5,858.5 1322.5,858.5 1323.5,858.5 1324.5,858.5 1325.5,858.5 1326.5,858.5 1327.5,858.5 1328.5,858.5 1329.5,858.5 1330.5,858.5 1331.5,858.5 1332.5,858.5 1333.5,858.5 1334.5,858.5 1335.5,858.5 1336.5,858.5 1337.5,858.5 1338.5,858.4 1339.5,858.4 1340.5,858.4 1341.5,858.4 1342.5,858.4 1343.5,858.4 1344.5,858.4 1345.5,858.4 1346.5,858.4 1347.5,858.4 1348.5,858.4 1349.5,858.4 1350.5,858.4 1351.5,858.4 1352.5,858.4 1353.5,858.4 1354.5,858.4 1355.5,858.4 1356.5,858.4 1357.5,858.4 1358.5,858.4 1359.5,858.4 1360.5,858.4 1361.5,858.4 1362.5,858.4 1363.5,858.4 1364.5,858.4 1365.5,858.4 1366.5,858.4 1367.5,858.4 1368.5,858.4 1369.5,858.4 1370.5,858.4 1371.5,858.4 1372.5,858.4 1373.5,858.4 1374.5,858.4 1375.5,858.4 1376.5,858.4 1377.5,858.4 1378.0,858.4" fill="none" stroke="#b30000" stroke-width="6.4" stroke-linejoin="miter" stroke-linecap="square"/>
<polyline points="758.0,508.2 759.0,508.2 760.0,508.2 761.0,508.2 762.0,508.2 763.0,508.2 764.0,508.2 765.0,508.2 766.0,508.2 767.0,508.2 768.0,508.2 769.0,508.2 770.0,508.2 771.0,508.2 772.0,508.2 773.0,508.2 774.0,508.2 775.0,508.2 776.0,508.2 777.0,508.2 778.0,508.2 779.0,508.2 780.0,508.2 781.0,508.2 782.0,508.2 783.0,508.2 784.0,508.2 785.0,508.2 786.0,508.2 787.0,508.2 788.0,508.2 789.0,508.2 790.0,508.2 791.0,508.2 792.0,508.2 793.0,508.2 794.0,508.2 795.0,508.2 796.0,508.2 797.0,508.2 798.0,508.2 799.0,508.2 800.0,508.2 801.0,508.2 802.0,508.2 803.0,508.2 804.0,508.2 805.0,508.2 806.0,508.2 807.0,508.2 808.0,508.2 809.0,508.2 810.0,508.2 811.0,508.2 812.0,508.2 813.0,508.2 814.0,508.2 815.0,508.2 816.0,508.2 817.0,508.2 818.0,508.2 819.0,508.2 820.0,508.2 821.0,508.2 822.0,508.3 823.0,508.3 824.0,508.3 825.0,508.3 826.0,508.3 827.0,508.3 828.0,508.3 829.0,508.3 830.0,508.3 831.0,508.3 832.0,508.3 833.0,508.3 834.0,508.3 835.0,508.3 836.0,508.3 837.0,508.3 838.0,508.3 839.0,508.3 840.0,508.3 841.0,508.3 842.0,508.3 843.0,508.3 844.0,508.3 845.0,508.3 846.0,508.3 847.0,508.3 848.0,508.3 849.0,508.3 850.0,508.3 851.0,508.3 852.0,508.3 853.0,508.3 854.0,508.3 855.0,508.3 856.0,508.3 857.0,508.3 858.0,508.3 859.0,508.3 860.0,508.3 861.0,508.3 862.0,508.3 863.0,508.3 864.0,508.3 865.0,508.3 866.0,508.4 867.0,508.4 868.0,508.4 869.0,508.4 870.0,508.4 871.0,508.4 872.0,508.4 873.0,508.4 874.0,508.4 875.0,508.4 876.0,508.4 877.0,508.4 878.0,508.4 879.0,508.4 880.0,508.4 881.0,508.4 882.0,508.4 883.0,508.5 884.0,508.5 885.0,508.5 886.0,508.5 887.0,508.5 888.0,508.5 889.0,508.5 890.0,508.5 891.0,508.5 892.0,508.5 893.0,508.5 894.0,508.5 895.0,508.6 896.0,508.6 897.0,508.6 898.0,508.6 899.0,508.6 900.0,508.6 901.0,508.6 902.0,508.6 903.0,508.6 904.0,508.6 905.0,508.7 906.0,508.7 907.0,508.7 908.0,508.7 909.0,508.7 910.0,508.7 911.0,508.7 912.0,508.7 913.0,508.8 914.0,508.8 915.0,508.8 916.0,508.8 917.0,508.8 918.0,508.8 919.0,508.8 920.0,508.9 921.0,508.9 922.0,508.9 923.0,508.9 924.0,508.9 925.0,508.9 926.0,508.9 927.0,509.0 928.0,509.0 929.0,509.0 930.0,509.0 931.0,509.0 932.0,509.1 933.0,509.1 934.0,509.1 935.0,509.1 936.0,509.2 937.0,509.2 938.0,509.2 939.0,509.2 940.0,509.3 941.0,509.3 942.0,509.3 943.0,509.4 944.0,509.4 945.0,509.5 946.0,509.5 947.0,509.6 948.0,509.6 949.0,509.7 950.0,509.7 951.0,509.8 952.0,509.8 953.0,509.9 954.0,509.9 955.0,510.0 956.0,510.1 957.0,510.1 958.0,510.2 959.0,510.3 960.0,510.4 961.0,510.5 962.0,510.6 962.9,510.7 963.9,510.8 964.9,510.9 965.9,511.0 966.9,511.2 967.9,511.3 968.9,511.5 969.9,511.6 970.9,511.8 971.8,512.0 972.8,512.2 973.8,512.4 974.8,512.6 975.8,512.8 976.7,513.0 977.7,513.2 978.7,513.5 979.7,513.7 980.6,514.0 981.6,514.2 982.6,514.5 983.5,514.8 984.5,515.1 985.4,515.4 986.4,515.7 987.3,516.0 988.3,516.3 989.2,516.6 990.2,517.0 991.1,517.3 992.0,517.7 993.0,518.0 993.9,518.4 994.8,518.8 995.7,519.1 996.7,519.5 997.6,519.9 998.5,520.4 999.4,520.8 1000.3,521.2 1001.2,521.7 1002.1,522.2 1002.9,522.6 1003.8,523.1 1004.7,523.6 1005.5,524.1 1006.4,524.7 1007.2,525.2 1008.1,525.8 1008.9,526.3 1009.7,526.9 1010.5,527.5 1011.3,528.1 1012.1,528.7 1012.9,529.4 1013.6,530.0 1014.4,530.6 1015.1,531.3 1015.9,532.0 1016.6,532.7 1017.3,533.4 1018.0,534.1 1018.7,534.8 1019.4,535.6 1020.0,536.3 1020.7,537.1 1021.3,537.8 1022.0,538.6 1022.6,539.4 1023.2,540.2 1023.8,541.0 1024.3,541.8 1024.9,542.7 1025.4,543.5 1025.9,544.4 1026.5,545.2 1027.0,546.1 1027.4,547.0 1027.9,547.8 1028.4,548.7 1028.8,549.6 1029.3,550.5 1029.7,551.4 1030.1,552.3 1030.5,553.2 1030.9,554.2 1031.3,555.1 1031.7,556.0 1032.1,556.9 1032.5,557.8 1032.8,558.8 1033.2,559.7 1033.6,560.6 1033.9,561.6 1034.3,562.5 1034.6,563.4 1035.0,564.4 1035.3,565.3 1035.6,566.3 1036.0,567.2 1036.3,568.2 1036.6,569.1 1036.9,570.1 1037.2,571.0 1037.5,572.0 1037.8,572.9 1038.1,573.9 1038.4,574.8 1038.7,575.8 1039.0,576.8 1039.2,577.7 1039.5,578.7 1039.8,579.6 1040.0,580.6 1040.3,581.6 1040.5,582.5 1040.8,583.5 1041.0,584.5 1041.3,585.4 1041.5,586.4 1041.8,587.4 1042.0,588.4 1042.2,589.3 1042.5,590.3 1042.7,591.3 1043.0,592.2 1043.2,593.2 1043.4,594.2 1043.6,595.2 1043.9,596.1 1044.1,597.1 1044.3,598.1 1044.6,599.1 1044.8,600.0 1045.0,601.0 1045.2,602.0 1045.4,603.0 1045.7,603.9 1045.9,604.9 1046.1,605.9 1046.3,606.9 1046.5,607.8 1046.7,608.8 1047.0,609.8 1047.2,610.8 1047.4,611.7 1047.6,612.7 1047.8,613.7 1048.0,614.7 1048.2,615.7 1048.4,616.6 1048.6,617.6 1048.8,618.6 1049.0,619.6 1049.2,620.6 1049.4,621.5 1049.6,622.5 1049.8,623.5 1050.0,624.5 1050.2,625.5 1050.4,626.4 1050.6,627.4 1050.8,628.4 1050.9,629.4 1051.1,630.4 1051.3,631.4 1051.5,632.3 1051.7,633.3 1051.8,634.3 1052.0,635.3 1052.2,636.3 1052.4,637.3 1052.5,638.2 1052.7,639.2 1052.9,640.2 1053.0,641.2 1053.2,642.2 1053.4,643.2 1053.5,644.2 1053.7,645.2 1053.8,646.1 1054.0,647.1 1054.1,648.1 1054.3,649.1 1054.4,650.1 1054.6,651.1 1054.7,652.1 1054.9,653.1 1055.0,654.1 1055.2,655.0 1055.3,656.0 1055.5,657.0 1055.6,658.0 1055.7,659.0 1055.9,660.0 1056.0,661.0 1056.2,662.0 1056.3,663.0 1056.4,664.0 1056.6,664.9 1056.7,665.9 1056.8,666.9 1056.9,667.9 1057.1,668.9 1057.2,669.9 1057.3,670.9 1057.4,671.9 1057.5,672.9 1057.7,673.9 1057.8,674.9 1057.9,675.9 1058.0,676.9 1058.1,677.9 1058.2,678.8 1058.3,679.8 1058.4,680.8 1058.6,681.8 1058.7,682.8 1058.8,683.8 1058.9,684.8 1059.0,685.8 1059.1,686.8 1059.2,687.8 1059.3,688.8 1059.4,689.8 1059.5,690.8 1059.6,691.8 1059.7,692.8 1059.8,693.8 1059.9,694.8 1060.0,695.7 1060.1,696.7 1060.3,697.7 1060.4,698.7 1060.5,699.7 1060.6,700.7 1060.7,701.7 1060.8,702.7 1060.9,703.7 1061.0,704.7 1061.2,705.7 1061.3,706.7 1061.4,707.7 1061.5,708.7 1061.6,709.7 1061.7,710.7 1061.9,711.6 1062.0,712.6 1062.1,713.6 1062.2,714.6 1062.3,715.6 1062.4,716.6 1062.6,717.6 1062.7,718.6 1062.8,719.6 1062.9,720.6 1063.0,721.6 1063.1,722.6 1063.3,723.6 1063.4,724.6 1063.5,725.5 1063.6,726.5 1063.8,727.5 1063.9,728.5 1064.0,729.5 1064.1,730.5 1064.2,731.5 1064.4,732.5 1064.5,733.5 1064.6,734.5 1064.7,735.5 1064.9,736.5 1065.0,737.5 1065.1,738.4 1065.2,739.4 1065.4,740.4 1065.5,741.4 1065.6,742.4 1065.7,743.4 1065.9,744.4 1066.0,745.4 1066.1,746.4 1066.2,747.4 1066.4,748.4 1066.5,749.4 1066.6,750.4 1066.7,751.3 1066.9,752.3 1067.0,753.3 1067.1,754.3 1067.2,755.3 1067.4,756.3 1067.5,757.3 1067.6,758.3 1067.7,759.3 1067.9,760.3 1068.0,761.3 1068.1,762.3 1068.3,763.3 1068.4,764.2 1068.5,765.2 1068.6,766.2 1068.8,767.2 1068.9,768.2 1069.0,769.2 1069.2,770.2 1069.3,771.2 1069.4,772.2 1069.5,773.2 1069.7,774.2 1069.8,775.1 1069.9,776.1 1070.1,777.1 1070.2,778.1 1070.3,779.1 1070.5,780.1 1070.6,781.1 1070.8,782.1 1070.9,783.1 1071.0,784.1 1071.2,785.1 1071.3,786.0 1071.5,787.0 1071.6,788.0 1071.8,789.0 1071.9,790.0 1072.0,791.0 1072.2,792.0 1072.3,793.0 1072.5,794.0 1072.7,794.9 1072.8,795.9 1073.0,796.9 1073.1,797.9 1073.3,798.9 1073.4,799.9 1073.6,800.9 1073.8,801.9 1073.9,802.8 1074.1,803.8 1074.3,804.8 1074.4,805.8 1074.6,806.8 1074.8,807.8 1074.9,808.8 1075.1,809.7 1075.3,810.7 1075.4,811.7 1075.6,812.7 1075.8,813.7 1076.0,814.7 1076.1,815.7 1076.3,816.6 1076.5,817.6 1076.7,818.6 1076.8,819.6 1077.0,820.6 1077.2,821.6 1077.4,822.5 1077.6,823.5 1077.8,824.5 1078.0,825.5 1078.2,826.5 1078.4,827.4 1078.6,828.4 1078.8,829.4 1079.0,830.4 1079.2,831.4 1079.4,832.3 1079.7,833.3 1079.9,834.3 1080.1,835.2 1080.4,836.2 1080.7,837.2 1080.9,838.1 1081.2,839.1 1081.5,840.1 1081.8,841.0 1082.1,842.0 1082.4,842.9 1082.8,843.9 1083.1,844.8 1083.4,845.7 1083.8,846.7 1084.1,847.6 1084.5,848.5 1084.9,849.5 1085.3,850.4 1085.7,851.3 1086.1,852.2 1086.5,853.1 1086.9,854.0 1087.4,854.9 1087.9,855.8 1088.4,856.7 1088.9,857.5 1089.4,858.3 1090.0,859.2 1090.6,860.0 1091.2,860.7 1091.9,861.5 1092.6,862.2 1093.3,862.9 1094.0,863.6 1094.8,864.2 1095.6,864.9 1096.4,865.5 1097.2,866.0 1098.1,866.6 1098.9,867.1 1099.8,867.6 1100.7,868.0 1101.6,868.4 1102.5,868.8 1103.4,869.2 1104.4,869.5 1105.3,869.8 1106.3,870.1 1107.3,870.3 1108.2,870.6 1109.2,870.7 1110.2,870.9 1111.2,871.0 1112.2,871.2 1113.2,871.3 1114.2,871.4 1115.2,871.5 1116.2,871.5 1117.2,871.6 1118.2,871.7 1119.2,871.8 1120.2,871.8 1121.2,871.9 1122.2,871.9 1123.2,872.0 1124.2,872.0 1125.2,872.1 1126.2,872.1 1127.2,872.1 1128.2,872.2 1129.2,872.2 1130.2,872.2 1131.2,872.3 1132.2,872.3 1133.2,872.3 1134.2,872.3 1135.2,872.3 1136.2,872.3 1137.2,872.3 1138.2,872.3 1139.2,872.3 1140.2,872.3 1141.2,872.3 1142.2,872.3 1143.2,872.2 1144.2,872.2 1145.2,872.2 1146.1,872.1 1147.1,872.1 1148.1,872.0 1149.1,871.9 1150.1,871.9 1151.1,871.8 1152.1,871.7 1153.1,871.7 1154.1,871.6 1155.1,871.5 1156.1,871.5 1157.1,871.4 1158.1,871.3 1159.1,871.2 1160.1,871.1 1161.1,871.1 1162.1,871.0 1163.1,870.9 1164.1,870.9 1165.1,870.8 1166.1,870.7 1167.1,870.7 1168.1,870.6 1169.1,870.6 1170.1,870.5 1171.1,870.5 1172.1,870.4 1173.1,870.4 1174.1,870.4 1175.1,870.3 1176.1,870.3 1177.1,870.2 1178.1,870.2 1179.1,870.2 1180.1,870.1 1181.1,870.1 1182.1,870.1 1183.1,870.0 1184.1,870.0 1185.1,870.0 1186.1,869.9 1187.1,869.9 1188.1,869.9 1189.1,869.8 1190.1,869.8 1191.1,869.8 1192.1,869.8 1193.1,869.7 1194.1,869.7 1195.1,869.7 1196.1,869.6 1197.1,869.6 1198.1,869.6 1199.1,869.6 1200.1,869.5 1201.1,869.5 1202.1,869.5 1203.1,869.5 1204.1,869.4 1205.1,869.4 1206.1,869.4 1207.1,869.4 1208.1,869.4 1209.1,869.3 1210.1,869.3 1211.1,869.3 1212.1,869.3 1213.1,869.3 1214.1,869.2 1215.1,869.2 1216.1,869.2 1217.1,869.2 1218.1,869.2 1219.1,869.2 1220.1,869.2 1221.1,869.1 1222.1,869.1 1223.1,869.1 1224.1,869.1 1225.1,869.1 1226.1,869.1 1227.1,869.1 1228.1,869.1 1229.1,869.0 1230.1,869.0 1231.1,869.0 1232.1,869.0 1233.1,869.0 1234.1,869.0 1235.1,869.0 1236.1,869.0 1237.1,869.0 1238.1,869.0 1239.1,868.9 1240.1,868.9 1241.1,868.9 1242.1,868.9 1243.1,868.9 1244.1,868.9 1245.1,868.9 1246.1,868.9 1247.1,868.9 1248.1,868.9 1249.1,868.9 1250.1,868.8 1251.1,868.8 1252.1,868.8 1253.1,868.8 1254.1,868.8 1255.1,868.8 1256.1,868.8 1257.1,868.8 1258.1,868.8 1259.1,868.8 1260.1,868.8 1261.1,868.7 1262.1,868.7 1263.1,868.7 1264.1,868.7 1265.1,868.7 1266.1,868.7 1267.1,868.7 1268.1,868.7 1269.1,868.7 1270.1,868.7 1271.1,868.7 1272.1,868.7 1273.1,868.6 1274.1,868.6 1275.1,868.6 1276.1,868.6 1277.1,868.6 1278.1,868.6 1279.1,868.6 1280.1,868.6 1281.1,868.6 1282.1,868.6 1283.1,868.6 1284.1,868.6 1285.1,868.6 1286.1,868.5 1287.1,868.5 1288.1,868.5 1289.1,868.5 1290.1,868.5 1291.1,868.5 1292.1,868.5 1293.1,868.5 1294.1,868.5 1295.1,868.5 1296.1,868.5 1297.1,868.5 1298.1,868.5 1299.1,868.5 1300.1,868.5 1301.1,868.4 1302.1,868.4 1303.1,868.4 1304.1,868.4 1305.1,868.4 1306.1,868.4 1307.1,868.4 1308.1,868.4 1309.1,868.4 1310.1,868.4 1311.1,868.4 1312.1,868.4 1313.1,868.4 1314.1,868.4 1315.1,868.4 1316.1,868.4 1317.1,868.4 1318.1,868.4 1319.1,868.3 1320.1,868.3 1321.1,868.3 1322.1,868.3 1323.1,868.3 1324.1,868.3 1325.1,868.3 1326.1,868.3 1327.1,868.3 1328.1,868.3 1329.1,868.3 1330.1,868.3 1331.1,868.3 1332.1,868.3 1333.1,868.3 1334.1,868.3 1335.1,868.3 1336.1,868.3 1337.1,868.3 1338.1,868.3 1339.1,868.3 1340.1,868.3 1341.1,868.3 1342.1,868.3 1343.1,868.3 1344.1,868.3 1345.1,868.2 1346.1,868.2 1347.1,868.2 1348.1,868.2 1349.1,868.2 1350.1,868.2 1351.1,868.2 1352.1,868.2 1353.1,868.2 1354.1,868.2 1355.1,868.2 1356.1,868.2 1357.1,868.2 1358.1,868.2 1359.1,868.2 1360.1,868.2 1361.1,868.2 1362.1,868.2 1363.1,868.2 1364.1,868.2 1365.1,868.2 1366.1,868.2 1367.1,868.2 1368.1,868.2 1369.1,868.2 1370.1,868.2 1371.1,868.2 1372.1,868.2 1373.1,868.2 1374.1,868.2 1375.1,868.2 1376.1,868.2 1377.1,868.2 1378.0,868.2" fill="none" stroke="#7f0000" stroke-width="6.4" stroke-linejoin="miter" stroke-linecap="square"/>
</g>
<rect x="758" y="470.8" width="619.2" height="410.99999999999994" fill="none" stroke="#000" stroke-width="1.3"/>
<text x="769.7" y="523.6" text-anchor="start" font-size="36.5" >(d)</text>
<text x="1411.6" y="520.5" text-anchor="start" font-size="36.5" >1</text>
<text x="1411.6" y="894.1" text-anchor="start" font-size="36.5" >0</text>
<text transform="translate(1481.5,674.5) rotate(-90)" text-anchor="middle" font-size="36.5">abs. occ.</text>
<text x="810.6" y="936.3" text-anchor="middle" font-size="36.5" >0.1</text>
<text x="1120.2" y="936.3" text-anchor="middle" font-size="36.5" >1</text>
<text x="1067.8" y="985.7" text-anchor="middle" font-size="36.5" >κ E / (N g<tspan font-size="29.2" dy="-13">2</tspan><tspan dy="13">)</tspan></text>
</svg>
</body></html>
